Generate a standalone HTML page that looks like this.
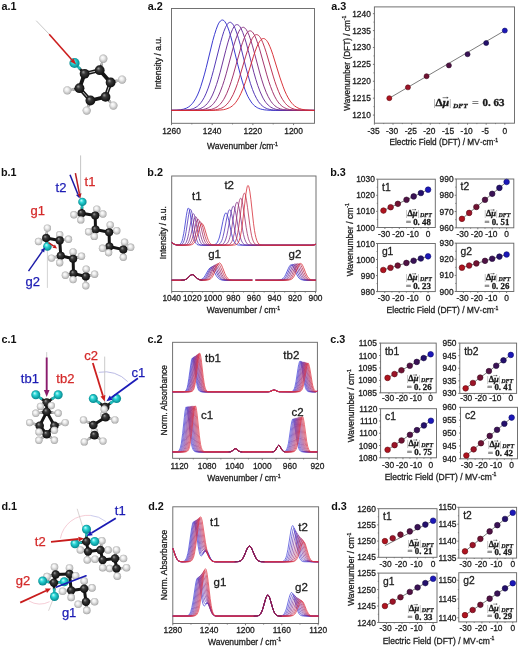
<!DOCTYPE html>
<html><head><meta charset="utf-8"><style>
html,body{margin:0;padding:0;background:#fff;overflow:hidden;}
svg{display:block;}
</style></head><body>
<svg width="520" height="647" viewBox="0 0 520 647">
<rect width="520" height="647" fill="#fff"/>
<defs>
<radialGradient id="gC" cx="50%" cy="50%" r="55%" fx="35%" fy="30%"><stop offset="0" stop-color="#a0a0a0"/><stop offset="0.35" stop-color="#3a3a3a"/><stop offset="1" stop-color="#080808"/></radialGradient>
<radialGradient id="gH" cx="50%" cy="50%" r="55%" fx="38%" fy="32%"><stop offset="0" stop-color="#ffffff"/><stop offset="0.4" stop-color="#ebebeb"/><stop offset="0.8" stop-color="#bdbdbd"/><stop offset="1" stop-color="#8a8a8a"/></radialGradient>
<radialGradient id="gF" cx="50%" cy="50%" r="55%" fx="35%" fy="30%"><stop offset="0" stop-color="#c8ffff"/><stop offset="0.4" stop-color="#28d4d4"/><stop offset="1" stop-color="#007c84"/></radialGradient>
</defs>
<line x1="84.6" y1="73.8" x2="99.7" y2="70.2" stroke="#151515" stroke-width="3.8" stroke-linecap="round"/>
<line x1="84.6" y1="73.8" x2="99.7" y2="70.2" stroke="#d8d8d8" stroke-width="0.9" stroke-linecap="round"/>
<line x1="99.7" y1="70.2" x2="110.6" y2="82.5" stroke="#151515" stroke-width="3.8" stroke-linecap="round"/>
<line x1="110.6" y1="82.5" x2="105.5" y2="96.9" stroke="#151515" stroke-width="3.8" stroke-linecap="round"/>
<line x1="110.6" y1="82.5" x2="105.5" y2="96.9" stroke="#d8d8d8" stroke-width="0.9" stroke-linecap="round"/>
<line x1="105.5" y1="96.9" x2="90.4" y2="100.5" stroke="#151515" stroke-width="3.8" stroke-linecap="round"/>
<line x1="90.4" y1="100.5" x2="79.5" y2="88.2" stroke="#151515" stroke-width="3.8" stroke-linecap="round"/>
<line x1="90.4" y1="100.5" x2="79.5" y2="88.2" stroke="#d8d8d8" stroke-width="0.9" stroke-linecap="round"/>
<line x1="79.5" y1="88.2" x2="84.6" y2="73.8" stroke="#151515" stroke-width="3.8" stroke-linecap="round"/>
<line x1="99.7" y1="70.2" x2="101.5" y2="64.5" stroke="#202020" stroke-width="2.4" stroke-linecap="round"/>
<line x1="101.5" y1="64.5" x2="103.3" y2="58.7" stroke="#b8b8b8" stroke-width="2.4" stroke-linecap="round"/>
<line x1="110.6" y1="82.5" x2="116.3" y2="81.0" stroke="#202020" stroke-width="2.4" stroke-linecap="round"/>
<line x1="116.3" y1="81.0" x2="122.1" y2="79.6" stroke="#b8b8b8" stroke-width="2.4" stroke-linecap="round"/>
<line x1="105.5" y1="96.9" x2="109.5" y2="101.2" stroke="#202020" stroke-width="2.4" stroke-linecap="round"/>
<line x1="109.5" y1="101.2" x2="113.4" y2="105.6" stroke="#b8b8b8" stroke-width="2.4" stroke-linecap="round"/>
<line x1="90.4" y1="100.5" x2="88.6" y2="105.5" stroke="#202020" stroke-width="2.4" stroke-linecap="round"/>
<line x1="88.6" y1="105.5" x2="86.7" y2="110.6" stroke="#b8b8b8" stroke-width="2.4" stroke-linecap="round"/>
<line x1="79.5" y1="88.2" x2="73.4" y2="89.3" stroke="#202020" stroke-width="2.4" stroke-linecap="round"/>
<line x1="73.4" y1="89.3" x2="67.3" y2="90.4" stroke="#b8b8b8" stroke-width="2.4" stroke-linecap="round"/>
<line x1="84.6" y1="73.8" x2="79.5" y2="68.4" stroke="#202020" stroke-width="2.6" stroke-linecap="round"/>
<line x1="79.5" y1="68.4" x2="74.5" y2="63.0" stroke="#20b8b8" stroke-width="2.6" stroke-linecap="round"/>
<circle cx="103.3" cy="58.7" r="4.14" fill="url(#gH)"/>
<circle cx="122.1" cy="79.6" r="4.14" fill="url(#gH)"/>
<circle cx="84.6" cy="73.8" r="4.9" fill="url(#gC)"/>
<circle cx="99.7" cy="70.2" r="4.9" fill="url(#gC)"/>
<circle cx="110.6" cy="82.5" r="4.9" fill="url(#gC)"/>
<circle cx="105.5" cy="96.9" r="4.9" fill="url(#gC)"/>
<circle cx="90.4" cy="100.5" r="4.9" fill="url(#gC)"/>
<circle cx="79.5" cy="88.2" r="4.9" fill="url(#gC)"/>
<circle cx="113.4" cy="105.6" r="4.14" fill="url(#gH)"/>
<circle cx="86.7" cy="110.6" r="4.14" fill="url(#gH)"/>
<circle cx="67.3" cy="90.4" r="4.14" fill="url(#gH)"/>
<circle cx="74.5" cy="63.0" r="5.1" fill="url(#gF)"/>
<line x1="36.5" y1="21.0" x2="49.2" y2="34.2" stroke="#c8c8c8" stroke-width="1.0" stroke-linecap="round"/>
<line x1="49.2" y1="34.2" x2="72.0" y2="60.0" stroke="#cc1e1e" stroke-width="1.6" stroke-linecap="butt"/>
<polygon points="76.0,64.5 70.3,61.5 73.7,58.5" fill="#cc1e1e"/>
<line x1="80.6" y1="155.8" x2="80.6" y2="199.0" stroke="#c0c0c0" stroke-width="0.9" stroke-linecap="round"/>
<line x1="81.6" y1="213.3" x2="95.2" y2="215.6" stroke="#151515" stroke-width="3.0" stroke-linecap="round"/>
<line x1="95.2" y1="215.6" x2="95.5" y2="229.5" stroke="#151515" stroke-width="3.0" stroke-linecap="round"/>
<line x1="95.5" y1="229.5" x2="109.1" y2="232.3" stroke="#151515" stroke-width="3.0" stroke-linecap="round"/>
<line x1="109.1" y1="232.3" x2="109.4" y2="246.5" stroke="#151515" stroke-width="3.0" stroke-linecap="round"/>
<line x1="109.4" y1="246.5" x2="123.3" y2="249.6" stroke="#151515" stroke-width="3.0" stroke-linecap="round"/>
<line x1="81.6" y1="213.3" x2="77.8" y2="214.1" stroke="#202020" stroke-width="2.4" stroke-linecap="round"/>
<line x1="77.8" y1="214.1" x2="73.9" y2="214.8" stroke="#b8b8b8" stroke-width="2.4" stroke-linecap="round"/>
<line x1="81.6" y1="213.3" x2="81.2" y2="216.6" stroke="#202020" stroke-width="2.4" stroke-linecap="round"/>
<line x1="81.2" y1="216.6" x2="80.8" y2="219.9" stroke="#b8b8b8" stroke-width="2.4" stroke-linecap="round"/>
<line x1="95.2" y1="215.6" x2="96.0" y2="212.3" stroke="#202020" stroke-width="2.4" stroke-linecap="round"/>
<line x1="96.0" y1="212.3" x2="96.8" y2="209.1" stroke="#b8b8b8" stroke-width="2.4" stroke-linecap="round"/>
<line x1="95.2" y1="215.6" x2="99.1" y2="214.8" stroke="#202020" stroke-width="2.4" stroke-linecap="round"/>
<line x1="99.1" y1="214.8" x2="102.9" y2="214.0" stroke="#b8b8b8" stroke-width="2.4" stroke-linecap="round"/>
<line x1="95.5" y1="229.5" x2="92.0" y2="230.7" stroke="#202020" stroke-width="2.4" stroke-linecap="round"/>
<line x1="92.0" y1="230.7" x2="88.6" y2="231.8" stroke="#b8b8b8" stroke-width="2.4" stroke-linecap="round"/>
<line x1="95.5" y1="229.5" x2="94.9" y2="232.9" stroke="#202020" stroke-width="2.4" stroke-linecap="round"/>
<line x1="94.9" y1="232.9" x2="94.3" y2="236.4" stroke="#b8b8b8" stroke-width="2.4" stroke-linecap="round"/>
<line x1="109.1" y1="232.3" x2="109.7" y2="228.6" stroke="#202020" stroke-width="2.4" stroke-linecap="round"/>
<line x1="109.7" y1="228.6" x2="110.2" y2="224.9" stroke="#b8b8b8" stroke-width="2.4" stroke-linecap="round"/>
<line x1="109.1" y1="232.3" x2="112.9" y2="231.5" stroke="#202020" stroke-width="2.4" stroke-linecap="round"/>
<line x1="112.9" y1="231.5" x2="116.8" y2="230.7" stroke="#b8b8b8" stroke-width="2.4" stroke-linecap="round"/>
<line x1="109.4" y1="246.5" x2="106.0" y2="247.4" stroke="#202020" stroke-width="2.4" stroke-linecap="round"/>
<line x1="106.0" y1="247.4" x2="102.5" y2="248.3" stroke="#b8b8b8" stroke-width="2.4" stroke-linecap="round"/>
<line x1="109.4" y1="246.5" x2="109.0" y2="249.6" stroke="#202020" stroke-width="2.4" stroke-linecap="round"/>
<line x1="109.0" y1="249.6" x2="108.6" y2="252.7" stroke="#b8b8b8" stroke-width="2.4" stroke-linecap="round"/>
<line x1="123.3" y1="249.6" x2="123.9" y2="245.9" stroke="#202020" stroke-width="2.4" stroke-linecap="round"/>
<line x1="123.9" y1="245.9" x2="124.6" y2="242.2" stroke="#b8b8b8" stroke-width="2.4" stroke-linecap="round"/>
<line x1="123.3" y1="249.6" x2="127.0" y2="248.4" stroke="#202020" stroke-width="2.4" stroke-linecap="round"/>
<line x1="127.0" y1="248.4" x2="130.7" y2="247.3" stroke="#b8b8b8" stroke-width="2.4" stroke-linecap="round"/>
<line x1="123.3" y1="249.6" x2="123.3" y2="253.4" stroke="#202020" stroke-width="2.4" stroke-linecap="round"/>
<line x1="123.3" y1="253.4" x2="123.3" y2="257.3" stroke="#b8b8b8" stroke-width="2.4" stroke-linecap="round"/>
<line x1="81.6" y1="213.3" x2="82.0" y2="207.6" stroke="#202020" stroke-width="2.6" stroke-linecap="round"/>
<line x1="82.0" y1="207.6" x2="82.4" y2="201.9" stroke="#20b8b8" stroke-width="2.6" stroke-linecap="round"/>
<circle cx="96.8" cy="209.1" r="3.6799999999999997" fill="url(#gH)"/>
<circle cx="102.9" cy="214.0" r="3.6799999999999997" fill="url(#gH)"/>
<circle cx="110.2" cy="224.9" r="3.6799999999999997" fill="url(#gH)"/>
<circle cx="116.8" cy="230.7" r="3.6799999999999997" fill="url(#gH)"/>
<circle cx="124.6" cy="242.2" r="3.6799999999999997" fill="url(#gH)"/>
<circle cx="130.7" cy="247.3" r="3.6799999999999997" fill="url(#gH)"/>
<circle cx="81.6" cy="213.3" r="4.1" fill="url(#gC)"/>
<circle cx="95.2" cy="215.6" r="4.1" fill="url(#gC)"/>
<circle cx="95.5" cy="229.5" r="4.1" fill="url(#gC)"/>
<circle cx="109.1" cy="232.3" r="4.1" fill="url(#gC)"/>
<circle cx="109.4" cy="246.5" r="4.1" fill="url(#gC)"/>
<circle cx="123.3" cy="249.6" r="4.1" fill="url(#gC)"/>
<circle cx="73.9" cy="214.8" r="3.6799999999999997" fill="url(#gH)"/>
<circle cx="80.8" cy="219.9" r="3.6799999999999997" fill="url(#gH)"/>
<circle cx="88.6" cy="231.8" r="3.6799999999999997" fill="url(#gH)"/>
<circle cx="94.3" cy="236.4" r="3.6799999999999997" fill="url(#gH)"/>
<circle cx="102.5" cy="248.3" r="3.6799999999999997" fill="url(#gH)"/>
<circle cx="108.6" cy="252.7" r="3.6799999999999997" fill="url(#gH)"/>
<circle cx="123.3" cy="257.3" r="3.6799999999999997" fill="url(#gH)"/>
<circle cx="82.4" cy="201.9" r="4.2" fill="url(#gF)"/>
<line x1="70.0" y1="174.7" x2="77.9" y2="194.3" stroke="#1a1aa8" stroke-width="1.5" stroke-linecap="butt"/>
<polygon points="79.6,198.5 76.0,195.1 79.9,193.5" fill="#1a1aa8"/>
<line x1="75.4" y1="173.1" x2="79.4" y2="193.6" stroke="#b81c22" stroke-width="1.5" stroke-linecap="butt"/>
<polygon points="80.3,198.0 77.4,194.0 81.5,193.2" fill="#b81c22"/>
<line x1="47.4" y1="247.0" x2="47.4" y2="287.5" stroke="#c8c8c8" stroke-width="0.8" stroke-linecap="round"/>
<line x1="47.4" y1="247.0" x2="33.0" y2="262.0" stroke="#e0d8d8" stroke-width="0.6" stroke-linecap="round"/>
<line x1="46.2" y1="238.1" x2="59.7" y2="240.4" stroke="#151515" stroke-width="3.0" stroke-linecap="round"/>
<line x1="59.7" y1="240.4" x2="60.8" y2="255.8" stroke="#151515" stroke-width="3.0" stroke-linecap="round"/>
<line x1="60.8" y1="255.8" x2="73.1" y2="258.8" stroke="#151515" stroke-width="3.0" stroke-linecap="round"/>
<line x1="73.1" y1="258.8" x2="73.5" y2="273.5" stroke="#151515" stroke-width="3.0" stroke-linecap="round"/>
<line x1="73.5" y1="273.5" x2="85.8" y2="276.5" stroke="#151515" stroke-width="3.0" stroke-linecap="round"/>
<line x1="46.2" y1="238.1" x2="46.8" y2="233.1" stroke="#202020" stroke-width="2.4" stroke-linecap="round"/>
<line x1="46.8" y1="233.1" x2="47.4" y2="228.1" stroke="#b8b8b8" stroke-width="2.4" stroke-linecap="round"/>
<line x1="46.2" y1="238.1" x2="42.4" y2="239.8" stroke="#202020" stroke-width="2.4" stroke-linecap="round"/>
<line x1="42.4" y1="239.8" x2="38.5" y2="241.5" stroke="#b8b8b8" stroke-width="2.4" stroke-linecap="round"/>
<line x1="59.7" y1="240.4" x2="59.7" y2="237.6" stroke="#202020" stroke-width="2.4" stroke-linecap="round"/>
<line x1="59.7" y1="237.6" x2="59.7" y2="234.7" stroke="#b8b8b8" stroke-width="2.4" stroke-linecap="round"/>
<line x1="59.7" y1="240.4" x2="64.1" y2="239.9" stroke="#202020" stroke-width="2.4" stroke-linecap="round"/>
<line x1="64.1" y1="239.9" x2="68.5" y2="239.3" stroke="#b8b8b8" stroke-width="2.4" stroke-linecap="round"/>
<line x1="60.8" y1="255.8" x2="56.1" y2="257.0" stroke="#202020" stroke-width="2.4" stroke-linecap="round"/>
<line x1="56.1" y1="257.0" x2="51.5" y2="258.1" stroke="#b8b8b8" stroke-width="2.4" stroke-linecap="round"/>
<line x1="60.8" y1="255.8" x2="60.2" y2="259.2" stroke="#202020" stroke-width="2.4" stroke-linecap="round"/>
<line x1="60.2" y1="259.2" x2="59.7" y2="262.7" stroke="#b8b8b8" stroke-width="2.4" stroke-linecap="round"/>
<line x1="73.1" y1="258.8" x2="73.1" y2="255.4" stroke="#202020" stroke-width="2.4" stroke-linecap="round"/>
<line x1="73.1" y1="255.4" x2="73.1" y2="251.9" stroke="#b8b8b8" stroke-width="2.4" stroke-linecap="round"/>
<line x1="73.1" y1="258.8" x2="77.3" y2="257.5" stroke="#202020" stroke-width="2.4" stroke-linecap="round"/>
<line x1="77.3" y1="257.5" x2="81.5" y2="256.2" stroke="#b8b8b8" stroke-width="2.4" stroke-linecap="round"/>
<line x1="73.5" y1="273.5" x2="69.5" y2="274.4" stroke="#202020" stroke-width="2.4" stroke-linecap="round"/>
<line x1="69.5" y1="274.4" x2="65.4" y2="275.3" stroke="#b8b8b8" stroke-width="2.4" stroke-linecap="round"/>
<line x1="73.5" y1="273.5" x2="73.3" y2="276.6" stroke="#202020" stroke-width="2.4" stroke-linecap="round"/>
<line x1="73.3" y1="276.6" x2="73.1" y2="279.6" stroke="#b8b8b8" stroke-width="2.4" stroke-linecap="round"/>
<line x1="85.8" y1="276.5" x2="86.0" y2="272.9" stroke="#202020" stroke-width="2.4" stroke-linecap="round"/>
<line x1="86.0" y1="272.9" x2="86.2" y2="269.2" stroke="#b8b8b8" stroke-width="2.4" stroke-linecap="round"/>
<line x1="85.8" y1="276.5" x2="90.2" y2="275.4" stroke="#202020" stroke-width="2.4" stroke-linecap="round"/>
<line x1="90.2" y1="275.4" x2="94.6" y2="274.2" stroke="#b8b8b8" stroke-width="2.4" stroke-linecap="round"/>
<line x1="85.8" y1="276.5" x2="85.8" y2="281.1" stroke="#202020" stroke-width="2.4" stroke-linecap="round"/>
<line x1="85.8" y1="281.1" x2="85.8" y2="285.8" stroke="#b8b8b8" stroke-width="2.4" stroke-linecap="round"/>
<line x1="46.2" y1="238.1" x2="46.8" y2="242.3" stroke="#202020" stroke-width="2.6" stroke-linecap="round"/>
<line x1="46.8" y1="242.3" x2="47.4" y2="246.5" stroke="#20b8b8" stroke-width="2.6" stroke-linecap="round"/>
<circle cx="47.4" cy="228.1" r="3.6799999999999997" fill="url(#gH)"/>
<circle cx="59.7" cy="234.7" r="3.6799999999999997" fill="url(#gH)"/>
<circle cx="68.5" cy="239.3" r="3.6799999999999997" fill="url(#gH)"/>
<circle cx="73.1" cy="251.9" r="3.6799999999999997" fill="url(#gH)"/>
<circle cx="81.5" cy="256.2" r="3.6799999999999997" fill="url(#gH)"/>
<circle cx="86.2" cy="269.2" r="3.6799999999999997" fill="url(#gH)"/>
<circle cx="94.6" cy="274.2" r="3.6799999999999997" fill="url(#gH)"/>
<circle cx="46.2" cy="238.1" r="4.1" fill="url(#gC)"/>
<circle cx="59.7" cy="240.4" r="4.1" fill="url(#gC)"/>
<circle cx="60.8" cy="255.8" r="4.1" fill="url(#gC)"/>
<circle cx="73.1" cy="258.8" r="4.1" fill="url(#gC)"/>
<circle cx="73.5" cy="273.5" r="4.1" fill="url(#gC)"/>
<circle cx="85.8" cy="276.5" r="4.1" fill="url(#gC)"/>
<circle cx="38.5" cy="241.5" r="3.6799999999999997" fill="url(#gH)"/>
<circle cx="51.5" cy="258.1" r="3.6799999999999997" fill="url(#gH)"/>
<circle cx="59.7" cy="262.7" r="3.6799999999999997" fill="url(#gH)"/>
<circle cx="65.4" cy="275.3" r="3.6799999999999997" fill="url(#gH)"/>
<circle cx="73.1" cy="279.6" r="3.6799999999999997" fill="url(#gH)"/>
<circle cx="85.8" cy="285.8" r="3.6799999999999997" fill="url(#gH)"/>
<circle cx="47.4" cy="246.5" r="4.3" fill="url(#gF)"/>
<line x1="48.5" y1="242.5" x2="53.7" y2="246.2" stroke="#c01818" stroke-width="1.5" stroke-linecap="butt"/>
<polygon points="57.0,248.5 52.6,247.8 54.9,244.6" fill="#c01818"/>
<line x1="28.5" y1="271.2" x2="42.4" y2="251.2" stroke="#1a1aa8" stroke-width="1.4" stroke-linecap="butt"/>
<polygon points="45.0,247.5 44.2,252.4 40.7,250.0" fill="#1a1aa8"/>
<text x="84.6" y="186.0" font-size="13" fill="#d42a2a" stroke="#d42a2a" stroke-width="0.25" font-family="Liberation Sans, Arial, sans-serif">t1</text>
<text x="55.6" y="191.7" font-size="13" fill="#1c1cb4" stroke="#1c1cb4" stroke-width="0.25" font-family="Liberation Sans, Arial, sans-serif">t2</text>
<text x="30.6" y="214.5" font-size="13" fill="#d42a2a" stroke="#d42a2a" stroke-width="0.25" font-family="Liberation Sans, Arial, sans-serif">g1</text>
<text x="25.6" y="285.5" font-size="13" fill="#1c1cb4" stroke="#1c1cb4" stroke-width="0.25" font-family="Liberation Sans, Arial, sans-serif">g2</text>
<line x1="46.7" y1="352.5" x2="46.7" y2="358.0" stroke="#c8c8c8" stroke-width="0.9" stroke-linecap="round"/>
<line x1="46.7" y1="402.5" x2="46.7" y2="411.8" stroke="#151515" stroke-width="3.0" stroke-linecap="round"/>
<line x1="46.7" y1="411.8" x2="39.7" y2="425.7" stroke="#151515" stroke-width="3.0" stroke-linecap="round"/>
<line x1="46.7" y1="411.8" x2="54.4" y2="425.7" stroke="#151515" stroke-width="3.0" stroke-linecap="round"/>
<line x1="39.7" y1="425.7" x2="46.7" y2="434.2" stroke="#151515" stroke-width="3.0" stroke-linecap="round"/>
<line x1="54.4" y1="425.7" x2="46.7" y2="434.2" stroke="#151515" stroke-width="3.0" stroke-linecap="round"/>
<line x1="46.7" y1="402.5" x2="43.6" y2="404.4" stroke="#202020" stroke-width="2.4" stroke-linecap="round"/>
<line x1="43.6" y1="404.4" x2="40.5" y2="406.4" stroke="#b8b8b8" stroke-width="2.4" stroke-linecap="round"/>
<line x1="46.7" y1="402.5" x2="49.0" y2="404.1" stroke="#202020" stroke-width="2.4" stroke-linecap="round"/>
<line x1="49.0" y1="404.1" x2="51.3" y2="405.6" stroke="#b8b8b8" stroke-width="2.4" stroke-linecap="round"/>
<line x1="46.7" y1="411.8" x2="41.2" y2="412.6" stroke="#202020" stroke-width="2.4" stroke-linecap="round"/>
<line x1="41.2" y1="412.6" x2="35.8" y2="413.3" stroke="#b8b8b8" stroke-width="2.4" stroke-linecap="round"/>
<line x1="46.7" y1="411.8" x2="52.5" y2="412.6" stroke="#202020" stroke-width="2.4" stroke-linecap="round"/>
<line x1="52.5" y1="412.6" x2="58.2" y2="413.3" stroke="#b8b8b8" stroke-width="2.4" stroke-linecap="round"/>
<line x1="39.7" y1="425.7" x2="34.7" y2="424.1" stroke="#202020" stroke-width="2.4" stroke-linecap="round"/>
<line x1="34.7" y1="424.1" x2="29.7" y2="422.6" stroke="#b8b8b8" stroke-width="2.4" stroke-linecap="round"/>
<line x1="39.7" y1="425.7" x2="39.3" y2="428.8" stroke="#202020" stroke-width="2.4" stroke-linecap="round"/>
<line x1="39.3" y1="428.8" x2="38.9" y2="431.9" stroke="#b8b8b8" stroke-width="2.4" stroke-linecap="round"/>
<line x1="54.4" y1="425.7" x2="59.8" y2="424.1" stroke="#202020" stroke-width="2.4" stroke-linecap="round"/>
<line x1="59.8" y1="424.1" x2="65.2" y2="422.6" stroke="#b8b8b8" stroke-width="2.4" stroke-linecap="round"/>
<line x1="54.4" y1="425.7" x2="54.4" y2="428.0" stroke="#202020" stroke-width="2.4" stroke-linecap="round"/>
<line x1="54.4" y1="428.0" x2="54.4" y2="430.3" stroke="#b8b8b8" stroke-width="2.4" stroke-linecap="round"/>
<line x1="46.7" y1="434.2" x2="42.8" y2="437.2" stroke="#202020" stroke-width="2.4" stroke-linecap="round"/>
<line x1="42.8" y1="437.2" x2="38.9" y2="440.3" stroke="#b8b8b8" stroke-width="2.4" stroke-linecap="round"/>
<line x1="46.7" y1="434.2" x2="50.5" y2="437.2" stroke="#202020" stroke-width="2.4" stroke-linecap="round"/>
<line x1="50.5" y1="437.2" x2="54.4" y2="440.3" stroke="#b8b8b8" stroke-width="2.4" stroke-linecap="round"/>
<line x1="46.7" y1="402.5" x2="41.2" y2="398.6" stroke="#202020" stroke-width="2.6" stroke-linecap="round"/>
<line x1="41.2" y1="398.6" x2="35.8" y2="394.8" stroke="#20b8b8" stroke-width="2.6" stroke-linecap="round"/>
<line x1="46.7" y1="402.5" x2="52.5" y2="398.6" stroke="#202020" stroke-width="2.6" stroke-linecap="round"/>
<line x1="52.5" y1="398.6" x2="58.2" y2="394.8" stroke="#20b8b8" stroke-width="2.6" stroke-linecap="round"/>
<circle cx="29.7" cy="422.6" r="3.6799999999999997" fill="url(#gH)"/>
<circle cx="65.2" cy="422.6" r="3.6799999999999997" fill="url(#gH)"/>
<circle cx="46.7" cy="402.5" r="4.3" fill="url(#gC)"/>
<circle cx="46.7" cy="411.8" r="4.3" fill="url(#gC)"/>
<circle cx="39.7" cy="425.7" r="4.3" fill="url(#gC)"/>
<circle cx="54.4" cy="425.7" r="4.3" fill="url(#gC)"/>
<circle cx="46.7" cy="434.2" r="4.3" fill="url(#gC)"/>
<circle cx="40.5" cy="406.4" r="3.6799999999999997" fill="url(#gH)"/>
<circle cx="51.3" cy="405.6" r="3.6799999999999997" fill="url(#gH)"/>
<circle cx="35.8" cy="413.3" r="3.6799999999999997" fill="url(#gH)"/>
<circle cx="58.2" cy="413.3" r="3.6799999999999997" fill="url(#gH)"/>
<circle cx="38.9" cy="431.9" r="3.6799999999999997" fill="url(#gH)"/>
<circle cx="54.4" cy="430.3" r="3.6799999999999997" fill="url(#gH)"/>
<circle cx="38.9" cy="440.3" r="3.6799999999999997" fill="url(#gH)"/>
<circle cx="54.4" cy="440.3" r="3.6799999999999997" fill="url(#gH)"/>
<circle cx="35.8" cy="394.8" r="4.5" fill="url(#gF)"/>
<circle cx="58.2" cy="394.8" r="4.5" fill="url(#gF)"/>
<line x1="46.7" y1="357.5" x2="46.7" y2="390.0" stroke="#8a1c6c" stroke-width="1.9" stroke-linecap="butt"/>
<polygon points="46.7,397.0 43.9,390.0 49.5,390.0" fill="#8a1c6c"/>
<text x="20.8" y="383.2" font-size="13" fill="#1c1cb4" stroke="#1c1cb4" stroke-width="0.25" font-family="Liberation Sans, Arial, sans-serif">tb1</text>
<text x="56.3" y="383.2" font-size="13" fill="#d42a2a" stroke="#d42a2a" stroke-width="0.25" font-family="Liberation Sans, Arial, sans-serif">tb2</text>
<path d="M 98.8 372.3 A 32 32 0 0 1 127.7 381.6" fill="none" stroke="#9c9cd8" stroke-width="0.7"/>
<line x1="104.7" y1="357.0" x2="104.7" y2="402.9" stroke="#c4c4c4" stroke-width="0.9" stroke-linecap="round"/>
<line x1="105.2" y1="407.1" x2="105.6" y2="417.3" stroke="#151515" stroke-width="3.0" stroke-linecap="round"/>
<line x1="105.6" y1="417.3" x2="93.3" y2="425.0" stroke="#151515" stroke-width="3.0" stroke-linecap="round"/>
<line x1="93.3" y1="425.0" x2="94.5" y2="435.1" stroke="#151515" stroke-width="3.0" stroke-linecap="round"/>
<line x1="105.2" y1="407.1" x2="104.7" y2="408.2" stroke="#202020" stroke-width="2.4" stroke-linecap="round"/>
<line x1="104.7" y1="408.2" x2="104.2" y2="409.3" stroke="#b8b8b8" stroke-width="2.4" stroke-linecap="round"/>
<line x1="105.6" y1="417.3" x2="110.2" y2="418.6" stroke="#202020" stroke-width="2.4" stroke-linecap="round"/>
<line x1="110.2" y1="418.6" x2="114.9" y2="419.9" stroke="#b8b8b8" stroke-width="2.4" stroke-linecap="round"/>
<line x1="105.6" y1="417.3" x2="104.8" y2="416.1" stroke="#202020" stroke-width="2.4" stroke-linecap="round"/>
<line x1="104.8" y1="416.1" x2="103.9" y2="414.8" stroke="#b8b8b8" stroke-width="2.4" stroke-linecap="round"/>
<line x1="93.3" y1="425.0" x2="88.4" y2="422.4" stroke="#202020" stroke-width="2.4" stroke-linecap="round"/>
<line x1="88.4" y1="422.4" x2="83.5" y2="419.9" stroke="#b8b8b8" stroke-width="2.4" stroke-linecap="round"/>
<line x1="94.5" y1="435.1" x2="94.5" y2="433.4" stroke="#202020" stroke-width="2.4" stroke-linecap="round"/>
<line x1="94.5" y1="433.4" x2="94.5" y2="431.7" stroke="#b8b8b8" stroke-width="2.4" stroke-linecap="round"/>
<line x1="94.5" y1="435.1" x2="89.4" y2="438.5" stroke="#202020" stroke-width="2.4" stroke-linecap="round"/>
<line x1="89.4" y1="438.5" x2="84.3" y2="441.9" stroke="#b8b8b8" stroke-width="2.4" stroke-linecap="round"/>
<line x1="94.5" y1="435.1" x2="98.8" y2="438.1" stroke="#202020" stroke-width="2.4" stroke-linecap="round"/>
<line x1="98.8" y1="438.1" x2="103.0" y2="441.1" stroke="#b8b8b8" stroke-width="2.4" stroke-linecap="round"/>
<line x1="105.2" y1="407.1" x2="99.2" y2="402.9" stroke="#202020" stroke-width="2.6" stroke-linecap="round"/>
<line x1="99.2" y1="402.9" x2="93.3" y2="398.6" stroke="#20b8b8" stroke-width="2.6" stroke-linecap="round"/>
<line x1="105.2" y1="407.1" x2="110.9" y2="402.9" stroke="#202020" stroke-width="2.6" stroke-linecap="round"/>
<line x1="110.9" y1="402.9" x2="116.6" y2="398.6" stroke="#20b8b8" stroke-width="2.6" stroke-linecap="round"/>
<circle cx="103.9" cy="414.8" r="3.6799999999999997" fill="url(#gH)"/>
<circle cx="83.5" cy="419.9" r="3.6799999999999997" fill="url(#gH)"/>
<circle cx="94.5" cy="431.7" r="3.6799999999999997" fill="url(#gH)"/>
<circle cx="105.2" cy="407.1" r="4.3" fill="url(#gC)"/>
<circle cx="105.6" cy="417.3" r="4.3" fill="url(#gC)"/>
<circle cx="93.3" cy="425.0" r="4.3" fill="url(#gC)"/>
<circle cx="94.5" cy="435.1" r="4.3" fill="url(#gC)"/>
<circle cx="104.2" cy="409.3" r="3.6799999999999997" fill="url(#gH)"/>
<circle cx="114.9" cy="419.9" r="3.6799999999999997" fill="url(#gH)"/>
<circle cx="84.3" cy="441.9" r="3.6799999999999997" fill="url(#gH)"/>
<circle cx="103.0" cy="441.1" r="3.6799999999999997" fill="url(#gH)"/>
<circle cx="93.3" cy="398.6" r="4.5" fill="url(#gF)"/>
<circle cx="116.6" cy="398.6" r="4.5" fill="url(#gF)"/>
<line x1="92.8" y1="362.9" x2="102.9" y2="395.8" stroke="#cc2020" stroke-width="1.8" stroke-linecap="butt"/>
<polygon points="104.7,401.5 100.5,396.5 105.3,395.0" fill="#cc2020"/>
<line x1="137.9" y1="378.2" x2="111.2" y2="397.7" stroke="#1c1cb8" stroke-width="1.8" stroke-linecap="butt"/>
<polygon points="106.4,401.2 109.8,395.6 112.7,399.7" fill="#1c1cb8"/>
<text x="84.2" y="360.4" font-size="13" fill="#d42a2a" stroke="#d42a2a" stroke-width="0.25" font-family="Liberation Sans, Arial, sans-serif">c2</text>
<text x="131.6" y="376.8" font-size="13" fill="#1c1cb4" stroke="#1c1cb4" stroke-width="0.25" font-family="Liberation Sans, Arial, sans-serif">c1</text>
<path d="M 60.4 538.5 A 28 28 0 0 1 90.4 515.4" fill="none" stroke="#f0b8c4" stroke-width="0.7"/>
<path d="M 90.4 515.4 A 28 28 0 0 1 105.8 521.5" fill="none" stroke="#b4b4e4" stroke-width="0.7"/>
<line x1="77.3" y1="509.2" x2="82.7" y2="527.0" stroke="#c8c0c0" stroke-width="0.7" stroke-linecap="round"/>
<line x1="86.5" y1="541.5" x2="88.1" y2="551.5" stroke="#151515" stroke-width="3.0" stroke-linecap="round"/>
<line x1="88.1" y1="551.5" x2="100.4" y2="550.0" stroke="#151515" stroke-width="3.0" stroke-linecap="round"/>
<line x1="100.4" y1="550.0" x2="102.7" y2="560.0" stroke="#151515" stroke-width="3.0" stroke-linecap="round"/>
<line x1="102.7" y1="560.0" x2="115.0" y2="558.5" stroke="#151515" stroke-width="3.0" stroke-linecap="round"/>
<line x1="115.0" y1="558.5" x2="116.5" y2="568.5" stroke="#151515" stroke-width="3.0" stroke-linecap="round"/>
<line x1="100.4" y1="550.0" x2="101.2" y2="545.4" stroke="#202020" stroke-width="2.4" stroke-linecap="round"/>
<line x1="101.2" y1="545.4" x2="101.9" y2="540.8" stroke="#b8b8b8" stroke-width="2.4" stroke-linecap="round"/>
<line x1="88.1" y1="551.5" x2="84.2" y2="550.8" stroke="#202020" stroke-width="2.4" stroke-linecap="round"/>
<line x1="84.2" y1="550.8" x2="80.4" y2="550.0" stroke="#b8b8b8" stroke-width="2.4" stroke-linecap="round"/>
<line x1="88.1" y1="551.5" x2="87.7" y2="555.8" stroke="#202020" stroke-width="2.4" stroke-linecap="round"/>
<line x1="87.7" y1="555.8" x2="87.3" y2="560.0" stroke="#b8b8b8" stroke-width="2.4" stroke-linecap="round"/>
<line x1="100.4" y1="550.0" x2="104.2" y2="550.0" stroke="#202020" stroke-width="2.4" stroke-linecap="round"/>
<line x1="104.2" y1="550.0" x2="108.1" y2="550.0" stroke="#b8b8b8" stroke-width="2.4" stroke-linecap="round"/>
<line x1="102.7" y1="560.0" x2="98.8" y2="559.6" stroke="#202020" stroke-width="2.4" stroke-linecap="round"/>
<line x1="98.8" y1="559.6" x2="95.0" y2="559.2" stroke="#b8b8b8" stroke-width="2.4" stroke-linecap="round"/>
<line x1="102.7" y1="560.0" x2="102.7" y2="563.9" stroke="#202020" stroke-width="2.4" stroke-linecap="round"/>
<line x1="102.7" y1="563.9" x2="102.7" y2="567.7" stroke="#b8b8b8" stroke-width="2.4" stroke-linecap="round"/>
<line x1="115.0" y1="558.5" x2="115.8" y2="554.2" stroke="#202020" stroke-width="2.4" stroke-linecap="round"/>
<line x1="115.8" y1="554.2" x2="116.5" y2="550.0" stroke="#b8b8b8" stroke-width="2.4" stroke-linecap="round"/>
<line x1="115.0" y1="558.5" x2="119.2" y2="558.5" stroke="#202020" stroke-width="2.4" stroke-linecap="round"/>
<line x1="119.2" y1="558.5" x2="123.5" y2="558.5" stroke="#b8b8b8" stroke-width="2.4" stroke-linecap="round"/>
<line x1="116.5" y1="568.5" x2="113.0" y2="568.5" stroke="#202020" stroke-width="2.4" stroke-linecap="round"/>
<line x1="113.0" y1="568.5" x2="109.6" y2="568.5" stroke="#b8b8b8" stroke-width="2.4" stroke-linecap="round"/>
<line x1="116.5" y1="568.5" x2="121.5" y2="568.1" stroke="#202020" stroke-width="2.4" stroke-linecap="round"/>
<line x1="121.5" y1="568.1" x2="126.5" y2="567.7" stroke="#b8b8b8" stroke-width="2.4" stroke-linecap="round"/>
<line x1="116.5" y1="568.5" x2="116.9" y2="572.4" stroke="#202020" stroke-width="2.4" stroke-linecap="round"/>
<line x1="116.9" y1="572.4" x2="117.3" y2="576.2" stroke="#b8b8b8" stroke-width="2.4" stroke-linecap="round"/>
<line x1="86.5" y1="541.5" x2="86.5" y2="535.4" stroke="#202020" stroke-width="2.6" stroke-linecap="round"/>
<line x1="86.5" y1="535.4" x2="86.5" y2="529.2" stroke="#20b8b8" stroke-width="2.6" stroke-linecap="round"/>
<line x1="86.5" y1="541.5" x2="80.8" y2="542.6" stroke="#202020" stroke-width="2.6" stroke-linecap="round"/>
<line x1="80.8" y1="542.6" x2="75.0" y2="543.8" stroke="#20b8b8" stroke-width="2.6" stroke-linecap="round"/>
<line x1="86.5" y1="541.5" x2="90.6" y2="541.5" stroke="#202020" stroke-width="2.6" stroke-linecap="round"/>
<line x1="90.6" y1="541.5" x2="94.7" y2="541.5" stroke="#20b8b8" stroke-width="2.6" stroke-linecap="round"/>
<circle cx="101.9" cy="540.8" r="3.7949999999999995" fill="url(#gH)"/>
<circle cx="80.4" cy="550.0" r="3.7949999999999995" fill="url(#gH)"/>
<circle cx="108.1" cy="550.0" r="3.7949999999999995" fill="url(#gH)"/>
<circle cx="95.0" cy="559.2" r="3.7949999999999995" fill="url(#gH)"/>
<circle cx="116.5" cy="550.0" r="3.7949999999999995" fill="url(#gH)"/>
<circle cx="123.5" cy="558.5" r="3.7949999999999995" fill="url(#gH)"/>
<circle cx="109.6" cy="568.5" r="3.7949999999999995" fill="url(#gH)"/>
<circle cx="126.5" cy="567.7" r="3.7949999999999995" fill="url(#gH)"/>
<circle cx="86.5" cy="541.5" r="4.2" fill="url(#gC)"/>
<circle cx="88.1" cy="551.5" r="4.2" fill="url(#gC)"/>
<circle cx="100.4" cy="550.0" r="4.2" fill="url(#gC)"/>
<circle cx="102.7" cy="560.0" r="4.2" fill="url(#gC)"/>
<circle cx="115.0" cy="558.5" r="4.2" fill="url(#gC)"/>
<circle cx="116.5" cy="568.5" r="4.2" fill="url(#gC)"/>
<circle cx="87.3" cy="560.0" r="3.7949999999999995" fill="url(#gH)"/>
<circle cx="102.7" cy="567.7" r="3.7949999999999995" fill="url(#gH)"/>
<circle cx="117.3" cy="576.2" r="3.7949999999999995" fill="url(#gH)"/>
<circle cx="86.5" cy="529.2" r="4.5" fill="url(#gF)"/>
<circle cx="75.0" cy="543.8" r="4.5" fill="url(#gF)"/>
<circle cx="94.7" cy="541.5" r="4.5" fill="url(#gF)"/>
<line x1="51.0" y1="541.8" x2="78.5" y2="539.0" stroke="#c81c1c" stroke-width="1.8" stroke-linecap="butt"/>
<polygon points="84.0,538.5 78.8,541.4 78.3,536.7" fill="#c81c1c"/>
<line x1="115.8" y1="518.2" x2="91.5" y2="533.1" stroke="#1a1ab4" stroke-width="1.8" stroke-linecap="butt"/>
<polygon points="86.8,536.0 90.2,531.1 92.7,535.2" fill="#1a1ab4"/>
<text x="114.8" y="515.4" font-size="13" fill="#1c1cb4" stroke="#1c1cb4" stroke-width="0.25" font-family="Liberation Sans, Arial, sans-serif">t1</text>
<text x="34.8" y="546.0" font-size="13" fill="#d42a2a" stroke="#d42a2a" stroke-width="0.25" font-family="Liberation Sans, Arial, sans-serif">t2</text>
<path d="M 28.8 600.9 A 22 22 0 0 0 49.6 601.7" fill="none" stroke="#f0b8c4" stroke-width="0.7"/>
<line x1="48.7" y1="610.4" x2="54.8" y2="594.8" stroke="#c8c0c0" stroke-width="0.7" stroke-linecap="round"/>
<line x1="53.9" y1="582.7" x2="55.7" y2="574.5" stroke="#151515" stroke-width="3.0" stroke-linecap="round"/>
<line x1="55.7" y1="574.5" x2="69.5" y2="574.0" stroke="#151515" stroke-width="3.0" stroke-linecap="round"/>
<line x1="69.5" y1="574.0" x2="71.2" y2="590.5" stroke="#151515" stroke-width="3.0" stroke-linecap="round"/>
<line x1="71.2" y1="590.5" x2="84.2" y2="588.7" stroke="#151515" stroke-width="3.0" stroke-linecap="round"/>
<line x1="84.2" y1="588.7" x2="86.0" y2="601.7" stroke="#151515" stroke-width="3.0" stroke-linecap="round"/>
<line x1="55.7" y1="574.5" x2="55.1" y2="570.8" stroke="#202020" stroke-width="2.4" stroke-linecap="round"/>
<line x1="55.1" y1="570.8" x2="54.5" y2="567.1" stroke="#b8b8b8" stroke-width="2.4" stroke-linecap="round"/>
<line x1="55.7" y1="574.5" x2="51.4" y2="575.5" stroke="#202020" stroke-width="2.4" stroke-linecap="round"/>
<line x1="51.4" y1="575.5" x2="47.0" y2="576.6" stroke="#b8b8b8" stroke-width="2.4" stroke-linecap="round"/>
<line x1="69.5" y1="574.0" x2="69.5" y2="571.0" stroke="#202020" stroke-width="2.4" stroke-linecap="round"/>
<line x1="69.5" y1="571.0" x2="69.5" y2="568.0" stroke="#b8b8b8" stroke-width="2.4" stroke-linecap="round"/>
<line x1="69.5" y1="574.0" x2="72.5" y2="574.9" stroke="#202020" stroke-width="2.4" stroke-linecap="round"/>
<line x1="72.5" y1="574.9" x2="75.6" y2="575.8" stroke="#b8b8b8" stroke-width="2.4" stroke-linecap="round"/>
<line x1="71.2" y1="590.5" x2="66.9" y2="590.9" stroke="#202020" stroke-width="2.4" stroke-linecap="round"/>
<line x1="66.9" y1="590.9" x2="62.6" y2="591.3" stroke="#b8b8b8" stroke-width="2.4" stroke-linecap="round"/>
<line x1="71.2" y1="590.5" x2="71.2" y2="594.0" stroke="#202020" stroke-width="2.4" stroke-linecap="round"/>
<line x1="71.2" y1="594.0" x2="71.2" y2="597.4" stroke="#b8b8b8" stroke-width="2.4" stroke-linecap="round"/>
<line x1="84.2" y1="588.7" x2="84.2" y2="584.9" stroke="#202020" stroke-width="2.4" stroke-linecap="round"/>
<line x1="84.2" y1="584.9" x2="84.2" y2="581.0" stroke="#b8b8b8" stroke-width="2.4" stroke-linecap="round"/>
<line x1="84.2" y1="588.7" x2="88.1" y2="588.3" stroke="#202020" stroke-width="2.4" stroke-linecap="round"/>
<line x1="88.1" y1="588.3" x2="92.0" y2="587.9" stroke="#b8b8b8" stroke-width="2.4" stroke-linecap="round"/>
<line x1="86.0" y1="601.7" x2="82.1" y2="603.0" stroke="#202020" stroke-width="2.4" stroke-linecap="round"/>
<line x1="82.1" y1="603.0" x2="78.2" y2="604.3" stroke="#b8b8b8" stroke-width="2.4" stroke-linecap="round"/>
<line x1="86.0" y1="601.7" x2="90.3" y2="601.7" stroke="#202020" stroke-width="2.4" stroke-linecap="round"/>
<line x1="90.3" y1="601.7" x2="94.6" y2="601.7" stroke="#b8b8b8" stroke-width="2.4" stroke-linecap="round"/>
<line x1="86.0" y1="601.7" x2="86.4" y2="606.0" stroke="#202020" stroke-width="2.4" stroke-linecap="round"/>
<line x1="86.4" y1="606.0" x2="86.8" y2="610.4" stroke="#b8b8b8" stroke-width="2.4" stroke-linecap="round"/>
<line x1="53.9" y1="582.7" x2="48.3" y2="581.9" stroke="#202020" stroke-width="2.6" stroke-linecap="round"/>
<line x1="48.3" y1="581.9" x2="42.7" y2="581.0" stroke="#20b8b8" stroke-width="2.6" stroke-linecap="round"/>
<line x1="53.9" y1="582.7" x2="59.1" y2="582.2" stroke="#202020" stroke-width="2.6" stroke-linecap="round"/>
<line x1="59.1" y1="582.2" x2="64.3" y2="581.8" stroke="#20b8b8" stroke-width="2.6" stroke-linecap="round"/>
<line x1="53.9" y1="582.7" x2="54.2" y2="589.6" stroke="#202020" stroke-width="2.6" stroke-linecap="round"/>
<line x1="54.2" y1="589.6" x2="54.5" y2="596.5" stroke="#20b8b8" stroke-width="2.6" stroke-linecap="round"/>
<circle cx="54.5" cy="567.1" r="3.7949999999999995" fill="url(#gH)"/>
<circle cx="69.5" cy="568.0" r="3.7949999999999995" fill="url(#gH)"/>
<circle cx="62.6" cy="591.3" r="3.7949999999999995" fill="url(#gH)"/>
<circle cx="84.2" cy="581.0" r="3.7949999999999995" fill="url(#gH)"/>
<circle cx="92.0" cy="587.9" r="3.7949999999999995" fill="url(#gH)"/>
<circle cx="94.6" cy="601.7" r="3.7949999999999995" fill="url(#gH)"/>
<circle cx="53.9" cy="582.7" r="4.2" fill="url(#gC)"/>
<circle cx="55.7" cy="574.5" r="4.2" fill="url(#gC)"/>
<circle cx="69.5" cy="574.0" r="4.2" fill="url(#gC)"/>
<circle cx="71.2" cy="590.5" r="4.2" fill="url(#gC)"/>
<circle cx="84.2" cy="588.7" r="4.2" fill="url(#gC)"/>
<circle cx="86.0" cy="601.7" r="4.2" fill="url(#gC)"/>
<circle cx="47.0" cy="576.6" r="3.7949999999999995" fill="url(#gH)"/>
<circle cx="75.6" cy="575.8" r="3.7949999999999995" fill="url(#gH)"/>
<circle cx="71.2" cy="597.4" r="3.7949999999999995" fill="url(#gH)"/>
<circle cx="78.2" cy="604.3" r="3.7949999999999995" fill="url(#gH)"/>
<circle cx="86.8" cy="610.4" r="3.7949999999999995" fill="url(#gH)"/>
<circle cx="42.7" cy="581.0" r="4.5" fill="url(#gF)"/>
<circle cx="64.3" cy="581.8" r="4.5" fill="url(#gF)"/>
<circle cx="54.5" cy="596.5" r="4.5" fill="url(#gF)"/>
<line x1="20.2" y1="602.6" x2="46.0" y2="590.8" stroke="#c81c1c" stroke-width="1.8" stroke-linecap="butt"/>
<polygon points="51.0,588.5 47.0,593.0 45.0,588.6" fill="#c81c1c"/>
<line x1="86.0" y1="575.8" x2="56.5" y2="587.0" stroke="#1a1ab4" stroke-width="1.7" stroke-linecap="round"/>
<text x="15.7" y="584.5" font-size="13" fill="#d42a2a" stroke="#d42a2a" stroke-width="0.25" font-family="Liberation Sans, Arial, sans-serif">g2</text>
<text x="61.9" y="616.5" font-size="13" fill="#1c1cb4" stroke="#1c1cb4" stroke-width="0.25" font-family="Liberation Sans, Arial, sans-serif">g1</text>
<text x="1.50" y="10.20" font-size="10.8" text-anchor="start" font-weight="bold" font-style="normal" fill="#111" font-family="Liberation Sans, Arial, sans-serif">a.1</text>
<text x="147.80" y="9.80" font-size="10.8" text-anchor="start" font-weight="bold" font-style="normal" fill="#111" font-family="Liberation Sans, Arial, sans-serif">a.2</text>
<text x="331.30" y="9.80" font-size="10.8" text-anchor="start" font-weight="bold" font-style="normal" fill="#111" font-family="Liberation Sans, Arial, sans-serif">a.3</text>
<rect x="171.50" y="8.50" width="143.00" height="114.80" fill="none" stroke="#6a6a6a" stroke-width="0.95"/>
<line x1="171.50" y1="123.30" x2="171.50" y2="125.10" stroke="#6a6a6a" stroke-width="0.9"/>
<text x="171.50" y="133.90" font-size="8.4" text-anchor="middle" font-weight="normal" font-style="normal" fill="#1c1c1c" font-family="Liberation Sans, Arial, sans-serif" stroke="#1c1c1c" stroke-width="0.28">1260</text>
<line x1="212.18" y1="123.30" x2="212.18" y2="125.10" stroke="#6a6a6a" stroke-width="0.9"/>
<text x="212.18" y="133.90" font-size="8.4" text-anchor="middle" font-weight="normal" font-style="normal" fill="#1c1c1c" font-family="Liberation Sans, Arial, sans-serif" stroke="#1c1c1c" stroke-width="0.28">1240</text>
<line x1="252.87" y1="123.30" x2="252.87" y2="125.10" stroke="#6a6a6a" stroke-width="0.9"/>
<text x="252.87" y="133.90" font-size="8.4" text-anchor="middle" font-weight="normal" font-style="normal" fill="#1c1c1c" font-family="Liberation Sans, Arial, sans-serif" stroke="#1c1c1c" stroke-width="0.28">1220</text>
<line x1="293.55" y1="123.30" x2="293.55" y2="125.10" stroke="#6a6a6a" stroke-width="0.9"/>
<text x="293.55" y="133.90" font-size="8.4" text-anchor="middle" font-weight="normal" font-style="normal" fill="#1c1c1c" font-family="Liberation Sans, Arial, sans-serif" stroke="#1c1c1c" stroke-width="0.28">1200</text>
<line x1="191.84" y1="123.30" x2="191.84" y2="124.38" stroke="#6a6a6a" stroke-width="0.9"/>
<line x1="232.52" y1="123.30" x2="232.52" y2="124.38" stroke="#6a6a6a" stroke-width="0.9"/>
<line x1="273.21" y1="123.30" x2="273.21" y2="124.38" stroke="#6a6a6a" stroke-width="0.9"/>
<polyline fill="none" stroke="#3030cd" stroke-width="0.95" stroke-linejoin="round" points="171.5,110.3 176.8,110.2 180.5,109.8 183.8,109.1 186.5,108.1 188.8,106.8 190.2,105.7 191.2,104.8 192.5,103.3 193.5,102.0 195.5,98.9 197.5,95.0 199.2,91.0 200.8,86.4 202.8,80.0 204.5,74.1 206.2,67.7 212.8,40.6 214.5,34.6 216.2,29.4 217.8,25.1 218.8,23.1 219.5,22.1 220.5,20.9 221.2,20.4 221.8,20.1 222.5,20.0 223.2,20.2 224.2,20.8 224.8,21.6 225.8,23.1 226.5,24.3 227.5,26.6 229.2,31.2 230.5,35.6 232.2,41.8 237.8,64.8 240.2,73.9 242.5,82.1 244.8,89.1 246.8,94.1 247.8,96.3 249.2,98.8 251.2,102.0 252.2,103.3 253.5,104.8 254.8,106.0 256.2,107.0 257.5,107.8 258.8,108.4 260.5,109.0 262.2,109.4 264.2,109.8 266.2,110.0 270.2,110.3 275.8,110.4 314.5,110.4"/>
<polyline fill="none" stroke="#4c2fb3" stroke-width="0.95" stroke-linejoin="round" points="171.5,110.4 180.2,110.3 185.2,110.1 189.2,109.7 192.2,109.0 193.5,108.5 194.8,107.9 196.2,107.1 197.5,106.2 198.8,105.0 199.8,104.0 201.2,102.3 202.2,100.9 204.2,97.5 206.2,93.2 208.2,88.1 210.2,82.1 211.8,76.4 213.5,70.3 220.5,42.7 222.2,36.8 223.8,31.6 225.5,27.4 226.5,25.5 227.2,24.4 228.2,23.2 228.8,22.7 229.5,22.4 230.2,22.3 230.8,22.4 231.8,23.1 232.5,23.8 233.5,25.2 234.2,26.4 235.2,28.6 236.8,33.1 238.5,38.5 240.2,44.5 245.8,67.1 248.2,75.8 250.5,83.7 252.5,89.5 254.5,94.4 256.5,98.4 258.5,101.7 259.5,103.0 260.8,104.5 262.2,105.8 263.5,106.8 264.8,107.6 266.2,108.3 267.5,108.8 269.2,109.3 271.2,109.7 273.2,110.0 277.2,110.2 282.5,110.4 314.5,110.4"/>
<polyline fill="none" stroke="#682e99" stroke-width="0.95" stroke-linejoin="round" points="171.5,110.4 183.5,110.4 189.5,110.3 194.2,109.9 197.5,109.4 199.2,109.0 200.8,108.4 202.2,107.7 203.5,106.9 204.8,106.0 205.8,105.1 207.2,103.7 208.2,102.4 209.5,100.5 210.5,98.9 212.5,95.0 214.5,90.2 216.5,84.6 218.2,79.3 220.2,72.2 225.8,50.3 227.8,42.9 229.5,37.3 230.8,33.4 232.5,29.4 233.8,27.0 234.8,25.7 235.5,25.1 236.2,24.8 236.8,24.6 237.5,24.7 238.2,24.9 238.8,25.4 239.8,26.5 241.2,28.8 242.8,32.6 244.5,37.4 246.2,42.9 248.2,50.3 253.8,72.3 255.8,79.3 257.8,85.6 260.2,91.9 262.5,97.0 263.5,98.9 264.8,101.0 265.8,102.4 267.2,104.0 268.2,105.1 269.5,106.2 270.8,107.2 272.2,107.9 273.5,108.5 275.2,109.1 276.8,109.5 278.8,109.8 282.5,110.2 287.5,110.3 314.5,110.4"/>
<polyline fill="none" stroke="#842d80" stroke-width="0.95" stroke-linejoin="round" points="171.5,110.4 193.8,110.3 198.5,110.1 202.2,109.7 203.8,109.4 205.5,108.9 207.2,108.3 208.5,107.7 209.8,106.9 211.2,105.9 212.5,104.7 213.5,103.6 214.8,101.9 215.8,100.5 217.2,98.3 218.2,96.4 220.2,91.9 222.5,85.7 224.2,80.6 226.2,73.8 233.8,45.4 235.5,40.0 237.2,35.3 238.8,31.5 240.2,29.3 241.2,28.2 241.8,27.7 242.5,27.4 243.2,27.3 243.8,27.4 244.5,27.8 245.2,28.3 246.2,29.5 247.5,31.8 249.2,35.6 250.8,40.4 252.5,45.9 259.8,73.1 261.8,79.9 263.8,86.1 266.2,92.3 268.2,96.6 270.2,100.2 271.2,101.7 272.5,103.4 273.5,104.5 274.8,105.7 276.2,106.8 277.5,107.6 278.8,108.2 280.5,108.9 282.2,109.3 283.8,109.7 287.5,110.1 292.2,110.3 314.5,110.4"/>
<polyline fill="none" stroke="#9f2c66" stroke-width="0.95" stroke-linejoin="round" points="171.5,110.4 198.8,110.4 204.2,110.2 207.8,109.9 211.5,109.3 213.2,108.8 214.5,108.2 215.8,107.6 217.2,106.8 218.5,105.8 219.8,104.5 221.2,103.0 222.2,101.7 223.5,99.7 224.5,98.0 226.8,93.3 229.2,87.4 231.2,81.6 233.2,75.1 240.8,47.9 242.5,42.7 244.2,38.2 245.8,34.7 247.2,32.6 248.2,31.6 248.8,31.1 249.5,30.9 250.2,30.8 250.8,31.0 251.5,31.3 252.2,31.8 253.2,33.0 254.5,35.2 256.2,39.0 257.8,43.6 259.5,48.8 266.8,74.9 268.8,81.5 270.5,86.4 272.5,91.6 274.5,96.1 276.5,99.7 277.5,101.2 278.8,103.0 279.8,104.1 281.2,105.4 282.2,106.3 283.5,107.2 284.8,107.9 286.2,108.5 287.8,109.1 289.5,109.5 292.8,110.0 297.2,110.3 302.8,110.4 314.5,110.4"/>
<polyline fill="none" stroke="#bb2b4c" stroke-width="0.95" stroke-linejoin="round" points="171.5,110.4 204.2,110.4 209.5,110.3 213.5,110.0 215.5,109.8 217.5,109.4 220.5,108.5 221.8,108.0 223.2,107.3 224.5,106.4 225.8,105.3 227.2,104.0 228.5,102.4 229.8,100.5 230.8,98.9 233.2,94.5 235.5,89.0 237.5,83.5 239.5,77.3 245.5,56.9 247.5,50.4 249.2,45.5 250.5,42.1 252.2,38.6 253.5,36.6 254.5,35.5 255.2,35.0 255.8,34.7 256.5,34.6 257.2,34.7 257.8,35.0 258.5,35.4 259.5,36.5 260.2,37.4 261.2,39.1 262.8,42.7 264.5,47.2 266.2,52.3 273.2,76.1 274.8,81.3 276.5,86.2 278.5,91.3 280.5,95.8 282.5,99.4 284.5,102.3 285.5,103.5 286.8,104.9 287.8,105.8 289.2,106.8 290.5,107.6 291.8,108.3 294.5,109.2 297.5,109.8 301.5,110.2 306.5,110.3 314.5,110.4"/>
<polyline fill="none" stroke="#d72a32" stroke-width="0.95" stroke-linejoin="round" points="171.5,110.4 209.8,110.4 215.5,110.3 219.5,110.1 223.5,109.7 225.2,109.3 226.8,108.8 229.5,107.7 230.8,107.0 232.2,106.0 233.5,104.9 234.5,103.9 235.8,102.3 236.8,100.9 238.8,97.7 240.8,93.7 243.2,88.2 245.5,81.8 247.8,74.6 253.5,56.2 255.2,51.3 256.8,46.9 258.5,43.4 259.5,41.6 260.2,40.7 261.2,39.6 261.8,39.0 262.8,38.6 263.5,38.5 264.2,38.6 264.8,38.9 265.5,39.4 266.5,40.4 267.2,41.3 268.2,42.9 269.8,46.4 271.2,49.8 272.8,54.5 279.8,77.1 281.5,82.1 283.2,86.8 284.8,91.0 286.5,94.7 288.2,97.9 290.2,101.1 292.2,103.6 293.2,104.7 294.5,105.8 296.8,107.4 299.2,108.5 301.8,109.3 305.2,109.9 309.2,110.2 314.5,110.4"/>
<text x="161.20" y="63.00" font-size="8.5" text-anchor="middle" font-weight="normal" font-style="normal" fill="#1c1c1c" font-family="Liberation Sans, Arial, sans-serif" transform="rotate(-90 161.20 63.00)" stroke="#1c1c1c" stroke-width="0.28">Intensity / a.u.</text>
<text x="242.50" y="148.90" font-size="8.5" text-anchor="middle" font-weight="normal" font-style="normal" fill="#1c1c1c" font-family="Liberation Sans, Arial, sans-serif" stroke="#1c1c1c" stroke-width="0.28">Wavenumber /cm<tspan dy="-3.2" font-size="5.2">-1</tspan></text>
<rect x="374.40" y="6.90" width="140.10" height="116.30" fill="none" stroke="#6a6a6a" stroke-width="0.95"/>
<line x1="372.90" y1="115.09" x2="374.40" y2="115.09" stroke="#6a6a6a" stroke-width="0.9"/>
<text x="370.80" y="118.09" font-size="8.4" text-anchor="end" font-weight="normal" font-style="normal" fill="#1c1c1c" font-family="Liberation Sans, Arial, sans-serif" stroke="#1c1c1c" stroke-width="0.28">1210</text>
<line x1="372.90" y1="98.18" x2="374.40" y2="98.18" stroke="#6a6a6a" stroke-width="0.9"/>
<text x="370.80" y="101.19" font-size="8.4" text-anchor="end" font-weight="normal" font-style="normal" fill="#1c1c1c" font-family="Liberation Sans, Arial, sans-serif" stroke="#1c1c1c" stroke-width="0.28">1215</text>
<line x1="372.90" y1="81.28" x2="374.40" y2="81.28" stroke="#6a6a6a" stroke-width="0.9"/>
<text x="370.80" y="84.29" font-size="8.4" text-anchor="end" font-weight="normal" font-style="normal" fill="#1c1c1c" font-family="Liberation Sans, Arial, sans-serif" stroke="#1c1c1c" stroke-width="0.28">1220</text>
<line x1="372.90" y1="64.37" x2="374.40" y2="64.37" stroke="#6a6a6a" stroke-width="0.9"/>
<text x="370.80" y="67.38" font-size="8.4" text-anchor="end" font-weight="normal" font-style="normal" fill="#1c1c1c" font-family="Liberation Sans, Arial, sans-serif" stroke="#1c1c1c" stroke-width="0.28">1225</text>
<line x1="372.90" y1="47.47" x2="374.40" y2="47.47" stroke="#6a6a6a" stroke-width="0.9"/>
<text x="370.80" y="50.48" font-size="8.4" text-anchor="end" font-weight="normal" font-style="normal" fill="#1c1c1c" font-family="Liberation Sans, Arial, sans-serif" stroke="#1c1c1c" stroke-width="0.28">1230</text>
<line x1="372.90" y1="30.57" x2="374.40" y2="30.57" stroke="#6a6a6a" stroke-width="0.9"/>
<text x="370.80" y="33.57" font-size="8.4" text-anchor="end" font-weight="normal" font-style="normal" fill="#1c1c1c" font-family="Liberation Sans, Arial, sans-serif" stroke="#1c1c1c" stroke-width="0.28">1235</text>
<line x1="372.90" y1="13.66" x2="374.40" y2="13.66" stroke="#6a6a6a" stroke-width="0.9"/>
<text x="370.80" y="16.67" font-size="8.4" text-anchor="end" font-weight="normal" font-style="normal" fill="#1c1c1c" font-family="Liberation Sans, Arial, sans-serif" stroke="#1c1c1c" stroke-width="0.28">1240</text>
<line x1="373.50" y1="106.63" x2="374.40" y2="106.63" stroke="#6a6a6a" stroke-width="0.9"/>
<line x1="373.50" y1="89.73" x2="374.40" y2="89.73" stroke="#6a6a6a" stroke-width="0.9"/>
<line x1="373.50" y1="72.83" x2="374.40" y2="72.83" stroke="#6a6a6a" stroke-width="0.9"/>
<line x1="373.50" y1="55.92" x2="374.40" y2="55.92" stroke="#6a6a6a" stroke-width="0.9"/>
<line x1="373.50" y1="39.02" x2="374.40" y2="39.02" stroke="#6a6a6a" stroke-width="0.9"/>
<line x1="373.50" y1="22.11" x2="374.40" y2="22.11" stroke="#6a6a6a" stroke-width="0.9"/>
<line x1="374.40" y1="123.20" x2="374.40" y2="124.70" stroke="#6a6a6a" stroke-width="0.9"/>
<text x="373.50" y="134.00" font-size="8.4" text-anchor="middle" font-weight="normal" font-style="normal" fill="#1c1c1c" font-family="Liberation Sans, Arial, sans-serif" stroke="#1c1c1c" stroke-width="0.28">-35</text>
<line x1="393.03" y1="123.20" x2="393.03" y2="124.70" stroke="#6a6a6a" stroke-width="0.9"/>
<text x="392.13" y="134.00" font-size="8.4" text-anchor="middle" font-weight="normal" font-style="normal" fill="#1c1c1c" font-family="Liberation Sans, Arial, sans-serif" stroke="#1c1c1c" stroke-width="0.28">-30</text>
<line x1="411.66" y1="123.20" x2="411.66" y2="124.70" stroke="#6a6a6a" stroke-width="0.9"/>
<text x="410.76" y="134.00" font-size="8.4" text-anchor="middle" font-weight="normal" font-style="normal" fill="#1c1c1c" font-family="Liberation Sans, Arial, sans-serif" stroke="#1c1c1c" stroke-width="0.28">-25</text>
<line x1="430.29" y1="123.20" x2="430.29" y2="124.70" stroke="#6a6a6a" stroke-width="0.9"/>
<text x="429.39" y="134.00" font-size="8.4" text-anchor="middle" font-weight="normal" font-style="normal" fill="#1c1c1c" font-family="Liberation Sans, Arial, sans-serif" stroke="#1c1c1c" stroke-width="0.28">-20</text>
<line x1="448.92" y1="123.20" x2="448.92" y2="124.70" stroke="#6a6a6a" stroke-width="0.9"/>
<text x="448.02" y="134.00" font-size="8.4" text-anchor="middle" font-weight="normal" font-style="normal" fill="#1c1c1c" font-family="Liberation Sans, Arial, sans-serif" stroke="#1c1c1c" stroke-width="0.28">-15</text>
<line x1="467.55" y1="123.20" x2="467.55" y2="124.70" stroke="#6a6a6a" stroke-width="0.9"/>
<text x="466.65" y="134.00" font-size="8.4" text-anchor="middle" font-weight="normal" font-style="normal" fill="#1c1c1c" font-family="Liberation Sans, Arial, sans-serif" stroke="#1c1c1c" stroke-width="0.28">-10</text>
<line x1="486.18" y1="123.20" x2="486.18" y2="124.70" stroke="#6a6a6a" stroke-width="0.9"/>
<text x="485.28" y="134.00" font-size="8.4" text-anchor="middle" font-weight="normal" font-style="normal" fill="#1c1c1c" font-family="Liberation Sans, Arial, sans-serif" stroke="#1c1c1c" stroke-width="0.28">-5</text>
<line x1="504.81" y1="123.20" x2="504.81" y2="124.70" stroke="#6a6a6a" stroke-width="0.9"/>
<text x="504.81" y="134.00" font-size="8.4" text-anchor="middle" font-weight="normal" font-style="normal" fill="#1c1c1c" font-family="Liberation Sans, Arial, sans-serif" stroke="#1c1c1c" stroke-width="0.28">0</text>
<line x1="383.72" y1="123.20" x2="383.72" y2="124.10" stroke="#6a6a6a" stroke-width="0.9"/>
<line x1="402.35" y1="123.20" x2="402.35" y2="124.10" stroke="#6a6a6a" stroke-width="0.9"/>
<line x1="420.98" y1="123.20" x2="420.98" y2="124.10" stroke="#6a6a6a" stroke-width="0.9"/>
<line x1="439.61" y1="123.20" x2="439.61" y2="124.10" stroke="#6a6a6a" stroke-width="0.9"/>
<line x1="458.24" y1="123.20" x2="458.24" y2="124.10" stroke="#6a6a6a" stroke-width="0.9"/>
<line x1="476.87" y1="123.20" x2="476.87" y2="124.10" stroke="#6a6a6a" stroke-width="0.9"/>
<line x1="495.50" y1="123.20" x2="495.50" y2="124.10" stroke="#6a6a6a" stroke-width="0.9"/>
<line x1="389.30" y1="98.18" x2="504.81" y2="30.57" stroke="#505050" stroke-width="0.75"/>
<circle cx="389.30" cy="98.18" r="2.5" fill="#b0141f" stroke="#600a12" stroke-width="0.6"/>
<circle cx="407.93" cy="87.36" r="2.5" fill="#9c1428" stroke="#560a16" stroke-width="0.6"/>
<circle cx="426.56" cy="76.21" r="2.5" fill="#701232" stroke="#3e0a1c" stroke-width="0.6"/>
<circle cx="448.92" cy="65.39" r="2.5" fill="#501244" stroke="#2c0a28" stroke-width="0.6"/>
<circle cx="467.55" cy="54.23" r="2.5" fill="#3a1256" stroke="#200a32" stroke-width="0.6"/>
<circle cx="486.18" cy="43.07" r="2.5" fill="#24106c" stroke="#140a40" stroke-width="0.6"/>
<circle cx="504.81" cy="30.57" r="2.5" fill="#1c18b8" stroke="#0e0c6c" stroke-width="0.6"/>
<text x="349.60" y="63.10" font-size="8.25" text-anchor="middle" font-weight="normal" font-style="normal" fill="#1c1c1c" font-family="Liberation Sans, Arial, sans-serif" transform="rotate(-90 349.60 63.10)" stroke="#1c1c1c" stroke-width="0.28">Wavenumber (DFT) / cm<tspan dy="-3.2" font-size="5.2">-1</tspan></text>
<text x="443.80" y="145.20" font-size="8.25" text-anchor="middle" font-weight="normal" font-style="normal" fill="#1c1c1c" font-family="Liberation Sans, Arial, sans-serif" stroke="#1c1c1c" stroke-width="0.28">Electric Field (DFT) / MV·cm<tspan dy="-3.2" font-size="5.2">-1</tspan></text>
<text x="433.20" y="105.60" font-size="10.5" font-weight="bold" font-style="normal" fill="#1a1a1a" stroke="#1a1a1a" stroke-width="0.35" font-family="Liberation Serif, serif" text-anchor="start" textLength="18.20" lengthAdjust="spacingAndGlyphs"><tspan fill="#888" stroke="none" font-weight="normal">|</tspan>Δ<tspan font-style="italic">μ</tspan><tspan fill="#888" stroke="none" font-weight="normal">|</tspan></text>
<path d="M442.60 97.70H447.52" stroke="#444" stroke-width="0.7" fill="none"/>
<path d="M448.60 97.70L446.80 96.60L446.80 98.80Z" fill="#444"/>
<text x="453.00" y="107.80" font-size="7.1" font-weight="bold" font-style="italic" fill="#1a1a1a" stroke="#1a1a1a" stroke-width="0.3" font-family="Liberation Serif, serif" text-anchor="start" textLength="14.70" lengthAdjust="spacingAndGlyphs">DFT</text>
<text x="471.90" y="105.60" font-size="10.5" font-weight="bold" font-style="normal" fill="#666" stroke="#666" stroke-width="0.2" font-family="Liberation Serif, serif" text-anchor="start" textLength="6.80" lengthAdjust="spacingAndGlyphs">=</text>
<text x="482.60" y="105.60" font-size="10.5" font-weight="bold" font-style="normal" fill="#1a1a1a" stroke="#1a1a1a" stroke-width="0.35" font-family="Liberation Serif, serif" text-anchor="start" textLength="21.90" lengthAdjust="spacingAndGlyphs">0. 63</text>
<text x="1.00" y="175.80" font-size="10.8" text-anchor="start" font-weight="bold" font-style="normal" fill="#111" font-family="Liberation Sans, Arial, sans-serif">b.1</text>
<text x="147.30" y="175.80" font-size="10.8" text-anchor="start" font-weight="bold" font-style="normal" fill="#111" font-family="Liberation Sans, Arial, sans-serif">b.2</text>
<text x="330.20" y="176.30" font-size="10.8" text-anchor="start" font-weight="bold" font-style="normal" fill="#111" font-family="Liberation Sans, Arial, sans-serif">b.3</text>
<rect x="171.70" y="176.00" width="144.30" height="115.50" fill="none" stroke="#6a6a6a" stroke-width="0.95"/>
<line x1="171.70" y1="291.50" x2="171.70" y2="293.30" stroke="#6a6a6a" stroke-width="0.9"/>
<text x="171.70" y="301.30" font-size="8.4" text-anchor="middle" font-weight="normal" font-style="normal" fill="#1c1c1c" font-family="Liberation Sans, Arial, sans-serif" stroke="#1c1c1c" stroke-width="0.28">1040</text>
<line x1="192.24" y1="291.50" x2="192.24" y2="293.30" stroke="#6a6a6a" stroke-width="0.9"/>
<text x="192.24" y="301.30" font-size="8.4" text-anchor="middle" font-weight="normal" font-style="normal" fill="#1c1c1c" font-family="Liberation Sans, Arial, sans-serif" stroke="#1c1c1c" stroke-width="0.28">1020</text>
<line x1="212.78" y1="291.50" x2="212.78" y2="293.30" stroke="#6a6a6a" stroke-width="0.9"/>
<text x="212.78" y="301.30" font-size="8.4" text-anchor="middle" font-weight="normal" font-style="normal" fill="#1c1c1c" font-family="Liberation Sans, Arial, sans-serif" stroke="#1c1c1c" stroke-width="0.28">1000</text>
<line x1="233.32" y1="291.50" x2="233.32" y2="293.30" stroke="#6a6a6a" stroke-width="0.9"/>
<text x="233.32" y="301.30" font-size="8.4" text-anchor="middle" font-weight="normal" font-style="normal" fill="#1c1c1c" font-family="Liberation Sans, Arial, sans-serif" stroke="#1c1c1c" stroke-width="0.28">980</text>
<line x1="253.86" y1="291.50" x2="253.86" y2="293.30" stroke="#6a6a6a" stroke-width="0.9"/>
<text x="253.86" y="301.30" font-size="8.4" text-anchor="middle" font-weight="normal" font-style="normal" fill="#1c1c1c" font-family="Liberation Sans, Arial, sans-serif" stroke="#1c1c1c" stroke-width="0.28">960</text>
<line x1="274.40" y1="291.50" x2="274.40" y2="293.30" stroke="#6a6a6a" stroke-width="0.9"/>
<text x="274.40" y="301.30" font-size="8.4" text-anchor="middle" font-weight="normal" font-style="normal" fill="#1c1c1c" font-family="Liberation Sans, Arial, sans-serif" stroke="#1c1c1c" stroke-width="0.28">940</text>
<line x1="294.95" y1="291.50" x2="294.95" y2="293.30" stroke="#6a6a6a" stroke-width="0.9"/>
<text x="294.95" y="301.30" font-size="8.4" text-anchor="middle" font-weight="normal" font-style="normal" fill="#1c1c1c" font-family="Liberation Sans, Arial, sans-serif" stroke="#1c1c1c" stroke-width="0.28">920</text>
<line x1="315.49" y1="291.50" x2="315.49" y2="293.30" stroke="#6a6a6a" stroke-width="0.9"/>
<text x="315.49" y="301.30" font-size="8.4" text-anchor="middle" font-weight="normal" font-style="normal" fill="#1c1c1c" font-family="Liberation Sans, Arial, sans-serif" stroke="#1c1c1c" stroke-width="0.28">900</text>
<line x1="181.97" y1="291.50" x2="181.97" y2="292.58" stroke="#6a6a6a" stroke-width="0.9"/>
<line x1="202.51" y1="291.50" x2="202.51" y2="292.58" stroke="#6a6a6a" stroke-width="0.9"/>
<line x1="223.05" y1="291.50" x2="223.05" y2="292.58" stroke="#6a6a6a" stroke-width="0.9"/>
<line x1="243.59" y1="291.50" x2="243.59" y2="292.58" stroke="#6a6a6a" stroke-width="0.9"/>
<line x1="264.13" y1="291.50" x2="264.13" y2="292.58" stroke="#6a6a6a" stroke-width="0.9"/>
<line x1="284.68" y1="291.50" x2="284.68" y2="292.58" stroke="#6a6a6a" stroke-width="0.9"/>
<line x1="305.22" y1="291.50" x2="305.22" y2="292.58" stroke="#6a6a6a" stroke-width="0.9"/>
<polyline fill="none" stroke="#3232d2" stroke-width="0.8" stroke-linejoin="round" points="171.7,242.5 173.4,243.7 174.7,244.4 176.0,244.8 177.7,245.0 178.7,244.9 179.7,244.5 180.7,243.6 181.4,242.5 182.1,240.9 182.7,238.5 183.7,233.7 184.4,229.5 186.4,215.3 187.1,211.5 187.7,209.0 188.1,208.3 188.4,208.0 188.7,208.2 189.1,208.8 189.4,209.8 190.1,212.9 192.7,231.2 193.7,236.8 194.4,239.5 195.1,241.6 195.4,242.3 196.1,243.5 197.1,244.5 198.1,244.9 199.4,245.1 201.1,245.2 210.1,245.2 212.8,245.1 214.1,244.9 215.1,244.5 216.1,243.8 216.8,243.1 217.5,242.1 218.1,240.8 218.8,239.1 219.5,237.0 220.8,231.6 222.8,221.7 223.8,217.3 224.8,214.2 225.5,213.1 225.8,212.9 226.1,213.0 226.5,213.2 226.8,213.7 227.1,214.4 227.8,216.5 228.8,220.6 231.5,233.5 232.5,237.4 233.2,239.4 233.8,241.0 234.8,242.8 235.8,243.9 236.5,244.4 237.2,244.7 238.2,245.0 239.2,245.1 242.2,245.2 309.7,245.2 313.3,245.0 314.7,244.7 316.0,244.2"/>
<polyline fill="none" stroke="#3232d2" stroke-width="0.8" stroke-linejoin="round" points="171.7,280.2 181.7,280.2 183.4,280.1 184.7,279.8 185.7,279.4 186.7,278.8 187.7,278.0 190.4,275.4 191.4,274.8 192.1,274.6 192.7,274.7 193.7,275.2 194.4,275.7 197.1,278.3 198.4,279.2 199.1,279.4 200.1,279.6 200.8,279.5 201.4,279.4 202.1,279.1 202.8,278.6 204.1,277.2 205.4,275.2 207.8,270.8 208.8,269.2 209.8,268.1 210.4,267.7 210.8,267.7 211.1,267.8 211.8,268.1 212.8,269.3 213.8,271.0 216.1,275.4 217.1,276.9 217.8,277.8 218.5,278.4 219.5,279.2 220.5,279.6 221.8,280.0 223.8,280.2 228.2,280.2 275.2,280.2 277.9,280.2 279.6,280.0 280.9,279.7 281.9,279.3 282.9,278.6 283.9,277.5 284.6,276.6 285.6,274.8 288.3,268.6 289.3,266.6 290.3,265.2 290.9,264.7 291.3,264.7 291.6,264.8 292.3,265.2 293.3,266.7 294.3,268.8 296.6,274.2 298.0,276.7 299.0,278.0 299.6,278.7 300.3,279.1 301.0,279.5 302.0,279.8 304.0,280.1 316.0,280.2"/>
<polyline fill="none" stroke="#4e31b8" stroke-width="0.8" stroke-linejoin="round" points="171.7,242.5 173.4,243.7 174.7,244.4 176.4,244.9 178.4,245.1 180.1,245.0 181.4,244.6 182.4,243.8 183.1,242.9 184.1,240.6 185.1,236.9 186.1,231.6 188.7,214.5 189.4,211.4 189.7,210.4 190.1,209.7 190.4,209.4 190.7,209.5 191.1,210.0 191.4,210.8 192.1,213.6 192.7,217.3 194.7,230.5 195.4,234.4 196.1,237.5 197.1,241.0 197.8,242.5 198.4,243.6 199.1,244.3 200.1,244.8 201.1,245.1 202.4,245.2 215.5,245.2 217.5,244.9 218.8,244.4 219.8,243.7 220.8,242.4 221.8,240.4 222.5,238.6 223.1,236.3 224.1,232.0 226.8,217.8 227.5,214.7 228.5,211.2 229.2,210.0 229.5,209.7 229.8,209.7 230.2,210.0 230.5,210.6 230.8,211.3 231.5,213.5 232.5,218.1 235.2,232.2 236.2,236.5 236.8,238.8 237.5,240.6 238.5,242.5 239.5,243.8 240.2,244.3 240.8,244.6 242.5,245.0 245.5,245.2 309.7,245.2 313.3,245.0 314.7,244.7 316.0,244.2"/>
<polyline fill="none" stroke="#4e31b8" stroke-width="0.8" stroke-linejoin="round" points="171.7,280.2 181.7,280.2 183.4,280.1 184.7,279.8 185.7,279.4 186.7,278.8 187.7,278.0 190.4,275.4 191.4,274.8 192.1,274.6 192.7,274.7 193.7,275.2 194.7,276.0 197.1,278.3 198.1,279.0 198.8,279.4 199.4,279.6 200.4,279.8 201.4,279.8 202.4,279.6 203.4,279.1 204.1,278.7 205.4,277.3 206.8,275.2 210.1,268.6 211.1,267.3 211.8,266.8 212.1,266.7 212.5,266.7 213.1,267.0 214.1,268.1 215.1,269.9 217.8,275.2 218.8,276.9 219.5,277.7 220.1,278.4 221.1,279.2 222.1,279.6 223.1,279.9 225.1,280.1 228.8,280.2 276.6,280.2 280.9,280.0 282.3,279.8 283.6,279.2 284.6,278.5 285.6,277.3 286.3,276.3 287.3,274.4 289.9,268.1 290.9,266.1 292.0,264.8 292.6,264.4 293.0,264.4 293.3,264.5 294.0,265.1 295.0,266.7 298.0,273.6 299.3,276.3 300.3,277.7 301.0,278.4 301.6,279.0 302.3,279.4 303.3,279.8 305.3,280.1 308.0,280.2 316.0,280.2"/>
<polyline fill="none" stroke="#69309e" stroke-width="0.8" stroke-linejoin="round" points="171.7,242.5 173.4,243.7 174.7,244.4 176.4,244.9 178.0,245.1 181.1,245.2 183.1,245.0 183.7,244.8 184.4,244.4 185.4,243.5 186.1,242.5 186.7,241.1 187.7,238.0 188.7,233.5 191.1,220.5 191.7,217.3 192.4,215.0 192.7,214.3 193.1,213.8 193.4,213.7 193.7,213.9 194.1,214.4 194.4,215.2 195.1,217.7 195.7,221.0 197.8,232.3 199.1,238.3 200.1,241.3 200.8,242.7 201.4,243.6 202.1,244.3 203.1,244.8 204.1,245.0 205.4,245.2 219.1,245.1 221.1,244.9 222.5,244.4 223.5,243.6 224.5,242.2 225.5,240.0 226.1,238.0 226.8,235.5 227.8,230.8 231.2,211.8 232.2,207.9 232.8,206.5 233.2,206.2 233.5,206.2 233.8,206.5 234.2,207.1 234.5,207.9 235.2,210.3 236.2,215.3 238.8,230.8 239.8,235.5 240.5,238.0 241.2,240.1 242.2,242.2 243.2,243.6 243.8,244.2 244.5,244.6 245.2,244.8 246.2,245.0 249.2,245.2 309.3,245.2 311.7,245.2 313.3,245.0 314.7,244.7 316.0,244.2"/>
<polyline fill="none" stroke="#69309e" stroke-width="0.8" stroke-linejoin="round" points="171.7,280.2 181.7,280.2 183.4,280.1 184.7,279.8 185.7,279.4 186.7,278.8 187.7,278.0 190.4,275.4 191.4,274.8 192.1,274.6 192.7,274.7 193.7,275.2 194.7,276.0 197.1,278.3 198.1,279.0 199.1,279.5 200.1,279.8 201.4,280.0 202.8,279.9 203.8,279.6 204.8,279.1 205.4,278.6 206.8,277.1 208.1,274.9 211.4,267.9 212.5,266.5 213.1,266.0 213.5,265.9 213.8,265.9 214.5,266.2 215.5,267.4 216.5,269.3 219.1,275.0 220.1,276.7 220.8,277.6 221.5,278.3 222.5,279.1 223.5,279.6 224.5,279.9 226.5,280.1 229.8,280.2 278.3,280.2 280.9,280.2 282.6,280.0 283.9,279.8 285.3,279.2 286.3,278.4 287.3,277.2 287.9,276.2 288.9,274.2 292.3,266.4 293.3,264.9 294.0,264.3 294.3,264.2 294.6,264.2 295.3,264.6 296.3,265.9 297.3,268.0 299.3,272.8 300.6,275.7 302.0,277.7 302.6,278.4 303.3,279.0 304.6,279.7 305.6,279.9 306.6,280.1 309.0,280.2 316.0,280.2"/>
<polyline fill="none" stroke="#843084" stroke-width="0.8" stroke-linejoin="round" points="171.7,242.5 173.4,243.7 174.7,244.4 176.4,244.9 178.0,245.1 182.1,245.2 184.7,245.1 185.7,244.8 186.4,244.6 187.4,243.8 188.1,243.0 188.7,241.8 189.7,239.2 191.1,234.1 193.1,224.2 194.1,219.9 194.7,217.9 195.1,217.2 195.4,216.8 195.7,216.7 196.1,216.9 196.4,217.3 196.8,218.0 197.4,220.0 198.4,224.4 200.4,234.3 201.8,239.3 202.8,241.9 203.4,243.0 204.1,243.8 204.8,244.4 205.8,244.8 207.1,245.1 208.8,245.2 222.8,245.1 224.8,244.9 226.1,244.3 227.1,243.4 228.2,241.9 229.2,239.6 229.8,237.4 230.5,234.6 231.5,229.4 234.2,212.3 235.2,206.8 235.8,204.1 236.2,203.2 236.5,202.6 236.8,202.2 237.2,202.2 237.5,202.5 238.2,204.0 239.2,208.3 242.5,229.2 243.5,234.4 244.2,237.2 244.9,239.5 245.9,241.9 246.9,243.4 247.5,244.1 248.2,244.5 248.9,244.8 249.9,245.0 252.9,245.2 309.3,245.2 311.7,245.2 313.3,245.0 314.7,244.7 316.0,244.2"/>
<polyline fill="none" stroke="#843084" stroke-width="0.8" stroke-linejoin="round" points="171.7,280.2 181.7,280.2 183.4,280.1 184.7,279.8 185.7,279.4 186.7,278.8 187.7,278.0 190.4,275.4 191.4,274.8 192.1,274.6 192.7,274.7 193.7,275.2 194.7,276.0 197.1,278.3 198.1,279.0 199.1,279.6 200.4,279.9 202.1,280.1 203.8,280.0 205.1,279.6 206.1,279.1 206.8,278.6 207.4,277.9 208.1,277.1 208.8,276.1 209.8,274.2 212.1,268.9 213.1,266.9 214.1,265.6 214.8,265.2 215.1,265.2 215.5,265.3 216.1,265.8 217.1,267.2 218.1,269.2 220.5,274.5 221.5,276.3 222.1,277.3 222.8,278.1 223.8,279.0 224.8,279.5 225.8,279.9 227.8,280.1 231.5,280.2 279.9,280.2 282.6,280.2 284.3,280.0 285.6,279.7 286.6,279.3 287.6,278.6 288.6,277.5 289.3,276.5 290.3,274.6 293.0,268.2 294.0,266.0 295.0,264.5 295.6,264.1 296.0,264.0 296.6,264.2 297.0,264.5 297.6,265.4 298.6,267.4 301.0,273.1 302.0,275.2 303.3,277.4 304.0,278.2 304.6,278.8 306.0,279.6 307.0,279.9 308.0,280.1 310.3,280.2 316.0,280.2"/>
<polyline fill="none" stroke="#a02f6b" stroke-width="0.8" stroke-linejoin="round" points="171.7,242.5 173.4,243.7 174.7,244.4 176.4,244.9 178.0,245.1 182.4,245.2 186.4,245.1 188.1,244.7 188.7,244.4 189.4,243.9 190.1,243.2 190.7,242.2 191.4,240.8 192.1,239.0 193.4,234.2 196.1,222.8 196.8,220.8 197.1,220.1 197.4,219.5 197.8,219.3 198.1,219.2 198.4,219.4 198.8,219.8 199.1,220.5 199.8,222.3 200.8,226.2 202.8,235.0 204.1,239.6 204.8,241.2 205.4,242.5 206.1,243.5 206.8,244.1 207.8,244.7 208.8,245.0 210.1,245.1 212.5,245.2 226.5,245.1 228.5,244.9 229.2,244.6 229.8,244.2 230.8,243.3 231.8,241.7 232.8,239.1 233.5,236.7 234.2,233.7 235.2,228.1 237.8,209.4 238.8,203.3 239.5,200.4 239.8,199.4 240.2,198.7 240.5,198.3 240.8,198.2 241.2,198.5 241.5,199.2 241.8,200.1 242.8,204.7 243.8,211.1 246.2,227.6 247.2,233.3 247.9,236.4 248.5,238.9 249.5,241.5 250.5,243.2 251.2,243.9 251.9,244.4 252.5,244.7 253.5,245.0 256.5,245.2 309.0,245.2 311.7,245.2 313.3,245.0 314.7,244.7 316.0,244.2"/>
<polyline fill="none" stroke="#a02f6b" stroke-width="0.8" stroke-linejoin="round" points="171.7,280.2 181.7,280.2 183.4,280.1 184.7,279.8 185.7,279.4 186.7,278.8 187.7,278.0 190.4,275.4 191.4,274.8 192.1,274.6 192.7,274.7 193.7,275.2 197.4,278.6 198.4,279.2 199.4,279.7 200.8,280.0 202.8,280.1 204.8,280.0 206.1,279.7 207.1,279.3 207.8,278.8 208.8,277.8 209.4,276.9 210.1,275.8 211.1,273.8 213.5,268.3 214.5,266.2 215.5,264.8 216.1,264.4 216.5,264.4 216.8,264.5 217.5,265.0 218.5,266.5 219.5,268.6 221.8,274.2 222.8,276.1 223.5,277.2 224.1,278.0 225.1,278.9 226.1,279.5 227.1,279.8 229.2,280.1 232.8,280.2 281.6,280.2 284.3,280.2 285.9,280.0 287.3,279.7 288.3,279.3 289.3,278.5 290.3,277.4 290.9,276.4 292.0,274.5 294.6,268.0 295.6,265.8 296.6,264.3 297.3,263.9 297.6,263.8 298.3,264.0 298.6,264.3 299.3,265.3 300.3,267.3 302.6,273.0 303.6,275.2 304.6,277.0 305.3,277.9 306.0,278.5 307.3,279.5 309.0,280.0 311.3,280.2 316.0,280.2"/>
<polyline fill="none" stroke="#bc2e51" stroke-width="0.8" stroke-linejoin="round" points="171.7,242.5 173.4,243.7 174.7,244.4 176.4,244.9 178.0,245.1 181.7,245.2 187.7,245.1 189.7,244.8 190.4,244.6 191.1,244.2 191.7,243.6 192.4,242.7 193.1,241.6 193.7,240.1 195.1,236.1 198.1,224.9 198.8,223.2 199.1,222.5 199.4,222.0 199.8,221.8 200.1,221.7 200.4,221.8 200.8,222.2 201.1,222.7 201.8,224.2 202.8,227.5 205.1,236.5 206.4,240.4 207.1,241.8 207.8,242.9 208.4,243.7 209.1,244.2 210.4,244.8 212.5,245.1 226.8,245.2 229.5,245.2 231.2,245.0 232.5,244.7 233.5,244.2 234.5,243.1 235.5,241.4 236.5,238.5 237.2,235.9 237.8,232.6 238.8,226.5 241.5,205.8 242.5,199.0 243.2,195.7 243.5,194.6 243.8,193.7 244.2,193.3 244.5,193.2 244.9,193.5 245.2,194.2 245.5,195.2 246.5,200.3 247.5,207.3 249.9,225.6 250.9,231.9 251.5,235.3 252.2,238.1 253.2,241.1 254.2,243.0 254.9,243.8 255.5,244.3 256.2,244.7 257.2,245.0 258.5,245.1 260.2,245.2 308.3,245.2 311.7,245.2 313.3,245.0 314.7,244.7 316.0,244.2"/>
<polyline fill="none" stroke="#bc2e51" stroke-width="0.8" stroke-linejoin="round" points="171.7,280.2 181.7,280.2 183.4,280.1 184.7,279.8 185.7,279.4 186.7,278.8 187.7,278.0 190.4,275.4 191.4,274.8 192.1,274.6 192.7,274.7 193.7,275.2 197.4,278.6 198.4,279.2 199.4,279.7 201.1,280.0 203.8,280.2 206.1,280.0 207.8,279.6 208.8,279.1 209.4,278.6 210.4,277.6 211.1,276.6 212.5,274.0 215.8,266.0 216.8,264.4 217.5,263.8 217.8,263.7 218.1,263.7 218.8,264.1 219.8,265.5 220.8,267.6 223.5,274.2 224.5,276.2 225.1,277.2 226.1,278.4 227.1,279.2 228.2,279.7 229.5,280.0 231.2,280.1 233.8,280.2 282.6,280.2 286.3,280.1 288.3,279.9 289.3,279.5 290.3,279.0 291.3,278.0 292.0,277.2 292.6,276.1 293.6,274.2 296.3,267.6 297.3,265.5 298.3,264.1 299.0,263.7 299.3,263.7 300.0,264.1 300.3,264.4 301.0,265.4 302.0,267.5 304.0,272.5 305.0,274.8 306.0,276.6 306.6,277.6 307.3,278.3 308.0,278.9 308.7,279.3 309.3,279.6 310.3,279.9 312.3,280.1 316.0,280.2"/>
<polyline fill="none" stroke="#d72d37" stroke-width="0.8" stroke-linejoin="round" points="171.7,242.5 173.4,243.7 174.7,244.4 176.4,244.9 178.0,245.1 182.1,245.2 189.4,245.1 191.4,244.8 192.7,244.3 193.4,243.7 194.1,243.0 194.7,242.1 195.4,240.8 196.8,237.3 199.1,229.4 200.1,226.4 200.8,224.9 201.1,224.3 201.4,224.0 201.8,223.7 202.1,223.7 202.4,223.8 202.8,224.2 203.1,224.6 203.8,226.0 204.8,229.0 207.1,236.9 208.4,240.5 209.1,241.8 209.8,242.9 210.4,243.6 211.4,244.4 212.1,244.7 213.1,245.0 215.1,245.2 231.2,245.2 233.5,245.1 234.8,245.0 235.8,244.7 236.8,244.2 237.5,243.6 238.2,242.7 239.2,240.6 240.2,237.2 240.8,234.1 241.5,230.3 242.5,223.0 245.9,193.9 246.9,188.1 247.2,186.8 247.5,186.0 247.9,185.5 248.2,185.6 248.5,186.0 248.9,186.9 249.2,188.2 249.9,191.9 250.9,199.5 253.5,223.3 254.5,230.5 255.2,234.3 255.9,237.4 256.9,240.7 257.9,242.8 258.9,244.0 259.9,244.6 260.9,244.9 262.6,245.1 265.2,245.2 310.7,245.2 313.7,245.0 315.0,244.6 316.0,244.2"/>
<polyline fill="none" stroke="#d72d37" stroke-width="0.8" stroke-linejoin="round" points="171.7,280.2 181.7,280.2 183.4,280.1 184.7,279.8 185.7,279.4 186.7,278.8 187.7,278.0 190.4,275.4 191.4,274.8 192.1,274.6 192.7,274.7 193.7,275.2 197.4,278.6 198.4,279.2 199.8,279.8 201.8,280.1 204.8,280.2 207.4,280.0 209.1,279.7 210.1,279.2 210.8,278.7 211.8,277.7 212.5,276.7 213.1,275.6 214.1,273.4 216.5,267.3 217.5,265.0 218.5,263.5 219.1,263.0 219.5,262.9 219.8,263.0 220.5,263.5 221.5,265.1 222.5,267.4 224.8,273.4 225.8,275.6 226.5,276.8 227.5,278.1 228.5,279.0 229.5,279.6 230.8,280.0 232.5,280.1 235.2,280.2 283.3,280.2 287.6,280.1 289.6,279.9 290.9,279.5 292.0,278.8 293.0,277.9 293.6,277.0 294.3,275.8 295.3,273.8 297.6,267.9 298.6,265.6 299.6,264.0 300.3,263.5 300.6,263.4 301.0,263.4 301.6,263.9 302.6,265.4 303.6,267.6 305.6,272.7 306.6,274.9 307.6,276.8 308.7,278.1 309.3,278.7 310.0,279.2 311.3,279.8 313.0,280.1 316.0,280.2"/>
<polyline fill="none" stroke="#7a1a50" stroke-width="0.9" stroke-linejoin="round" points="180.9,280.2 183.9,280.0 184.9,279.7 185.8,279.4 186.5,279.0 187.5,278.2 189.8,276.0 190.7,275.1 191.7,274.7 192.4,274.6 193.0,274.8 194.0,275.4 197.0,278.2 198.3,279.2 199.2,279.6 200.2,279.9 202.5,280.2"/>
<rect x="252.6" y="277.8" width="2.6" height="4.6" fill="#fff"/>
<text x="192.00" y="200.10" font-size="11.5" text-anchor="start" font-weight="normal" font-style="normal" fill="#1c1c1c" font-family="Liberation Sans, Arial, sans-serif" stroke="#1c1c1c" stroke-width="0.28">t1</text>
<text x="224.40" y="188.70" font-size="11.5" text-anchor="start" font-weight="normal" font-style="normal" fill="#1c1c1c" font-family="Liberation Sans, Arial, sans-serif" stroke="#1c1c1c" stroke-width="0.28">t2</text>
<text x="208.20" y="257.50" font-size="11.5" text-anchor="start" font-weight="normal" font-style="normal" fill="#1c1c1c" font-family="Liberation Sans, Arial, sans-serif" stroke="#1c1c1c" stroke-width="0.28">g1</text>
<text x="288.50" y="257.80" font-size="11.5" text-anchor="start" font-weight="normal" font-style="normal" fill="#1c1c1c" font-family="Liberation Sans, Arial, sans-serif" stroke="#1c1c1c" stroke-width="0.28">g2</text>
<text x="165.60" y="232.70" font-size="8.5" text-anchor="middle" font-weight="normal" font-style="normal" fill="#1c1c1c" font-family="Liberation Sans, Arial, sans-serif" transform="rotate(-90 165.60 232.70)" stroke="#1c1c1c" stroke-width="0.28">Intensity / a.u.</text>
<text x="243.50" y="313.00" font-size="8.5" text-anchor="middle" font-weight="normal" font-style="normal" fill="#1c1c1c" font-family="Liberation Sans, Arial, sans-serif" stroke="#1c1c1c" stroke-width="0.28">Wavenumber / cm<tspan dy="-3.2" font-size="5.2">-1</tspan></text>
<rect x="377.70" y="179.20" width="57.60" height="48.30" fill="none" stroke="#6a6a6a" stroke-width="0.95"/>
<line x1="376.20" y1="227.50" x2="377.70" y2="227.50" stroke="#6a6a6a" stroke-width="0.9"/>
<text x="374.80" y="230.51" font-size="8.4" text-anchor="end" font-weight="normal" font-style="normal" fill="#1c1c1c" font-family="Liberation Sans, Arial, sans-serif" stroke="#1c1c1c" stroke-width="0.28">1000</text>
<line x1="376.20" y1="211.40" x2="377.70" y2="211.40" stroke="#6a6a6a" stroke-width="0.9"/>
<text x="374.80" y="214.41" font-size="8.4" text-anchor="end" font-weight="normal" font-style="normal" fill="#1c1c1c" font-family="Liberation Sans, Arial, sans-serif" stroke="#1c1c1c" stroke-width="0.28">1010</text>
<line x1="376.20" y1="195.30" x2="377.70" y2="195.30" stroke="#6a6a6a" stroke-width="0.9"/>
<text x="374.80" y="198.31" font-size="8.4" text-anchor="end" font-weight="normal" font-style="normal" fill="#1c1c1c" font-family="Liberation Sans, Arial, sans-serif" stroke="#1c1c1c" stroke-width="0.28">1020</text>
<line x1="376.20" y1="179.20" x2="377.70" y2="179.20" stroke="#6a6a6a" stroke-width="0.9"/>
<text x="374.80" y="182.21" font-size="8.4" text-anchor="end" font-weight="normal" font-style="normal" fill="#1c1c1c" font-family="Liberation Sans, Arial, sans-serif" stroke="#1c1c1c" stroke-width="0.28">1030</text>
<line x1="376.80" y1="219.45" x2="377.70" y2="219.45" stroke="#6a6a6a" stroke-width="0.9"/>
<line x1="376.80" y1="203.35" x2="377.70" y2="203.35" stroke="#6a6a6a" stroke-width="0.9"/>
<line x1="376.80" y1="187.25" x2="377.70" y2="187.25" stroke="#6a6a6a" stroke-width="0.9"/>
<line x1="384.90" y1="227.50" x2="384.90" y2="229.00" stroke="#6a6a6a" stroke-width="0.9"/>
<text x="384.00" y="236.80" font-size="8.4" text-anchor="middle" font-weight="normal" font-style="normal" fill="#1c1c1c" font-family="Liberation Sans, Arial, sans-serif" stroke="#1c1c1c" stroke-width="0.28">-30</text>
<line x1="399.30" y1="227.50" x2="399.30" y2="229.00" stroke="#6a6a6a" stroke-width="0.9"/>
<text x="398.40" y="236.80" font-size="8.4" text-anchor="middle" font-weight="normal" font-style="normal" fill="#1c1c1c" font-family="Liberation Sans, Arial, sans-serif" stroke="#1c1c1c" stroke-width="0.28">-20</text>
<line x1="413.70" y1="227.50" x2="413.70" y2="229.00" stroke="#6a6a6a" stroke-width="0.9"/>
<text x="412.80" y="236.80" font-size="8.4" text-anchor="middle" font-weight="normal" font-style="normal" fill="#1c1c1c" font-family="Liberation Sans, Arial, sans-serif" stroke="#1c1c1c" stroke-width="0.28">-10</text>
<line x1="428.10" y1="227.50" x2="428.10" y2="229.00" stroke="#6a6a6a" stroke-width="0.9"/>
<text x="428.10" y="236.80" font-size="8.4" text-anchor="middle" font-weight="normal" font-style="normal" fill="#1c1c1c" font-family="Liberation Sans, Arial, sans-serif" stroke="#1c1c1c" stroke-width="0.28">0</text>
<line x1="392.10" y1="227.50" x2="392.10" y2="228.40" stroke="#6a6a6a" stroke-width="0.9"/>
<line x1="406.50" y1="227.50" x2="406.50" y2="228.40" stroke="#6a6a6a" stroke-width="0.9"/>
<line x1="420.90" y1="227.50" x2="420.90" y2="228.40" stroke="#6a6a6a" stroke-width="0.9"/>
<line x1="383.46" y1="210.59" x2="428.10" y2="189.66" stroke="#505050" stroke-width="0.75"/>
<circle cx="383.46" cy="210.59" r="2.8" fill="#b0141f" stroke="#600a12" stroke-width="0.6"/>
<circle cx="390.66" cy="207.22" r="2.8" fill="#9c1428" stroke="#560a16" stroke-width="0.6"/>
<circle cx="397.86" cy="203.84" r="2.8" fill="#701232" stroke="#3e0a1c" stroke-width="0.6"/>
<circle cx="406.50" cy="199.79" r="2.8" fill="#501244" stroke="#2c0a28" stroke-width="0.6"/>
<circle cx="413.70" cy="196.42" r="2.8" fill="#3a1256" stroke="#200a32" stroke-width="0.6"/>
<circle cx="420.90" cy="193.04" r="2.8" fill="#24106c" stroke="#140a40" stroke-width="0.6"/>
<circle cx="428.10" cy="189.66" r="2.8" fill="#1c18b8" stroke="#0e0c6c" stroke-width="0.6"/>
<text x="382.10" y="190.60" font-size="10.3" text-anchor="start" font-weight="normal" font-style="normal" fill="#1c1c1c" font-family="Liberation Sans, Arial, sans-serif" stroke="#1c1c1c" stroke-width="0.28">t1</text>
<text x="405.70" y="216.10" font-size="8.4" font-weight="bold" font-style="normal" fill="#1a1a1a" stroke="#1a1a1a" stroke-width="0.3" font-family="Liberation Serif, serif" text-anchor="start" textLength="13.60" lengthAdjust="spacingAndGlyphs"><tspan fill="#888" stroke="none" font-weight="normal">|</tspan>Δ<tspan font-style="italic">μ</tspan><tspan fill="#888" stroke="none" font-weight="normal">|</tspan></text>
<path d="M411.90 209.70H415.46" stroke="#444" stroke-width="0.55" fill="none"/>
<path d="M416.30 209.70L414.90 208.80L414.90 210.60Z" fill="#444"/>
<text x="420.00" y="217.10" font-size="5.9" font-weight="bold" font-style="italic" fill="#1a1a1a" stroke="#1a1a1a" stroke-width="0.25" font-family="Liberation Serif, serif" text-anchor="start" textLength="12.00" lengthAdjust="spacingAndGlyphs">DFT</text>
<text x="405.90" y="224.50" font-size="8.4" font-weight="bold" font-style="normal" fill="#1a1a1a" stroke="#1a1a1a" stroke-width="0.3" font-family="Liberation Serif, serif" text-anchor="start" textLength="24.90" lengthAdjust="spacingAndGlyphs"><tspan fill="#777" stroke="#777">=</tspan> 0. 48</text>
<rect x="456.20" y="179.00" width="57.60" height="48.80" fill="none" stroke="#6a6a6a" stroke-width="0.95"/>
<line x1="454.70" y1="227.80" x2="456.20" y2="227.80" stroke="#6a6a6a" stroke-width="0.9"/>
<text x="453.60" y="230.81" font-size="8.4" text-anchor="end" font-weight="normal" font-style="normal" fill="#1c1c1c" font-family="Liberation Sans, Arial, sans-serif" stroke="#1c1c1c" stroke-width="0.28">960</text>
<line x1="454.70" y1="211.53" x2="456.20" y2="211.53" stroke="#6a6a6a" stroke-width="0.9"/>
<text x="453.60" y="214.54" font-size="8.4" text-anchor="end" font-weight="normal" font-style="normal" fill="#1c1c1c" font-family="Liberation Sans, Arial, sans-serif" stroke="#1c1c1c" stroke-width="0.28">970</text>
<line x1="454.70" y1="195.27" x2="456.20" y2="195.27" stroke="#6a6a6a" stroke-width="0.9"/>
<text x="453.60" y="198.27" font-size="8.4" text-anchor="end" font-weight="normal" font-style="normal" fill="#1c1c1c" font-family="Liberation Sans, Arial, sans-serif" stroke="#1c1c1c" stroke-width="0.28">980</text>
<line x1="454.70" y1="179.00" x2="456.20" y2="179.00" stroke="#6a6a6a" stroke-width="0.9"/>
<text x="453.60" y="182.01" font-size="8.4" text-anchor="end" font-weight="normal" font-style="normal" fill="#1c1c1c" font-family="Liberation Sans, Arial, sans-serif" stroke="#1c1c1c" stroke-width="0.28">990</text>
<line x1="455.30" y1="219.67" x2="456.20" y2="219.67" stroke="#6a6a6a" stroke-width="0.9"/>
<line x1="455.30" y1="203.40" x2="456.20" y2="203.40" stroke="#6a6a6a" stroke-width="0.9"/>
<line x1="455.30" y1="187.13" x2="456.20" y2="187.13" stroke="#6a6a6a" stroke-width="0.9"/>
<line x1="463.40" y1="227.80" x2="463.40" y2="229.30" stroke="#6a6a6a" stroke-width="0.9"/>
<text x="462.50" y="236.80" font-size="8.4" text-anchor="middle" font-weight="normal" font-style="normal" fill="#1c1c1c" font-family="Liberation Sans, Arial, sans-serif" stroke="#1c1c1c" stroke-width="0.28">-30</text>
<line x1="477.80" y1="227.80" x2="477.80" y2="229.30" stroke="#6a6a6a" stroke-width="0.9"/>
<text x="476.90" y="236.80" font-size="8.4" text-anchor="middle" font-weight="normal" font-style="normal" fill="#1c1c1c" font-family="Liberation Sans, Arial, sans-serif" stroke="#1c1c1c" stroke-width="0.28">-20</text>
<line x1="492.20" y1="227.80" x2="492.20" y2="229.30" stroke="#6a6a6a" stroke-width="0.9"/>
<text x="491.30" y="236.80" font-size="8.4" text-anchor="middle" font-weight="normal" font-style="normal" fill="#1c1c1c" font-family="Liberation Sans, Arial, sans-serif" stroke="#1c1c1c" stroke-width="0.28">-10</text>
<line x1="506.60" y1="227.80" x2="506.60" y2="229.30" stroke="#6a6a6a" stroke-width="0.9"/>
<text x="506.60" y="236.80" font-size="8.4" text-anchor="middle" font-weight="normal" font-style="normal" fill="#1c1c1c" font-family="Liberation Sans, Arial, sans-serif" stroke="#1c1c1c" stroke-width="0.28">0</text>
<line x1="470.60" y1="227.80" x2="470.60" y2="228.70" stroke="#6a6a6a" stroke-width="0.9"/>
<line x1="485.00" y1="227.80" x2="485.00" y2="228.70" stroke="#6a6a6a" stroke-width="0.9"/>
<line x1="499.40" y1="227.80" x2="499.40" y2="228.70" stroke="#6a6a6a" stroke-width="0.9"/>
<line x1="461.96" y1="218.85" x2="506.60" y2="181.93" stroke="#505050" stroke-width="0.75"/>
<circle cx="461.96" cy="218.85" r="2.8" fill="#b0141f" stroke="#600a12" stroke-width="0.6"/>
<circle cx="469.16" cy="212.90" r="2.8" fill="#9c1428" stroke="#560a16" stroke-width="0.6"/>
<circle cx="476.36" cy="206.94" r="2.8" fill="#701232" stroke="#3e0a1c" stroke-width="0.6"/>
<circle cx="485.00" cy="199.80" r="2.8" fill="#501244" stroke="#2c0a28" stroke-width="0.6"/>
<circle cx="492.20" cy="193.84" r="2.8" fill="#3a1256" stroke="#200a32" stroke-width="0.6"/>
<circle cx="499.40" cy="187.88" r="2.8" fill="#24106c" stroke="#140a40" stroke-width="0.6"/>
<circle cx="506.60" cy="181.93" r="2.8" fill="#1c18b8" stroke="#0e0c6c" stroke-width="0.6"/>
<text x="460.60" y="190.40" font-size="10.3" text-anchor="start" font-weight="normal" font-style="normal" fill="#1c1c1c" font-family="Liberation Sans, Arial, sans-serif" stroke="#1c1c1c" stroke-width="0.28">t2</text>
<text x="484.20" y="216.40" font-size="8.4" font-weight="bold" font-style="normal" fill="#1a1a1a" stroke="#1a1a1a" stroke-width="0.3" font-family="Liberation Serif, serif" text-anchor="start" textLength="13.60" lengthAdjust="spacingAndGlyphs"><tspan fill="#888" stroke="none" font-weight="normal">|</tspan>Δ<tspan font-style="italic">μ</tspan><tspan fill="#888" stroke="none" font-weight="normal">|</tspan></text>
<path d="M490.40 210.00H493.96" stroke="#444" stroke-width="0.55" fill="none"/>
<path d="M494.80 210.00L493.40 209.10L493.40 210.90Z" fill="#444"/>
<text x="498.50" y="217.40" font-size="5.9" font-weight="bold" font-style="italic" fill="#1a1a1a" stroke="#1a1a1a" stroke-width="0.25" font-family="Liberation Serif, serif" text-anchor="start" textLength="12.00" lengthAdjust="spacingAndGlyphs">DFT</text>
<text x="484.40" y="224.80" font-size="8.4" font-weight="bold" font-style="normal" fill="#1a1a1a" stroke="#1a1a1a" stroke-width="0.3" font-family="Liberation Serif, serif" text-anchor="start" textLength="24.90" lengthAdjust="spacingAndGlyphs"><tspan fill="#777" stroke="#777">=</tspan> 0. 51</text>
<rect x="377.50" y="243.50" width="57.80" height="48.10" fill="none" stroke="#6a6a6a" stroke-width="0.95"/>
<line x1="376.00" y1="291.60" x2="377.50" y2="291.60" stroke="#6a6a6a" stroke-width="0.9"/>
<text x="374.80" y="294.61" font-size="8.4" text-anchor="end" font-weight="normal" font-style="normal" fill="#1c1c1c" font-family="Liberation Sans, Arial, sans-serif" stroke="#1c1c1c" stroke-width="0.28">980</text>
<line x1="376.00" y1="275.57" x2="377.50" y2="275.57" stroke="#6a6a6a" stroke-width="0.9"/>
<text x="374.80" y="278.57" font-size="8.4" text-anchor="end" font-weight="normal" font-style="normal" fill="#1c1c1c" font-family="Liberation Sans, Arial, sans-serif" stroke="#1c1c1c" stroke-width="0.28">990</text>
<line x1="376.00" y1="259.53" x2="377.50" y2="259.53" stroke="#6a6a6a" stroke-width="0.9"/>
<text x="374.80" y="262.54" font-size="8.4" text-anchor="end" font-weight="normal" font-style="normal" fill="#1c1c1c" font-family="Liberation Sans, Arial, sans-serif" stroke="#1c1c1c" stroke-width="0.28">1000</text>
<line x1="376.00" y1="243.50" x2="377.50" y2="243.50" stroke="#6a6a6a" stroke-width="0.9"/>
<text x="374.80" y="246.51" font-size="8.4" text-anchor="end" font-weight="normal" font-style="normal" fill="#1c1c1c" font-family="Liberation Sans, Arial, sans-serif" stroke="#1c1c1c" stroke-width="0.28">1010</text>
<line x1="376.60" y1="283.58" x2="377.50" y2="283.58" stroke="#6a6a6a" stroke-width="0.9"/>
<line x1="376.60" y1="267.55" x2="377.50" y2="267.55" stroke="#6a6a6a" stroke-width="0.9"/>
<line x1="376.60" y1="251.52" x2="377.50" y2="251.52" stroke="#6a6a6a" stroke-width="0.9"/>
<line x1="384.73" y1="291.60" x2="384.73" y2="293.10" stroke="#6a6a6a" stroke-width="0.9"/>
<text x="383.83" y="300.80" font-size="8.4" text-anchor="middle" font-weight="normal" font-style="normal" fill="#1c1c1c" font-family="Liberation Sans, Arial, sans-serif" stroke="#1c1c1c" stroke-width="0.28">-30</text>
<line x1="399.18" y1="291.60" x2="399.18" y2="293.10" stroke="#6a6a6a" stroke-width="0.9"/>
<text x="398.28" y="300.80" font-size="8.4" text-anchor="middle" font-weight="normal" font-style="normal" fill="#1c1c1c" font-family="Liberation Sans, Arial, sans-serif" stroke="#1c1c1c" stroke-width="0.28">-20</text>
<line x1="413.62" y1="291.60" x2="413.62" y2="293.10" stroke="#6a6a6a" stroke-width="0.9"/>
<text x="412.73" y="300.80" font-size="8.4" text-anchor="middle" font-weight="normal" font-style="normal" fill="#1c1c1c" font-family="Liberation Sans, Arial, sans-serif" stroke="#1c1c1c" stroke-width="0.28">-10</text>
<line x1="428.07" y1="291.60" x2="428.07" y2="293.10" stroke="#6a6a6a" stroke-width="0.9"/>
<text x="428.07" y="300.80" font-size="8.4" text-anchor="middle" font-weight="normal" font-style="normal" fill="#1c1c1c" font-family="Liberation Sans, Arial, sans-serif" stroke="#1c1c1c" stroke-width="0.28">0</text>
<line x1="391.95" y1="291.60" x2="391.95" y2="292.50" stroke="#6a6a6a" stroke-width="0.9"/>
<line x1="406.40" y1="291.60" x2="406.40" y2="292.50" stroke="#6a6a6a" stroke-width="0.9"/>
<line x1="420.85" y1="291.60" x2="420.85" y2="292.50" stroke="#6a6a6a" stroke-width="0.9"/>
<line x1="383.28" y1="269.96" x2="428.07" y2="256.33" stroke="#505050" stroke-width="0.75"/>
<circle cx="383.28" cy="269.96" r="2.8" fill="#b0141f" stroke="#600a12" stroke-width="0.6"/>
<circle cx="390.50" cy="267.76" r="2.8" fill="#9c1428" stroke="#560a16" stroke-width="0.6"/>
<circle cx="397.73" cy="265.56" r="2.8" fill="#701232" stroke="#3e0a1c" stroke-width="0.6"/>
<circle cx="406.40" cy="262.92" r="2.8" fill="#501244" stroke="#2c0a28" stroke-width="0.6"/>
<circle cx="413.62" cy="260.72" r="2.8" fill="#3a1256" stroke="#200a32" stroke-width="0.6"/>
<circle cx="420.85" cy="258.52" r="2.8" fill="#24106c" stroke="#140a40" stroke-width="0.6"/>
<circle cx="428.07" cy="256.33" r="2.8" fill="#1c18b8" stroke="#0e0c6c" stroke-width="0.6"/>
<text x="381.90" y="254.90" font-size="10.3" text-anchor="start" font-weight="normal" font-style="normal" fill="#1c1c1c" font-family="Liberation Sans, Arial, sans-serif" stroke="#1c1c1c" stroke-width="0.28">g1</text>
<text x="405.70" y="280.20" font-size="8.4" font-weight="bold" font-style="normal" fill="#1a1a1a" stroke="#1a1a1a" stroke-width="0.3" font-family="Liberation Serif, serif" text-anchor="start" textLength="13.60" lengthAdjust="spacingAndGlyphs"><tspan fill="#888" stroke="none" font-weight="normal">|</tspan>Δ<tspan font-style="italic">μ</tspan><tspan fill="#888" stroke="none" font-weight="normal">|</tspan></text>
<path d="M411.90 273.80H415.46" stroke="#444" stroke-width="0.55" fill="none"/>
<path d="M416.30 273.80L414.90 272.90L414.90 274.70Z" fill="#444"/>
<text x="420.00" y="281.20" font-size="5.9" font-weight="bold" font-style="italic" fill="#1a1a1a" stroke="#1a1a1a" stroke-width="0.25" font-family="Liberation Serif, serif" text-anchor="start" textLength="12.00" lengthAdjust="spacingAndGlyphs">DFT</text>
<text x="405.90" y="288.60" font-size="8.4" font-weight="bold" font-style="normal" fill="#1a1a1a" stroke="#1a1a1a" stroke-width="0.3" font-family="Liberation Serif, serif" text-anchor="start" textLength="24.90" lengthAdjust="spacingAndGlyphs"><tspan fill="#777" stroke="#777">=</tspan> 0. 23</text>
<rect x="456.20" y="243.20" width="57.60" height="48.30" fill="none" stroke="#6a6a6a" stroke-width="0.95"/>
<line x1="454.70" y1="291.50" x2="456.20" y2="291.50" stroke="#6a6a6a" stroke-width="0.9"/>
<text x="453.60" y="294.51" font-size="8.4" text-anchor="end" font-weight="normal" font-style="normal" fill="#1c1c1c" font-family="Liberation Sans, Arial, sans-serif" stroke="#1c1c1c" stroke-width="0.28">900</text>
<line x1="454.70" y1="275.40" x2="456.20" y2="275.40" stroke="#6a6a6a" stroke-width="0.9"/>
<text x="453.60" y="278.41" font-size="8.4" text-anchor="end" font-weight="normal" font-style="normal" fill="#1c1c1c" font-family="Liberation Sans, Arial, sans-serif" stroke="#1c1c1c" stroke-width="0.28">910</text>
<line x1="454.70" y1="259.30" x2="456.20" y2="259.30" stroke="#6a6a6a" stroke-width="0.9"/>
<text x="453.60" y="262.31" font-size="8.4" text-anchor="end" font-weight="normal" font-style="normal" fill="#1c1c1c" font-family="Liberation Sans, Arial, sans-serif" stroke="#1c1c1c" stroke-width="0.28">920</text>
<line x1="454.70" y1="243.20" x2="456.20" y2="243.20" stroke="#6a6a6a" stroke-width="0.9"/>
<text x="453.60" y="246.21" font-size="8.4" text-anchor="end" font-weight="normal" font-style="normal" fill="#1c1c1c" font-family="Liberation Sans, Arial, sans-serif" stroke="#1c1c1c" stroke-width="0.28">930</text>
<line x1="455.30" y1="283.45" x2="456.20" y2="283.45" stroke="#6a6a6a" stroke-width="0.9"/>
<line x1="455.30" y1="267.35" x2="456.20" y2="267.35" stroke="#6a6a6a" stroke-width="0.9"/>
<line x1="455.30" y1="251.25" x2="456.20" y2="251.25" stroke="#6a6a6a" stroke-width="0.9"/>
<line x1="463.40" y1="291.50" x2="463.40" y2="293.00" stroke="#6a6a6a" stroke-width="0.9"/>
<text x="462.50" y="300.80" font-size="8.4" text-anchor="middle" font-weight="normal" font-style="normal" fill="#1c1c1c" font-family="Liberation Sans, Arial, sans-serif" stroke="#1c1c1c" stroke-width="0.28">-30</text>
<line x1="477.80" y1="291.50" x2="477.80" y2="293.00" stroke="#6a6a6a" stroke-width="0.9"/>
<text x="476.90" y="300.80" font-size="8.4" text-anchor="middle" font-weight="normal" font-style="normal" fill="#1c1c1c" font-family="Liberation Sans, Arial, sans-serif" stroke="#1c1c1c" stroke-width="0.28">-20</text>
<line x1="492.20" y1="291.50" x2="492.20" y2="293.00" stroke="#6a6a6a" stroke-width="0.9"/>
<text x="491.30" y="300.80" font-size="8.4" text-anchor="middle" font-weight="normal" font-style="normal" fill="#1c1c1c" font-family="Liberation Sans, Arial, sans-serif" stroke="#1c1c1c" stroke-width="0.28">-10</text>
<line x1="506.60" y1="291.50" x2="506.60" y2="293.00" stroke="#6a6a6a" stroke-width="0.9"/>
<text x="506.60" y="300.80" font-size="8.4" text-anchor="middle" font-weight="normal" font-style="normal" fill="#1c1c1c" font-family="Liberation Sans, Arial, sans-serif" stroke="#1c1c1c" stroke-width="0.28">0</text>
<line x1="470.60" y1="291.50" x2="470.60" y2="292.40" stroke="#6a6a6a" stroke-width="0.9"/>
<line x1="485.00" y1="291.50" x2="485.00" y2="292.40" stroke="#6a6a6a" stroke-width="0.9"/>
<line x1="499.40" y1="291.50" x2="499.40" y2="292.40" stroke="#6a6a6a" stroke-width="0.9"/>
<line x1="461.96" y1="267.67" x2="506.60" y2="254.47" stroke="#505050" stroke-width="0.75"/>
<circle cx="461.96" cy="267.67" r="2.8" fill="#b0141f" stroke="#600a12" stroke-width="0.6"/>
<circle cx="469.16" cy="265.54" r="2.8" fill="#9c1428" stroke="#560a16" stroke-width="0.6"/>
<circle cx="476.36" cy="263.41" r="2.8" fill="#701232" stroke="#3e0a1c" stroke-width="0.6"/>
<circle cx="485.00" cy="260.86" r="2.8" fill="#501244" stroke="#2c0a28" stroke-width="0.6"/>
<circle cx="492.20" cy="258.73" r="2.8" fill="#3a1256" stroke="#200a32" stroke-width="0.6"/>
<circle cx="499.40" cy="256.60" r="2.8" fill="#24106c" stroke="#140a40" stroke-width="0.6"/>
<circle cx="506.60" cy="254.47" r="2.8" fill="#1c18b8" stroke="#0e0c6c" stroke-width="0.6"/>
<text x="460.60" y="254.60" font-size="10.3" text-anchor="start" font-weight="normal" font-style="normal" fill="#1c1c1c" font-family="Liberation Sans, Arial, sans-serif" stroke="#1c1c1c" stroke-width="0.28">g2</text>
<text x="484.20" y="280.10" font-size="8.4" font-weight="bold" font-style="normal" fill="#1a1a1a" stroke="#1a1a1a" stroke-width="0.3" font-family="Liberation Serif, serif" text-anchor="start" textLength="13.60" lengthAdjust="spacingAndGlyphs"><tspan fill="#888" stroke="none" font-weight="normal">|</tspan>Δ<tspan font-style="italic">μ</tspan><tspan fill="#888" stroke="none" font-weight="normal">|</tspan></text>
<path d="M490.40 273.70H493.96" stroke="#444" stroke-width="0.55" fill="none"/>
<path d="M494.80 273.70L493.40 272.80L493.40 274.60Z" fill="#444"/>
<text x="498.50" y="281.10" font-size="5.9" font-weight="bold" font-style="italic" fill="#1a1a1a" stroke="#1a1a1a" stroke-width="0.25" font-family="Liberation Serif, serif" text-anchor="start" textLength="12.00" lengthAdjust="spacingAndGlyphs">DFT</text>
<text x="484.40" y="288.50" font-size="8.4" font-weight="bold" font-style="normal" fill="#1a1a1a" stroke="#1a1a1a" stroke-width="0.3" font-family="Liberation Serif, serif" text-anchor="start" textLength="24.90" lengthAdjust="spacingAndGlyphs"><tspan fill="#777" stroke="#777">=</tspan> 0. 26</text>
<text x="352.60" y="239.70" font-size="8.5" text-anchor="middle" font-weight="normal" font-style="normal" fill="#1c1c1c" font-family="Liberation Sans, Arial, sans-serif" transform="rotate(-90 352.60 239.70)" stroke="#1c1c1c" stroke-width="0.28">Wavenumber / cm<tspan dy="-3.2" font-size="5.2">-1</tspan></text>
<text x="442.50" y="313.00" font-size="8.5" text-anchor="middle" font-weight="normal" font-style="normal" fill="#1c1c1c" font-family="Liberation Sans, Arial, sans-serif" stroke="#1c1c1c" stroke-width="0.28">Electric Field (DFT) / MV·cm<tspan dy="-3.2" font-size="5.2">-1</tspan></text>
<text x="1.50" y="342.90" font-size="10.8" text-anchor="start" font-weight="bold" font-style="normal" fill="#111" font-family="Liberation Sans, Arial, sans-serif">c.1</text>
<text x="147.60" y="342.50" font-size="10.8" text-anchor="start" font-weight="bold" font-style="normal" fill="#111" font-family="Liberation Sans, Arial, sans-serif">c.2</text>
<text x="330.20" y="343.10" font-size="10.8" text-anchor="start" font-weight="bold" font-style="normal" fill="#111" font-family="Liberation Sans, Arial, sans-serif">c.3</text>
<rect x="172.60" y="342.30" width="144.80" height="116.00" fill="none" stroke="#6a6a6a" stroke-width="0.95"/>
<line x1="179.50" y1="458.30" x2="179.50" y2="460.10" stroke="#6a6a6a" stroke-width="0.9"/>
<text x="179.50" y="468.60" font-size="8.4" text-anchor="middle" font-weight="normal" font-style="normal" fill="#1c1c1c" font-family="Liberation Sans, Arial, sans-serif" stroke="#1c1c1c" stroke-width="0.28">1120</text>
<line x1="207.08" y1="458.30" x2="207.08" y2="460.10" stroke="#6a6a6a" stroke-width="0.9"/>
<text x="207.08" y="468.60" font-size="8.4" text-anchor="middle" font-weight="normal" font-style="normal" fill="#1c1c1c" font-family="Liberation Sans, Arial, sans-serif" stroke="#1c1c1c" stroke-width="0.28">1080</text>
<line x1="234.66" y1="458.30" x2="234.66" y2="460.10" stroke="#6a6a6a" stroke-width="0.9"/>
<text x="234.66" y="468.60" font-size="8.4" text-anchor="middle" font-weight="normal" font-style="normal" fill="#1c1c1c" font-family="Liberation Sans, Arial, sans-serif" stroke="#1c1c1c" stroke-width="0.28">1040</text>
<line x1="262.24" y1="458.30" x2="262.24" y2="460.10" stroke="#6a6a6a" stroke-width="0.9"/>
<text x="262.24" y="468.60" font-size="8.4" text-anchor="middle" font-weight="normal" font-style="normal" fill="#1c1c1c" font-family="Liberation Sans, Arial, sans-serif" stroke="#1c1c1c" stroke-width="0.28">1000</text>
<line x1="289.82" y1="458.30" x2="289.82" y2="460.10" stroke="#6a6a6a" stroke-width="0.9"/>
<text x="289.82" y="468.60" font-size="8.4" text-anchor="middle" font-weight="normal" font-style="normal" fill="#1c1c1c" font-family="Liberation Sans, Arial, sans-serif" stroke="#1c1c1c" stroke-width="0.28">960</text>
<line x1="317.40" y1="458.30" x2="317.40" y2="460.10" stroke="#6a6a6a" stroke-width="0.9"/>
<text x="317.40" y="468.60" font-size="8.4" text-anchor="middle" font-weight="normal" font-style="normal" fill="#1c1c1c" font-family="Liberation Sans, Arial, sans-serif" stroke="#1c1c1c" stroke-width="0.28">920</text>
<line x1="193.29" y1="458.30" x2="193.29" y2="459.38" stroke="#6a6a6a" stroke-width="0.9"/>
<line x1="220.87" y1="458.30" x2="220.87" y2="459.38" stroke="#6a6a6a" stroke-width="0.9"/>
<line x1="248.45" y1="458.30" x2="248.45" y2="459.38" stroke="#6a6a6a" stroke-width="0.9"/>
<line x1="276.03" y1="458.30" x2="276.03" y2="459.38" stroke="#6a6a6a" stroke-width="0.9"/>
<line x1="303.61" y1="458.30" x2="303.61" y2="459.38" stroke="#6a6a6a" stroke-width="0.9"/>
<polyline fill="none" stroke="#3e3eda" stroke-width="0.7" stroke-linejoin="round" points="172.6,391.8 181.6,391.8 183.6,391.7 184.6,391.5 185.3,391.1 185.9,390.4 186.3,389.9 186.9,388.3 187.3,387.3 187.9,384.4 188.9,378.2 191.0,363.1 191.6,359.6 192.0,358.6 192.3,358.1 192.6,358.2 193.0,358.9 193.6,361.8 194.3,366.2 196.0,379.1 196.6,383.3 197.3,386.5 198.0,388.7 198.6,390.1 199.0,390.6 199.6,391.2 200.6,391.6 202.0,391.8 204.0,391.8 267.7,391.8 269.0,391.7 270.0,391.5 271.0,391.1 273.0,390.2 274.0,390.0 275.0,390.2 277.7,391.4 279.4,391.7 289.4,391.8 290.7,391.7 291.7,391.5 292.7,391.0 293.4,390.4 293.7,389.9 294.4,388.4 295.0,386.3 296.0,381.5 298.0,368.4 298.7,364.6 299.4,362.1 299.7,361.4 300.1,361.2 300.4,361.5 300.7,362.2 301.4,364.9 302.1,368.8 303.7,379.9 304.7,385.1 305.4,387.6 305.7,388.6 306.4,389.9 307.1,390.8 307.7,391.3 308.4,391.6 309.4,391.7 311.7,391.8 315.4,391.7 316.4,391.6 317.4,391.0"/>
<polyline fill="none" stroke="#3e3eda" stroke-width="0.7" stroke-linejoin="round" points="172.6,451.9 176.3,451.8 177.3,451.7 177.9,451.5 178.6,451.0 179.3,450.2 179.9,448.8 180.3,447.8 181.3,443.5 181.9,439.1 182.6,433.7 184.3,417.7 184.9,412.2 185.6,408.4 185.9,407.3 186.3,406.9 186.6,407.2 186.9,408.0 187.6,411.6 188.3,416.9 190.3,435.9 191.0,440.9 191.6,444.8 192.3,447.6 193.0,449.4 193.3,450.0 194.0,450.9 195.0,451.6 196.0,451.8 198.0,451.9 229.3,451.9 230.7,451.7 231.7,451.2 232.3,450.8 234.3,449.1 235.0,448.7 235.3,448.7 235.7,448.7 236.3,449.0 238.3,450.8 239.0,451.2 240.0,451.6 241.0,451.8 244.0,451.9 272.4,451.8 273.4,451.7 274.0,451.4 275.0,450.7 276.0,449.2 277.7,446.2 278.4,445.5 278.7,445.4 279.0,445.4 279.7,446.0 281.7,449.5 282.7,450.8 283.0,451.1 283.7,451.4 284.0,451.5 284.7,451.4 285.4,451.1 285.7,450.8 286.4,449.9 287.0,448.5 287.7,446.4 288.4,443.5 289.0,439.7 291.0,425.8 291.7,422.0 292.4,419.6 292.7,419.1 293.0,419.0 293.4,419.4 293.7,420.3 294.4,423.3 296.7,439.1 297.7,444.6 298.7,448.3 299.0,449.1 299.7,450.3 300.4,451.1 301.1,451.5 301.7,451.7 302.7,451.8 317.4,451.9"/>
<polyline fill="none" stroke="#4e3dca" stroke-width="0.7" stroke-linejoin="round" points="172.6,391.8 182.3,391.8 184.3,391.7 185.3,391.5 185.9,391.1 186.6,390.5 186.9,390.0 187.6,388.5 187.9,387.4 188.9,382.8 189.6,378.5 191.3,365.4 192.0,361.0 192.6,358.3 193.0,357.7 193.3,357.7 193.6,358.2 194.3,361.0 195.0,365.4 197.0,380.8 198.0,386.1 198.6,388.5 199.3,390.0 199.6,390.5 200.3,391.1 201.3,391.6 202.6,391.8 204.6,391.8 267.7,391.8 269.0,391.7 270.0,391.5 271.0,391.1 273.0,390.2 274.0,390.0 275.0,390.2 277.7,391.4 279.4,391.7 290.4,391.8 291.7,391.7 292.7,391.5 293.7,390.9 294.4,390.1 295.0,388.8 295.7,386.8 296.4,384.1 297.0,380.5 299.4,365.5 300.1,362.7 300.4,361.8 300.7,361.4 301.1,361.5 301.4,362.0 302.1,364.4 302.7,368.0 304.4,379.1 305.1,382.9 306.1,387.2 306.4,388.2 307.1,389.7 307.7,390.7 308.4,391.2 309.1,391.5 310.1,391.7 312.1,391.8 315.4,391.7 316.4,391.6 317.4,391.0"/>
<polyline fill="none" stroke="#4e3dca" stroke-width="0.7" stroke-linejoin="round" points="172.6,451.9 176.9,451.9 177.9,451.7 178.6,451.6 179.3,451.2 179.9,450.5 180.6,449.4 180.9,448.5 181.6,446.2 181.9,444.7 182.9,438.4 183.6,432.8 185.3,416.7 185.9,411.4 186.6,407.9 186.9,407.0 187.3,406.8 187.6,407.2 187.9,408.3 188.6,412.2 189.3,417.8 191.0,433.8 191.6,439.2 192.3,443.5 193.0,446.7 193.3,447.9 194.0,449.6 194.3,450.2 195.0,451.0 196.0,451.6 197.0,451.8 199.0,451.9 229.3,451.9 230.7,451.7 231.7,451.2 232.3,450.8 234.3,449.1 235.0,448.7 235.3,448.7 235.7,448.7 236.3,449.0 238.3,450.8 239.0,451.2 240.0,451.6 241.0,451.8 244.0,451.9 272.4,451.8 273.4,451.7 274.0,451.4 275.0,450.7 276.0,449.2 277.7,446.2 278.4,445.5 278.7,445.4 279.0,445.4 279.7,446.0 282.0,450.0 283.0,451.1 283.7,451.5 284.4,451.6 285.0,451.6 285.7,451.5 286.4,451.1 286.7,450.8 287.4,449.8 288.0,448.4 288.7,446.2 289.4,443.1 290.0,439.3 292.4,423.3 293.0,420.2 293.4,419.3 293.7,418.8 294.0,418.8 294.4,419.3 294.7,420.2 295.4,423.3 297.7,439.3 298.7,444.8 299.7,448.4 300.1,449.2 300.7,450.4 301.1,450.8 301.7,451.3 302.4,451.6 303.4,451.8 305.7,451.9 317.4,451.9"/>
<polyline fill="none" stroke="#5e3bbb" stroke-width="0.7" stroke-linejoin="round" points="172.6,391.8 182.9,391.8 184.9,391.7 185.9,391.5 186.6,391.2 187.3,390.5 187.6,390.1 188.3,388.6 188.6,387.6 189.3,384.8 190.3,378.8 192.0,365.5 192.6,360.9 193.3,357.9 193.6,357.2 194.0,357.1 194.3,357.6 194.6,358.6 195.3,362.2 197.6,380.2 198.6,385.8 199.3,388.2 200.0,389.8 200.3,390.4 201.0,391.1 202.0,391.6 203.3,391.8 205.3,391.8 267.7,391.8 269.0,391.7 270.0,391.5 271.0,391.1 273.0,390.2 274.0,390.0 275.0,390.2 277.7,391.4 279.4,391.7 290.7,391.8 292.4,391.7 293.4,391.5 294.4,391.0 295.0,390.3 295.4,389.8 296.0,388.3 296.7,386.1 297.7,381.4 299.7,368.4 300.4,364.7 301.1,362.3 301.4,361.7 301.7,361.6 302.1,362.0 302.4,362.7 302.7,363.9 303.4,367.4 305.7,382.3 306.7,386.8 307.1,387.8 307.7,389.5 308.1,390.1 308.7,390.9 309.4,391.3 310.4,391.6 312.1,391.8 315.4,391.7 316.4,391.6 317.4,391.0"/>
<polyline fill="none" stroke="#5e3bbb" stroke-width="0.7" stroke-linejoin="round" points="172.6,451.9 177.9,451.9 178.9,451.7 179.6,451.5 180.3,451.1 180.9,450.4 181.6,449.1 181.9,448.2 182.6,445.8 182.9,444.2 183.9,437.6 186.3,415.8 186.9,410.7 187.6,407.5 187.9,406.8 188.3,406.8 188.6,407.4 188.9,408.7 189.6,412.8 192.0,434.6 192.6,439.9 193.3,444.0 194.0,447.0 194.3,448.2 195.0,449.8 195.3,450.3 196.0,451.1 197.0,451.6 198.0,451.8 200.0,451.9 229.3,451.9 230.7,451.7 231.7,451.2 232.3,450.8 234.3,449.1 235.0,448.7 235.3,448.7 235.7,448.7 236.3,449.0 238.3,450.8 239.0,451.2 240.0,451.6 241.0,451.8 244.0,451.9 272.4,451.8 273.4,451.7 274.0,451.4 275.0,450.7 276.0,449.2 277.7,446.2 278.4,445.5 278.7,445.4 279.0,445.4 279.7,446.0 282.0,450.0 283.0,451.1 283.7,451.5 284.4,451.7 285.4,451.8 286.4,451.6 287.4,451.0 288.0,450.3 288.4,449.7 289.0,448.2 289.7,445.9 290.4,442.8 291.0,438.9 293.4,422.8 294.0,419.8 294.4,418.9 294.7,418.5 295.0,418.6 295.4,419.2 296.0,421.6 296.7,425.5 298.7,439.6 299.7,445.0 300.7,448.5 301.1,449.3 301.7,450.4 302.1,450.8 302.7,451.3 303.4,451.6 304.4,451.8 306.4,451.9 317.4,451.9"/>
<polyline fill="none" stroke="#6e3aab" stroke-width="0.7" stroke-linejoin="round" points="172.6,391.8 185.6,391.7 186.6,391.5 187.3,391.2 187.9,390.6 188.3,390.1 188.9,388.7 189.3,387.7 190.3,383.3 191.3,376.5 193.3,360.9 194.0,357.7 194.3,356.8 194.6,356.6 195.0,357.0 195.3,357.9 196.0,361.3 198.3,379.6 199.3,385.4 200.0,388.0 200.6,389.7 201.0,390.3 201.6,391.0 202.6,391.6 204.0,391.8 206.0,391.8 267.7,391.8 269.0,391.7 270.0,391.5 271.0,391.1 273.0,390.2 274.0,390.0 275.0,390.2 277.7,391.4 279.4,391.7 291.4,391.8 293.0,391.7 294.0,391.6 295.0,391.1 295.7,390.5 296.0,390.0 296.7,388.7 297.4,386.7 298.0,383.9 298.7,380.3 301.1,365.6 301.7,362.9 302.1,362.1 302.4,361.8 302.7,362.0 303.1,362.6 303.7,365.0 304.4,368.7 306.1,379.6 306.7,383.3 307.4,386.3 307.7,387.4 308.4,389.2 308.7,389.8 309.4,390.7 310.1,391.3 311.1,391.6 312.7,391.8 315.4,391.7 316.4,391.6 317.4,391.0"/>
<polyline fill="none" stroke="#6e3aab" stroke-width="0.7" stroke-linejoin="round" points="172.6,451.9 178.3,451.9 179.3,451.8 180.3,451.6 180.9,451.3 181.6,450.7 182.3,449.6 182.6,448.9 183.3,446.8 183.6,445.3 184.3,441.6 185.3,434.0 187.6,412.2 188.3,408.2 188.6,407.1 188.9,406.6 189.3,406.8 189.6,407.6 190.3,411.0 191.0,416.3 193.0,435.4 193.6,440.5 194.3,444.5 195.0,447.4 195.6,449.3 196.0,450.0 196.6,450.9 197.6,451.5 198.6,451.8 200.6,451.9 229.3,451.9 230.7,451.7 231.7,451.2 232.3,450.8 234.3,449.1 235.0,448.7 235.3,448.7 235.7,448.7 236.3,449.0 238.3,450.8 239.0,451.2 240.0,451.6 241.0,451.8 244.0,451.9 272.4,451.8 273.4,451.7 274.0,451.4 275.0,450.7 276.0,449.2 277.7,446.2 278.4,445.5 278.7,445.4 279.0,445.4 279.7,446.0 282.0,450.0 283.0,451.1 283.7,451.5 284.7,451.8 286.0,451.8 287.4,451.6 288.4,451.0 289.0,450.2 289.4,449.6 290.0,448.0 290.7,445.7 291.4,442.5 292.0,438.4 293.7,426.5 294.4,422.3 295.0,419.4 295.4,418.6 295.7,418.3 296.0,418.4 296.4,419.0 297.0,421.6 297.7,425.6 299.4,437.6 300.4,443.6 301.4,447.6 301.7,448.6 302.4,450.0 302.7,450.5 303.4,451.2 304.1,451.5 305.1,451.8 307.1,451.9 317.4,451.9"/>
<polyline fill="none" stroke="#7e389c" stroke-width="0.7" stroke-linejoin="round" points="172.6,391.8 186.3,391.7 187.3,391.5 187.9,391.2 188.6,390.7 188.9,390.2 189.6,388.9 189.9,387.9 191.0,383.5 192.0,376.8 194.0,360.8 194.6,357.4 195.0,356.5 195.3,356.1 195.6,356.4 196.0,357.2 196.6,360.5 199.0,378.9 199.6,383.2 200.3,386.5 201.0,388.7 201.6,390.1 202.3,391.0 203.3,391.5 204.6,391.8 206.6,391.8 267.7,391.8 269.0,391.7 270.0,391.5 271.0,391.1 273.0,390.2 274.0,390.0 275.0,390.2 277.7,391.4 279.4,391.7 292.4,391.8 294.0,391.7 295.0,391.5 296.0,391.0 296.7,390.2 297.4,389.0 298.0,387.2 298.7,384.6 299.4,381.2 301.4,368.4 302.1,364.8 302.7,362.6 303.1,362.1 303.4,362.0 303.7,362.5 304.1,363.3 304.7,366.1 306.7,378.9 307.7,384.3 308.4,387.0 308.7,388.0 309.4,389.6 309.7,390.2 310.4,390.9 311.1,391.4 312.1,391.7 313.7,391.8 315.7,391.7 316.7,391.4 317.4,391.0"/>
<polyline fill="none" stroke="#7e389c" stroke-width="0.7" stroke-linejoin="round" points="172.6,451.9 178.9,451.9 180.9,451.7 181.9,451.2 182.6,450.6 183.3,449.4 183.6,448.6 184.3,446.4 184.6,444.9 185.6,438.6 186.3,433.0 187.9,416.9 188.6,411.4 189.3,407.8 189.6,406.8 189.9,406.5 190.3,406.9 190.6,407.9 191.3,411.6 192.0,417.1 194.0,436.2 194.6,441.2 195.3,445.0 196.0,447.7 196.6,449.5 197.0,450.1 197.6,451.0 198.6,451.6 199.6,451.8 201.6,451.9 229.3,451.9 230.7,451.7 231.7,451.2 232.3,450.8 234.3,449.1 235.0,448.7 235.3,448.7 235.7,448.7 236.3,449.0 238.3,450.8 239.0,451.2 240.0,451.6 241.0,451.8 244.0,451.9 272.4,451.8 273.4,451.7 274.0,451.4 275.0,450.7 276.0,449.2 277.7,446.2 278.4,445.5 278.7,445.4 279.0,445.4 279.7,446.0 282.0,450.0 282.7,450.8 283.4,451.3 284.4,451.7 285.4,451.9 287.0,451.8 288.4,451.6 289.4,450.9 290.0,450.1 290.4,449.5 291.0,447.9 291.7,445.4 292.7,440.2 294.7,425.9 295.4,421.8 296.0,419.0 296.4,418.3 296.7,418.0 297.0,418.2 297.4,418.9 298.0,421.7 298.7,425.8 300.4,437.8 301.4,443.8 302.4,447.8 302.7,448.7 303.4,450.1 303.7,450.5 304.4,451.2 305.1,451.5 306.1,451.8 308.1,451.9 317.4,451.9"/>
<polyline fill="none" stroke="#8e378c" stroke-width="0.7" stroke-linejoin="round" points="172.6,391.8 186.9,391.7 187.9,391.6 188.6,391.3 189.3,390.7 189.6,390.3 190.3,389.0 190.6,388.0 191.6,383.8 192.6,377.1 194.6,360.8 195.3,357.2 195.6,356.1 196.0,355.6 196.3,355.8 196.6,356.5 197.3,359.7 198.0,364.5 199.6,378.3 200.3,382.8 201.0,386.1 201.6,388.5 202.3,390.0 202.6,390.5 203.3,391.2 204.3,391.6 205.6,391.8 207.6,391.8 267.7,391.8 269.0,391.7 270.0,391.5 271.0,391.1 273.0,390.2 274.0,390.0 275.0,390.2 277.7,391.4 279.4,391.7 293.0,391.8 294.7,391.7 295.7,391.6 296.7,391.1 297.4,390.4 297.7,390.0 298.4,388.6 299.0,386.6 299.7,383.8 300.4,380.2 302.1,369.4 302.7,365.6 303.4,363.1 303.7,362.4 304.1,362.2 304.4,362.4 304.7,363.1 305.4,365.6 306.1,369.3 307.7,380.1 308.4,383.7 309.1,386.5 309.4,387.7 310.1,389.3 310.4,390.0 311.1,390.8 311.7,391.3 312.7,391.6 314.1,391.8 315.7,391.7 316.7,391.4 317.4,391.0"/>
<polyline fill="none" stroke="#8e378c" stroke-width="0.7" stroke-linejoin="round" points="172.6,451.9 179.6,451.9 181.6,451.7 182.6,451.4 183.3,450.8 183.9,449.9 184.3,449.2 184.9,447.3 185.3,445.9 186.3,440.3 186.9,435.1 188.9,415.9 189.6,410.7 190.3,407.3 190.6,406.5 191.0,406.4 191.3,407.0 191.6,408.2 192.3,412.2 194.6,434.1 195.3,439.5 196.0,443.8 196.6,446.9 197.0,448.0 197.6,449.7 198.0,450.3 198.6,451.1 199.6,451.6 200.6,451.8 202.6,451.9 227.3,451.9 229.7,451.8 230.7,451.7 231.7,451.2 232.3,450.8 234.3,449.1 235.0,448.7 235.3,448.7 235.7,448.7 236.3,449.0 238.3,450.8 239.0,451.2 240.0,451.6 241.0,451.8 244.0,451.9 272.4,451.8 273.4,451.7 274.0,451.4 275.0,450.7 276.0,449.2 277.7,446.2 278.4,445.5 278.7,445.4 279.0,445.4 279.7,446.0 282.0,450.0 282.7,450.8 283.4,451.3 284.4,451.7 285.7,451.9 288.0,451.8 289.4,451.5 290.4,450.9 291.0,450.0 291.7,448.6 292.4,446.5 293.0,443.6 293.7,439.8 295.7,425.4 296.4,421.3 297.0,418.6 297.4,417.9 297.7,417.8 298.0,418.1 298.4,418.8 299.0,421.7 299.7,425.9 301.4,438.1 302.4,443.9 303.4,447.9 303.7,448.8 304.4,450.1 304.7,450.6 305.4,451.2 306.1,451.6 307.1,451.8 309.1,451.9 317.4,451.9"/>
<polyline fill="none" stroke="#9e367c" stroke-width="0.7" stroke-linejoin="round" points="172.6,391.8 187.6,391.7 188.6,391.6 189.3,391.3 189.9,390.8 190.3,390.4 191.0,389.1 191.3,388.2 192.0,385.7 192.3,384.0 193.3,377.4 195.3,360.8 196.0,356.9 196.3,355.8 196.6,355.2 197.0,355.2 197.3,355.8 198.0,358.8 198.6,363.6 200.3,377.6 201.0,382.2 201.6,385.8 202.3,388.3 203.0,389.9 203.3,390.4 204.0,391.1 205.0,391.6 206.3,391.8 208.3,391.8 267.7,391.8 269.0,391.7 270.0,391.5 271.0,391.1 273.0,390.2 274.0,390.0 275.0,390.2 277.7,391.4 279.4,391.7 294.0,391.8 295.7,391.7 296.7,391.5 297.7,390.9 298.4,390.2 299.0,389.0 299.7,387.1 300.4,384.5 301.1,381.0 303.4,366.5 304.1,363.7 304.4,362.9 304.7,362.4 305.1,362.5 305.4,363.0 306.1,365.1 306.7,368.6 308.4,379.4 309.1,383.1 309.7,386.1 310.7,389.1 311.1,389.7 311.7,390.7 312.4,391.2 313.1,391.5 314.4,391.7 315.7,391.7 316.7,391.4 317.4,391.0"/>
<polyline fill="none" stroke="#9e367c" stroke-width="0.7" stroke-linejoin="round" points="172.6,451.9 180.6,451.9 182.6,451.7 183.6,451.3 184.3,450.7 184.9,449.7 185.3,449.0 185.9,446.9 186.3,445.5 186.9,441.8 187.9,434.2 190.3,412.2 191.0,408.1 191.3,406.9 191.6,406.3 192.0,406.4 192.3,407.2 193.0,410.5 193.6,415.7 195.6,434.9 196.3,440.2 197.0,444.3 197.6,447.2 198.3,449.2 198.6,449.9 199.3,450.8 199.6,451.1 200.3,451.5 201.3,451.8 203.3,451.9 227.3,451.9 229.7,451.8 230.7,451.7 231.7,451.2 232.3,450.8 234.3,449.1 235.0,448.7 235.3,448.7 235.7,448.7 236.3,449.0 238.3,450.8 239.0,451.2 240.0,451.6 241.0,451.8 244.0,451.9 272.4,451.8 273.4,451.7 274.0,451.4 275.0,450.7 276.0,449.2 277.7,446.2 278.4,445.5 278.7,445.4 279.0,445.4 279.7,446.0 282.0,450.0 282.7,450.8 283.4,451.3 284.4,451.7 285.7,451.9 288.4,451.9 290.0,451.6 291.0,451.1 291.7,450.4 292.0,449.9 292.7,448.5 293.4,446.3 294.0,443.3 294.7,439.4 296.7,424.9 297.4,420.9 298.0,418.3 298.4,417.6 298.7,417.5 299.0,417.9 299.4,418.8 300.1,421.8 302.4,438.3 303.4,444.1 304.1,446.9 304.4,448.0 305.1,449.6 305.4,450.2 306.1,451.0 306.7,451.4 307.7,451.7 309.7,451.9 317.4,451.9"/>
<polyline fill="none" stroke="#ae346d" stroke-width="0.7" stroke-linejoin="round" points="172.6,391.8 188.3,391.7 189.3,391.6 189.9,391.3 190.6,390.8 191.0,390.4 191.6,389.2 192.0,388.3 192.6,385.9 193.0,384.2 194.0,377.7 195.6,363.5 196.3,358.6 197.0,355.5 197.3,354.7 197.6,354.6 198.0,355.2 198.3,356.3 199.0,360.2 201.0,376.9 201.6,381.7 202.3,385.4 203.0,388.0 203.6,389.7 204.0,390.3 204.6,391.0 205.6,391.6 207.0,391.8 209.0,391.8 267.7,391.8 269.0,391.7 270.0,391.5 271.0,391.1 273.0,390.2 274.0,390.0 275.0,390.2 277.7,391.4 279.4,391.7 294.7,391.8 296.4,391.7 297.4,391.5 298.4,391.1 299.0,390.4 299.4,389.9 300.1,388.5 300.7,386.4 301.7,381.9 303.7,369.4 304.4,365.7 305.1,363.4 305.4,362.8 305.7,362.6 306.1,362.9 306.4,363.6 307.1,366.2 309.7,382.4 310.4,385.6 311.4,388.8 311.7,389.5 312.4,390.5 313.1,391.1 313.7,391.5 314.7,391.7 315.7,391.7 316.7,391.4 317.4,391.0"/>
<polyline fill="none" stroke="#ae346d" stroke-width="0.7" stroke-linejoin="round" points="172.6,451.9 181.3,451.9 183.3,451.8 184.3,451.4 184.9,451.0 185.6,450.1 185.9,449.5 186.6,447.7 186.9,446.5 187.9,441.2 188.9,433.3 190.6,417.0 191.3,411.4 192.0,407.6 192.3,406.6 192.6,406.2 193.0,406.5 193.3,407.4 194.0,411.1 194.6,416.5 196.6,435.7 197.3,440.8 198.0,444.7 198.6,447.5 199.3,449.4 199.6,450.0 200.3,450.9 201.3,451.6 202.3,451.8 204.3,451.9 227.3,451.9 229.7,451.8 230.7,451.7 231.7,451.2 232.3,450.8 234.3,449.1 235.0,448.7 235.3,448.7 235.7,448.7 236.3,449.0 238.3,450.8 239.0,451.2 240.0,451.6 241.0,451.8 244.0,451.9 272.4,451.8 273.4,451.7 274.0,451.4 275.0,450.7 276.0,449.2 277.7,446.2 278.4,445.5 278.7,445.4 279.0,445.4 279.7,446.0 282.0,450.0 282.7,450.8 283.7,451.5 284.7,451.8 286.4,451.9 289.4,451.9 291.0,451.6 292.0,451.1 292.7,450.3 293.0,449.8 293.7,448.3 294.4,446.1 295.0,442.9 295.7,438.9 297.7,424.3 298.4,420.4 299.0,417.9 299.4,417.3 299.7,417.3 300.1,417.7 300.4,418.7 301.1,421.8 303.4,438.5 304.4,444.3 305.1,447.1 305.4,448.1 306.1,449.7 306.4,450.3 307.1,451.0 307.7,451.5 308.7,451.8 310.7,451.9 317.4,451.9"/>
<polyline fill="none" stroke="#be335d" stroke-width="0.7" stroke-linejoin="round" points="172.6,391.8 188.9,391.8 189.9,391.6 190.6,391.4 191.3,390.9 191.6,390.5 192.3,389.3 192.6,388.5 193.3,386.1 193.6,384.5 194.6,378.0 197.0,358.6 197.6,355.2 198.0,354.3 198.3,354.1 198.6,354.5 199.0,355.6 199.6,359.3 202.0,378.8 203.0,385.0 203.6,387.8 204.3,389.6 204.6,390.2 205.3,391.0 206.3,391.5 207.6,391.8 209.6,391.8 267.7,391.8 269.0,391.7 270.0,391.5 271.0,391.1 273.0,390.2 274.0,390.0 275.0,390.2 277.7,391.4 279.4,391.7 295.4,391.8 297.0,391.7 298.0,391.6 299.0,391.2 299.7,390.6 300.1,390.1 300.7,388.9 301.4,387.0 302.1,384.3 302.7,380.9 305.1,366.6 305.7,363.9 306.1,363.2 306.4,362.8 306.7,362.9 307.1,363.5 307.7,365.8 308.4,369.3 310.4,381.8 311.1,385.0 312.1,388.4 312.4,389.2 313.1,390.4 313.4,390.7 314.1,391.3 314.7,391.5 315.7,391.6 316.7,391.4 317.4,391.0"/>
<polyline fill="none" stroke="#be335d" stroke-width="0.7" stroke-linejoin="round" points="172.6,451.9 182.3,451.9 184.3,451.7 185.3,451.4 185.9,450.9 186.6,450.0 186.9,449.3 187.6,447.4 187.9,446.1 188.9,440.5 189.9,432.3 191.6,416.0 192.3,410.7 193.0,407.2 193.3,406.3 193.6,406.1 194.0,406.6 194.3,407.7 195.0,411.7 195.6,417.4 197.3,433.7 198.0,439.1 198.6,443.5 199.3,446.7 199.6,447.9 200.3,449.6 200.6,450.2 201.3,451.0 202.3,451.6 203.3,451.8 205.3,451.9 227.3,451.9 229.7,451.8 230.7,451.7 231.7,451.2 232.3,450.8 234.3,449.1 235.0,448.7 235.3,448.7 235.7,448.7 236.3,449.0 238.3,450.8 239.0,451.2 240.0,451.6 241.0,451.8 244.0,451.9 272.4,451.8 273.4,451.7 274.0,451.4 275.0,450.7 276.0,449.2 277.7,446.2 278.4,445.5 278.7,445.4 279.0,445.4 279.7,446.0 282.0,450.0 282.7,450.8 283.7,451.5 284.7,451.8 286.7,451.9 290.4,451.9 292.0,451.6 293.0,451.0 293.7,450.3 294.0,449.7 294.7,448.1 295.4,445.8 296.0,442.6 296.7,438.5 299.0,421.7 299.7,418.5 300.1,417.5 300.4,417.1 300.7,417.1 301.1,417.6 301.7,420.1 302.4,424.0 304.1,436.4 305.1,442.8 306.1,447.2 306.4,448.2 307.1,449.8 307.4,450.3 308.1,451.1 308.7,451.5 309.4,451.7 311.4,451.9 317.4,451.9"/>
<polyline fill="none" stroke="#ce314e" stroke-width="0.7" stroke-linejoin="round" points="172.6,391.8 189.6,391.8 190.6,391.6 191.3,391.4 192.0,390.9 192.3,390.6 193.0,389.4 193.6,387.6 194.6,382.9 195.6,375.6 197.6,358.6 198.3,354.9 198.6,353.9 199.0,353.6 199.3,353.9 199.6,354.8 200.3,358.4 202.6,378.2 203.6,384.6 204.3,387.5 205.0,389.4 205.3,390.0 206.0,390.9 206.3,391.2 207.0,391.5 208.3,391.8 210.3,391.8 267.7,391.8 269.0,391.7 270.0,391.5 271.0,391.1 273.0,390.2 274.0,390.0 275.0,390.2 277.7,391.4 278.7,391.7 279.7,391.8 296.4,391.8 298.0,391.7 299.0,391.5 300.1,391.0 300.7,390.3 301.4,389.2 302.1,387.5 302.7,385.0 303.4,381.7 305.4,369.3 306.1,365.9 306.7,363.6 307.1,363.1 307.4,363.0 307.7,363.4 308.1,364.2 308.7,366.9 311.4,382.8 312.1,385.9 312.7,388.1 313.1,388.9 313.7,390.2 314.1,390.6 314.7,391.2 315.4,391.4 316.1,391.5 316.7,391.4 317.4,391.0"/>
<polyline fill="none" stroke="#ce314e" stroke-width="0.7" stroke-linejoin="round" points="172.6,451.9 182.9,451.9 184.9,451.8 185.9,451.5 186.6,451.1 187.3,450.3 187.6,449.8 188.3,448.1 188.6,447.0 189.6,442.0 190.6,434.4 193.0,412.3 193.6,408.0 194.0,406.7 194.3,406.1 194.6,406.1 195.0,406.8 195.6,410.0 196.3,415.1 198.3,434.5 199.0,439.8 199.6,444.0 200.3,447.0 200.6,448.2 201.3,449.8 201.6,450.3 202.3,451.1 203.3,451.6 204.3,451.8 206.3,451.9 227.3,451.9 229.7,451.8 230.7,451.7 231.7,451.2 232.3,450.8 234.3,449.1 235.0,448.7 235.3,448.7 235.7,448.7 236.3,449.0 238.3,450.8 239.0,451.2 240.0,451.6 241.0,451.8 244.0,451.9 272.4,451.8 273.4,451.7 274.0,451.4 275.0,450.7 276.0,449.2 277.7,446.2 278.4,445.5 278.7,445.4 279.0,445.4 279.7,446.0 282.0,450.0 282.7,450.8 283.7,451.5 284.7,451.8 286.7,451.9 291.4,451.9 292.4,451.7 293.0,451.6 294.0,451.0 294.7,450.2 295.0,449.6 295.7,448.0 296.4,445.6 297.0,442.3 297.7,438.1 300.1,421.2 300.7,418.1 301.1,417.2 301.4,416.8 301.7,416.9 302.1,417.5 302.7,420.1 303.4,424.2 305.7,441.1 306.7,446.1 307.1,447.3 307.7,449.2 308.1,449.8 308.7,450.8 309.4,451.3 310.1,451.6 311.1,451.8 312.1,451.9 317.4,451.9"/>
<polyline fill="none" stroke="#de303e" stroke-width="0.7" stroke-linejoin="round" points="172.6,391.8 190.6,391.7 191.6,391.5 192.3,391.2 193.0,390.6 193.3,390.2 194.0,388.7 194.3,387.7 195.3,383.1 196.3,376.0 198.3,358.6 199.0,354.7 199.3,353.6 199.6,353.1 200.0,353.3 200.3,354.1 201.0,357.6 201.6,362.7 203.3,377.5 204.0,382.2 204.6,385.8 205.3,388.3 206.0,389.9 206.6,390.8 207.0,391.1 207.6,391.5 209.0,391.7 211.0,391.8 267.7,391.8 269.0,391.7 270.0,391.5 271.0,391.1 273.0,390.2 274.0,390.0 275.0,390.2 277.7,391.4 278.7,391.7 279.7,391.8 297.0,391.8 298.7,391.7 299.7,391.6 300.7,391.1 301.4,390.5 301.7,390.1 302.4,388.8 303.1,386.9 303.7,384.2 304.4,380.7 306.7,366.7 307.4,364.2 307.7,363.5 308.1,363.2 308.4,363.4 308.7,364.0 309.4,366.4 310.1,369.9 312.1,382.2 312.7,385.3 313.4,387.7 314.1,389.4 314.4,390.0 315.1,390.8 315.7,391.2 316.4,391.3 317.1,391.2 317.4,390.9"/>
<polyline fill="none" stroke="#de303e" stroke-width="0.7" stroke-linejoin="round" points="172.6,451.9 183.6,451.9 185.9,451.8 186.9,451.5 187.6,451.0 188.3,450.2 188.6,449.6 189.3,447.8 189.6,446.6 190.6,441.4 191.6,433.5 193.3,417.2 194.0,411.5 194.6,407.5 195.0,406.4 195.3,405.9 195.6,406.1 196.0,407.0 196.6,410.5 197.3,415.9 199.3,435.3 200.0,440.5 200.6,444.5 201.3,447.4 202.0,449.3 202.3,450.0 203.0,450.9 204.0,451.5 205.0,451.8 207.0,451.9 227.3,451.9 229.7,451.8 230.7,451.7 231.7,451.2 232.3,450.8 234.3,449.1 235.0,448.7 235.3,448.7 235.7,448.7 236.3,449.0 238.3,450.8 239.0,451.2 240.0,451.6 241.0,451.8 244.0,451.9 272.4,451.8 273.4,451.7 274.0,451.4 275.0,450.7 276.0,449.2 277.7,446.2 278.4,445.5 278.7,445.4 279.0,445.4 279.7,446.0 282.0,450.0 282.7,450.8 283.7,451.5 285.0,451.8 287.0,451.9 292.0,451.9 293.0,451.8 294.0,451.6 295.0,450.9 295.7,450.1 296.0,449.5 296.7,447.8 297.4,445.3 298.0,441.9 298.7,437.7 300.4,425.1 301.1,420.7 301.7,417.7 302.1,416.8 302.4,416.5 302.7,416.7 303.1,417.4 303.7,420.1 304.4,424.3 306.1,436.9 306.7,441.3 307.7,446.3 308.1,447.5 308.7,449.3 309.1,449.9 309.7,450.8 310.4,451.3 311.1,451.6 312.7,451.9 317.4,451.9"/>
<text x="205.00" y="362.20" font-size="11.5" text-anchor="start" font-weight="normal" font-style="normal" fill="#1c1c1c" font-family="Liberation Sans, Arial, sans-serif" stroke="#1c1c1c" stroke-width="0.28">tb1</text>
<text x="283.30" y="358.80" font-size="11.5" text-anchor="start" font-weight="normal" font-style="normal" fill="#1c1c1c" font-family="Liberation Sans, Arial, sans-serif" stroke="#1c1c1c" stroke-width="0.28">tb2</text>
<polyline fill="none" stroke="#7a1a50" stroke-width="0.9" stroke-linejoin="round" points="228.5,451.9 230.1,451.8 231.3,451.4 232.3,450.8 234.2,449.1 234.9,448.8 235.2,448.7 235.8,448.8 236.5,449.1 238.4,450.8 239.4,451.4 240.6,451.8 242.2,451.9"/>
<polyline fill="none" stroke="#7a1a50" stroke-width="0.9" stroke-linejoin="round" points="271.9,451.9 273.5,451.7 274.1,451.4 274.8,450.9 275.7,449.7 277.3,446.8 278.0,445.9 278.6,445.4 278.9,445.4 279.2,445.6 279.9,446.2 281.8,449.6 282.8,450.9 283.7,451.5 285.0,451.8"/>
<text x="201.00" y="418.50" font-size="11.5" text-anchor="start" font-weight="normal" font-style="normal" fill="#1c1c1c" font-family="Liberation Sans, Arial, sans-serif" stroke="#1c1c1c" stroke-width="0.28">c1</text>
<text x="291.40" y="416.00" font-size="11.5" text-anchor="start" font-weight="normal" font-style="normal" fill="#1c1c1c" font-family="Liberation Sans, Arial, sans-serif" stroke="#1c1c1c" stroke-width="0.28">c2</text>
<text x="166.80" y="400.30" font-size="8.5" text-anchor="middle" font-weight="normal" font-style="normal" fill="#1c1c1c" font-family="Liberation Sans, Arial, sans-serif" transform="rotate(-90 166.80 400.30)" stroke="#1c1c1c" stroke-width="0.28">Norm. Absorbance</text>
<text x="244.00" y="480.70" font-size="8.5" text-anchor="middle" font-weight="normal" font-style="normal" fill="#1c1c1c" font-family="Liberation Sans, Arial, sans-serif" stroke="#1c1c1c" stroke-width="0.28">Wavenumber / cm<tspan dy="-3.2" font-size="5.2">-1</tspan></text>
<rect x="380.60" y="343.10" width="55.60" height="49.70" fill="none" stroke="#6a6a6a" stroke-width="0.95"/>
<line x1="379.10" y1="392.80" x2="380.60" y2="392.80" stroke="#6a6a6a" stroke-width="0.9"/>
<text x="376.80" y="395.81" font-size="8.4" text-anchor="end" font-weight="normal" font-style="normal" fill="#1c1c1c" font-family="Liberation Sans, Arial, sans-serif" stroke="#1c1c1c" stroke-width="0.28">1085</text>
<line x1="379.10" y1="380.38" x2="380.60" y2="380.38" stroke="#6a6a6a" stroke-width="0.9"/>
<text x="376.80" y="383.38" font-size="8.4" text-anchor="end" font-weight="normal" font-style="normal" fill="#1c1c1c" font-family="Liberation Sans, Arial, sans-serif" stroke="#1c1c1c" stroke-width="0.28">1090</text>
<line x1="379.10" y1="367.95" x2="380.60" y2="367.95" stroke="#6a6a6a" stroke-width="0.9"/>
<text x="376.80" y="370.96" font-size="8.4" text-anchor="end" font-weight="normal" font-style="normal" fill="#1c1c1c" font-family="Liberation Sans, Arial, sans-serif" stroke="#1c1c1c" stroke-width="0.28">1095</text>
<line x1="379.10" y1="355.53" x2="380.60" y2="355.53" stroke="#6a6a6a" stroke-width="0.9"/>
<text x="376.80" y="358.53" font-size="8.4" text-anchor="end" font-weight="normal" font-style="normal" fill="#1c1c1c" font-family="Liberation Sans, Arial, sans-serif" stroke="#1c1c1c" stroke-width="0.28">1100</text>
<line x1="379.10" y1="343.10" x2="380.60" y2="343.10" stroke="#6a6a6a" stroke-width="0.9"/>
<text x="376.80" y="346.11" font-size="8.4" text-anchor="end" font-weight="normal" font-style="normal" fill="#1c1c1c" font-family="Liberation Sans, Arial, sans-serif" stroke="#1c1c1c" stroke-width="0.28">1105</text>
<line x1="379.70" y1="386.59" x2="380.60" y2="386.59" stroke="#6a6a6a" stroke-width="0.9"/>
<line x1="379.70" y1="374.16" x2="380.60" y2="374.16" stroke="#6a6a6a" stroke-width="0.9"/>
<line x1="379.70" y1="361.74" x2="380.60" y2="361.74" stroke="#6a6a6a" stroke-width="0.9"/>
<line x1="379.70" y1="349.31" x2="380.60" y2="349.31" stroke="#6a6a6a" stroke-width="0.9"/>
<line x1="388.94" y1="392.80" x2="388.94" y2="394.30" stroke="#6a6a6a" stroke-width="0.9"/>
<text x="388.04" y="401.20" font-size="8.4" text-anchor="middle" font-weight="normal" font-style="normal" fill="#1c1c1c" font-family="Liberation Sans, Arial, sans-serif" stroke="#1c1c1c" stroke-width="0.28">-30</text>
<line x1="402.84" y1="392.80" x2="402.84" y2="394.30" stroke="#6a6a6a" stroke-width="0.9"/>
<text x="401.94" y="401.20" font-size="8.4" text-anchor="middle" font-weight="normal" font-style="normal" fill="#1c1c1c" font-family="Liberation Sans, Arial, sans-serif" stroke="#1c1c1c" stroke-width="0.28">-20</text>
<line x1="416.74" y1="392.80" x2="416.74" y2="394.30" stroke="#6a6a6a" stroke-width="0.9"/>
<text x="415.84" y="401.20" font-size="8.4" text-anchor="middle" font-weight="normal" font-style="normal" fill="#1c1c1c" font-family="Liberation Sans, Arial, sans-serif" stroke="#1c1c1c" stroke-width="0.28">-10</text>
<line x1="430.64" y1="392.80" x2="430.64" y2="394.30" stroke="#6a6a6a" stroke-width="0.9"/>
<text x="430.64" y="401.20" font-size="8.4" text-anchor="middle" font-weight="normal" font-style="normal" fill="#1c1c1c" font-family="Liberation Sans, Arial, sans-serif" stroke="#1c1c1c" stroke-width="0.28">0</text>
<line x1="395.89" y1="392.80" x2="395.89" y2="393.70" stroke="#6a6a6a" stroke-width="0.9"/>
<line x1="409.79" y1="392.80" x2="409.79" y2="393.70" stroke="#6a6a6a" stroke-width="0.9"/>
<line x1="423.69" y1="392.80" x2="423.69" y2="393.70" stroke="#6a6a6a" stroke-width="0.9"/>
<line x1="387.55" y1="377.89" x2="430.64" y2="354.28" stroke="#505050" stroke-width="0.75"/>
<circle cx="387.55" cy="377.89" r="2.8" fill="#b0141f" stroke="#600a12" stroke-width="0.6"/>
<circle cx="394.50" cy="374.08" r="2.8" fill="#9c1428" stroke="#560a16" stroke-width="0.6"/>
<circle cx="401.45" cy="370.27" r="2.8" fill="#701232" stroke="#3e0a1c" stroke-width="0.6"/>
<circle cx="409.79" cy="365.71" r="2.8" fill="#501244" stroke="#2c0a28" stroke-width="0.6"/>
<circle cx="416.74" cy="361.90" r="2.8" fill="#3a1256" stroke="#200a32" stroke-width="0.6"/>
<circle cx="423.69" cy="358.09" r="2.8" fill="#24106c" stroke="#140a40" stroke-width="0.6"/>
<circle cx="430.64" cy="354.28" r="2.8" fill="#1c18b8" stroke="#0e0c6c" stroke-width="0.6"/>
<text x="385.00" y="354.50" font-size="10.3" text-anchor="start" font-weight="normal" font-style="normal" fill="#1c1c1c" font-family="Liberation Sans, Arial, sans-serif" stroke="#1c1c1c" stroke-width="0.28">tb1</text>
<text x="406.60" y="381.40" font-size="8.4" font-weight="bold" font-style="normal" fill="#1a1a1a" stroke="#1a1a1a" stroke-width="0.3" font-family="Liberation Serif, serif" text-anchor="start" textLength="13.60" lengthAdjust="spacingAndGlyphs"><tspan fill="#888" stroke="none" font-weight="normal">|</tspan>Δ<tspan font-style="italic">μ</tspan><tspan fill="#888" stroke="none" font-weight="normal">|</tspan></text>
<path d="M412.80 375.00H416.36" stroke="#444" stroke-width="0.55" fill="none"/>
<path d="M417.20 375.00L415.80 374.10L415.80 375.90Z" fill="#444"/>
<text x="420.90" y="382.40" font-size="5.9" font-weight="bold" font-style="italic" fill="#1a1a1a" stroke="#1a1a1a" stroke-width="0.25" font-family="Liberation Serif, serif" text-anchor="start" textLength="12.00" lengthAdjust="spacingAndGlyphs">DFT</text>
<text x="406.80" y="389.80" font-size="8.4" font-weight="bold" font-style="normal" fill="#1a1a1a" stroke="#1a1a1a" stroke-width="0.3" font-family="Liberation Serif, serif" text-anchor="start" textLength="24.90" lengthAdjust="spacingAndGlyphs"><tspan fill="#777" stroke="#777">=</tspan> 0. 26</text>
<rect x="459.80" y="343.10" width="56.80" height="50.30" fill="none" stroke="#6a6a6a" stroke-width="0.95"/>
<line x1="458.30" y1="393.40" x2="459.80" y2="393.40" stroke="#6a6a6a" stroke-width="0.9"/>
<text x="456.50" y="396.41" font-size="8.4" text-anchor="end" font-weight="normal" font-style="normal" fill="#1c1c1c" font-family="Liberation Sans, Arial, sans-serif" stroke="#1c1c1c" stroke-width="0.28">930</text>
<line x1="458.30" y1="380.82" x2="459.80" y2="380.82" stroke="#6a6a6a" stroke-width="0.9"/>
<text x="456.50" y="383.83" font-size="8.4" text-anchor="end" font-weight="normal" font-style="normal" fill="#1c1c1c" font-family="Liberation Sans, Arial, sans-serif" stroke="#1c1c1c" stroke-width="0.28">935</text>
<line x1="458.30" y1="368.25" x2="459.80" y2="368.25" stroke="#6a6a6a" stroke-width="0.9"/>
<text x="456.50" y="371.26" font-size="8.4" text-anchor="end" font-weight="normal" font-style="normal" fill="#1c1c1c" font-family="Liberation Sans, Arial, sans-serif" stroke="#1c1c1c" stroke-width="0.28">940</text>
<line x1="458.30" y1="355.68" x2="459.80" y2="355.68" stroke="#6a6a6a" stroke-width="0.9"/>
<text x="456.50" y="358.68" font-size="8.4" text-anchor="end" font-weight="normal" font-style="normal" fill="#1c1c1c" font-family="Liberation Sans, Arial, sans-serif" stroke="#1c1c1c" stroke-width="0.28">945</text>
<line x1="458.30" y1="343.10" x2="459.80" y2="343.10" stroke="#6a6a6a" stroke-width="0.9"/>
<text x="456.50" y="346.11" font-size="8.4" text-anchor="end" font-weight="normal" font-style="normal" fill="#1c1c1c" font-family="Liberation Sans, Arial, sans-serif" stroke="#1c1c1c" stroke-width="0.28">950</text>
<line x1="458.90" y1="387.11" x2="459.80" y2="387.11" stroke="#6a6a6a" stroke-width="0.9"/>
<line x1="458.90" y1="374.54" x2="459.80" y2="374.54" stroke="#6a6a6a" stroke-width="0.9"/>
<line x1="458.90" y1="361.96" x2="459.80" y2="361.96" stroke="#6a6a6a" stroke-width="0.9"/>
<line x1="458.90" y1="349.39" x2="459.80" y2="349.39" stroke="#6a6a6a" stroke-width="0.9"/>
<line x1="467.08" y1="393.40" x2="467.08" y2="394.90" stroke="#6a6a6a" stroke-width="0.9"/>
<text x="466.18" y="401.20" font-size="8.4" text-anchor="middle" font-weight="normal" font-style="normal" fill="#1c1c1c" font-family="Liberation Sans, Arial, sans-serif" stroke="#1c1c1c" stroke-width="0.28">-30</text>
<line x1="481.65" y1="393.40" x2="481.65" y2="394.90" stroke="#6a6a6a" stroke-width="0.9"/>
<text x="480.75" y="401.20" font-size="8.4" text-anchor="middle" font-weight="normal" font-style="normal" fill="#1c1c1c" font-family="Liberation Sans, Arial, sans-serif" stroke="#1c1c1c" stroke-width="0.28">-20</text>
<line x1="496.21" y1="393.40" x2="496.21" y2="394.90" stroke="#6a6a6a" stroke-width="0.9"/>
<text x="495.31" y="401.20" font-size="8.4" text-anchor="middle" font-weight="normal" font-style="normal" fill="#1c1c1c" font-family="Liberation Sans, Arial, sans-serif" stroke="#1c1c1c" stroke-width="0.28">-10</text>
<line x1="510.77" y1="393.40" x2="510.77" y2="394.90" stroke="#6a6a6a" stroke-width="0.9"/>
<text x="510.77" y="401.20" font-size="8.4" text-anchor="middle" font-weight="normal" font-style="normal" fill="#1c1c1c" font-family="Liberation Sans, Arial, sans-serif" stroke="#1c1c1c" stroke-width="0.28">0</text>
<line x1="474.36" y1="393.40" x2="474.36" y2="394.30" stroke="#6a6a6a" stroke-width="0.9"/>
<line x1="488.93" y1="393.40" x2="488.93" y2="394.30" stroke="#6a6a6a" stroke-width="0.9"/>
<line x1="503.49" y1="393.40" x2="503.49" y2="394.30" stroke="#6a6a6a" stroke-width="0.9"/>
<line x1="465.63" y1="388.37" x2="510.77" y2="354.92" stroke="#505050" stroke-width="0.75"/>
<circle cx="465.63" cy="388.37" r="2.8" fill="#b0141f" stroke="#600a12" stroke-width="0.6"/>
<circle cx="472.91" cy="382.97" r="2.8" fill="#9c1428" stroke="#560a16" stroke-width="0.6"/>
<circle cx="480.19" cy="377.58" r="2.8" fill="#701232" stroke="#3e0a1c" stroke-width="0.6"/>
<circle cx="488.93" cy="371.11" r="2.8" fill="#501244" stroke="#2c0a28" stroke-width="0.6"/>
<circle cx="496.21" cy="365.71" r="2.8" fill="#3a1256" stroke="#200a32" stroke-width="0.6"/>
<circle cx="503.49" cy="360.32" r="2.8" fill="#24106c" stroke="#140a40" stroke-width="0.6"/>
<circle cx="510.77" cy="354.92" r="2.8" fill="#1c18b8" stroke="#0e0c6c" stroke-width="0.6"/>
<text x="464.20" y="354.50" font-size="10.3" text-anchor="start" font-weight="normal" font-style="normal" fill="#1c1c1c" font-family="Liberation Sans, Arial, sans-serif" stroke="#1c1c1c" stroke-width="0.28">tb2</text>
<text x="487.00" y="382.00" font-size="8.4" font-weight="bold" font-style="normal" fill="#1a1a1a" stroke="#1a1a1a" stroke-width="0.3" font-family="Liberation Serif, serif" text-anchor="start" textLength="13.60" lengthAdjust="spacingAndGlyphs"><tspan fill="#888" stroke="none" font-weight="normal">|</tspan>Δ<tspan font-style="italic">μ</tspan><tspan fill="#888" stroke="none" font-weight="normal">|</tspan></text>
<path d="M493.20 375.60H496.76" stroke="#444" stroke-width="0.55" fill="none"/>
<path d="M497.60 375.60L496.20 374.70L496.20 376.50Z" fill="#444"/>
<text x="501.30" y="383.00" font-size="5.9" font-weight="bold" font-style="italic" fill="#1a1a1a" stroke="#1a1a1a" stroke-width="0.25" font-family="Liberation Serif, serif" text-anchor="start" textLength="12.00" lengthAdjust="spacingAndGlyphs">DFT</text>
<text x="487.20" y="390.40" font-size="8.4" font-weight="bold" font-style="normal" fill="#1a1a1a" stroke="#1a1a1a" stroke-width="0.3" font-family="Liberation Serif, serif" text-anchor="start" textLength="24.90" lengthAdjust="spacingAndGlyphs"><tspan fill="#777" stroke="#777">=</tspan> 0. 41</text>
<rect x="380.60" y="408.70" width="55.90" height="49.10" fill="none" stroke="#6a6a6a" stroke-width="0.95"/>
<line x1="379.10" y1="457.80" x2="380.60" y2="457.80" stroke="#6a6a6a" stroke-width="0.9"/>
<text x="377.30" y="460.81" font-size="8.4" text-anchor="end" font-weight="normal" font-style="normal" fill="#1c1c1c" font-family="Liberation Sans, Arial, sans-serif" stroke="#1c1c1c" stroke-width="0.28">1080</text>
<line x1="379.10" y1="445.52" x2="380.60" y2="445.52" stroke="#6a6a6a" stroke-width="0.9"/>
<text x="377.30" y="448.53" font-size="8.4" text-anchor="end" font-weight="normal" font-style="normal" fill="#1c1c1c" font-family="Liberation Sans, Arial, sans-serif" stroke="#1c1c1c" stroke-width="0.28">1090</text>
<line x1="379.10" y1="433.25" x2="380.60" y2="433.25" stroke="#6a6a6a" stroke-width="0.9"/>
<text x="377.30" y="436.26" font-size="8.4" text-anchor="end" font-weight="normal" font-style="normal" fill="#1c1c1c" font-family="Liberation Sans, Arial, sans-serif" stroke="#1c1c1c" stroke-width="0.28">1100</text>
<line x1="379.10" y1="420.98" x2="380.60" y2="420.98" stroke="#6a6a6a" stroke-width="0.9"/>
<text x="377.30" y="423.98" font-size="8.4" text-anchor="end" font-weight="normal" font-style="normal" fill="#1c1c1c" font-family="Liberation Sans, Arial, sans-serif" stroke="#1c1c1c" stroke-width="0.28">1110</text>
<line x1="379.10" y1="408.70" x2="380.60" y2="408.70" stroke="#6a6a6a" stroke-width="0.9"/>
<text x="377.30" y="411.71" font-size="8.4" text-anchor="end" font-weight="normal" font-style="normal" fill="#1c1c1c" font-family="Liberation Sans, Arial, sans-serif" stroke="#1c1c1c" stroke-width="0.28">1120</text>
<line x1="379.70" y1="451.66" x2="380.60" y2="451.66" stroke="#6a6a6a" stroke-width="0.9"/>
<line x1="379.70" y1="439.39" x2="380.60" y2="439.39" stroke="#6a6a6a" stroke-width="0.9"/>
<line x1="379.70" y1="427.11" x2="380.60" y2="427.11" stroke="#6a6a6a" stroke-width="0.9"/>
<line x1="379.70" y1="414.84" x2="380.60" y2="414.84" stroke="#6a6a6a" stroke-width="0.9"/>
<line x1="388.99" y1="457.80" x2="388.99" y2="459.30" stroke="#6a6a6a" stroke-width="0.9"/>
<text x="388.09" y="468.20" font-size="8.4" text-anchor="middle" font-weight="normal" font-style="normal" fill="#1c1c1c" font-family="Liberation Sans, Arial, sans-serif" stroke="#1c1c1c" stroke-width="0.28">-30</text>
<line x1="402.96" y1="457.80" x2="402.96" y2="459.30" stroke="#6a6a6a" stroke-width="0.9"/>
<text x="402.06" y="468.20" font-size="8.4" text-anchor="middle" font-weight="normal" font-style="normal" fill="#1c1c1c" font-family="Liberation Sans, Arial, sans-serif" stroke="#1c1c1c" stroke-width="0.28">-20</text>
<line x1="416.94" y1="457.80" x2="416.94" y2="459.30" stroke="#6a6a6a" stroke-width="0.9"/>
<text x="416.04" y="468.20" font-size="8.4" text-anchor="middle" font-weight="normal" font-style="normal" fill="#1c1c1c" font-family="Liberation Sans, Arial, sans-serif" stroke="#1c1c1c" stroke-width="0.28">-10</text>
<line x1="430.91" y1="457.80" x2="430.91" y2="459.30" stroke="#6a6a6a" stroke-width="0.9"/>
<text x="430.91" y="468.20" font-size="8.4" text-anchor="middle" font-weight="normal" font-style="normal" fill="#1c1c1c" font-family="Liberation Sans, Arial, sans-serif" stroke="#1c1c1c" stroke-width="0.28">0</text>
<line x1="395.97" y1="457.80" x2="395.97" y2="458.70" stroke="#6a6a6a" stroke-width="0.9"/>
<line x1="409.95" y1="457.80" x2="409.95" y2="458.70" stroke="#6a6a6a" stroke-width="0.9"/>
<line x1="423.92" y1="457.80" x2="423.92" y2="458.70" stroke="#6a6a6a" stroke-width="0.9"/>
<line x1="387.59" y1="449.82" x2="430.91" y2="420.73" stroke="#505050" stroke-width="0.75"/>
<circle cx="387.59" cy="449.82" r="2.8" fill="#b0141f" stroke="#600a12" stroke-width="0.6"/>
<circle cx="394.58" cy="445.13" r="2.8" fill="#9c1428" stroke="#560a16" stroke-width="0.6"/>
<circle cx="401.56" cy="440.44" r="2.8" fill="#701232" stroke="#3e0a1c" stroke-width="0.6"/>
<circle cx="409.95" cy="434.81" r="2.8" fill="#501244" stroke="#2c0a28" stroke-width="0.6"/>
<circle cx="416.94" cy="430.11" r="2.8" fill="#3a1256" stroke="#200a32" stroke-width="0.6"/>
<circle cx="423.92" cy="425.42" r="2.8" fill="#24106c" stroke="#140a40" stroke-width="0.6"/>
<circle cx="430.91" cy="420.73" r="2.8" fill="#1c18b8" stroke="#0e0c6c" stroke-width="0.6"/>
<text x="385.00" y="420.10" font-size="10.3" text-anchor="start" font-weight="normal" font-style="normal" fill="#1c1c1c" font-family="Liberation Sans, Arial, sans-serif" stroke="#1c1c1c" stroke-width="0.28">c1</text>
<text x="406.90" y="446.40" font-size="8.4" font-weight="bold" font-style="normal" fill="#1a1a1a" stroke="#1a1a1a" stroke-width="0.3" font-family="Liberation Serif, serif" text-anchor="start" textLength="13.60" lengthAdjust="spacingAndGlyphs"><tspan fill="#888" stroke="none" font-weight="normal">|</tspan>Δ<tspan font-style="italic">μ</tspan><tspan fill="#888" stroke="none" font-weight="normal">|</tspan></text>
<path d="M413.10 440.00H416.66" stroke="#444" stroke-width="0.55" fill="none"/>
<path d="M417.50 440.00L416.10 439.10L416.10 440.90Z" fill="#444"/>
<text x="421.20" y="447.40" font-size="5.9" font-weight="bold" font-style="italic" fill="#1a1a1a" stroke="#1a1a1a" stroke-width="0.25" font-family="Liberation Serif, serif" text-anchor="start" textLength="12.00" lengthAdjust="spacingAndGlyphs">DFT</text>
<text x="407.10" y="454.80" font-size="8.4" font-weight="bold" font-style="normal" fill="#1a1a1a" stroke="#1a1a1a" stroke-width="0.3" font-family="Liberation Serif, serif" text-anchor="start" textLength="24.90" lengthAdjust="spacingAndGlyphs"><tspan fill="#777" stroke="#777">=</tspan> 0. 75</text>
<rect x="460.50" y="407.30" width="57.00" height="51.50" fill="none" stroke="#6a6a6a" stroke-width="0.95"/>
<line x1="459.00" y1="458.80" x2="460.50" y2="458.80" stroke="#6a6a6a" stroke-width="0.9"/>
<text x="456.50" y="461.81" font-size="8.4" text-anchor="end" font-weight="normal" font-style="normal" fill="#1c1c1c" font-family="Liberation Sans, Arial, sans-serif" stroke="#1c1c1c" stroke-width="0.28">940</text>
<line x1="459.00" y1="445.93" x2="460.50" y2="445.93" stroke="#6a6a6a" stroke-width="0.9"/>
<text x="456.50" y="448.93" font-size="8.4" text-anchor="end" font-weight="normal" font-style="normal" fill="#1c1c1c" font-family="Liberation Sans, Arial, sans-serif" stroke="#1c1c1c" stroke-width="0.28">945</text>
<line x1="459.00" y1="433.05" x2="460.50" y2="433.05" stroke="#6a6a6a" stroke-width="0.9"/>
<text x="456.50" y="436.06" font-size="8.4" text-anchor="end" font-weight="normal" font-style="normal" fill="#1c1c1c" font-family="Liberation Sans, Arial, sans-serif" stroke="#1c1c1c" stroke-width="0.28">950</text>
<line x1="459.00" y1="420.18" x2="460.50" y2="420.18" stroke="#6a6a6a" stroke-width="0.9"/>
<text x="456.50" y="423.18" font-size="8.4" text-anchor="end" font-weight="normal" font-style="normal" fill="#1c1c1c" font-family="Liberation Sans, Arial, sans-serif" stroke="#1c1c1c" stroke-width="0.28">955</text>
<line x1="459.00" y1="407.30" x2="460.50" y2="407.30" stroke="#6a6a6a" stroke-width="0.9"/>
<text x="456.50" y="410.31" font-size="8.4" text-anchor="end" font-weight="normal" font-style="normal" fill="#1c1c1c" font-family="Liberation Sans, Arial, sans-serif" stroke="#1c1c1c" stroke-width="0.28">960</text>
<line x1="459.60" y1="452.36" x2="460.50" y2="452.36" stroke="#6a6a6a" stroke-width="0.9"/>
<line x1="459.60" y1="439.49" x2="460.50" y2="439.49" stroke="#6a6a6a" stroke-width="0.9"/>
<line x1="459.60" y1="426.61" x2="460.50" y2="426.61" stroke="#6a6a6a" stroke-width="0.9"/>
<line x1="459.60" y1="413.74" x2="460.50" y2="413.74" stroke="#6a6a6a" stroke-width="0.9"/>
<line x1="467.81" y1="458.80" x2="467.81" y2="460.30" stroke="#6a6a6a" stroke-width="0.9"/>
<text x="466.91" y="468.20" font-size="8.4" text-anchor="middle" font-weight="normal" font-style="normal" fill="#1c1c1c" font-family="Liberation Sans, Arial, sans-serif" stroke="#1c1c1c" stroke-width="0.28">-30</text>
<line x1="482.42" y1="458.80" x2="482.42" y2="460.30" stroke="#6a6a6a" stroke-width="0.9"/>
<text x="481.52" y="468.20" font-size="8.4" text-anchor="middle" font-weight="normal" font-style="normal" fill="#1c1c1c" font-family="Liberation Sans, Arial, sans-serif" stroke="#1c1c1c" stroke-width="0.28">-20</text>
<line x1="497.04" y1="458.80" x2="497.04" y2="460.30" stroke="#6a6a6a" stroke-width="0.9"/>
<text x="496.14" y="468.20" font-size="8.4" text-anchor="middle" font-weight="normal" font-style="normal" fill="#1c1c1c" font-family="Liberation Sans, Arial, sans-serif" stroke="#1c1c1c" stroke-width="0.28">-10</text>
<line x1="511.65" y1="458.80" x2="511.65" y2="460.30" stroke="#6a6a6a" stroke-width="0.9"/>
<text x="511.65" y="468.20" font-size="8.4" text-anchor="middle" font-weight="normal" font-style="normal" fill="#1c1c1c" font-family="Liberation Sans, Arial, sans-serif" stroke="#1c1c1c" stroke-width="0.28">0</text>
<line x1="475.12" y1="458.80" x2="475.12" y2="459.70" stroke="#6a6a6a" stroke-width="0.9"/>
<line x1="489.73" y1="458.80" x2="489.73" y2="459.70" stroke="#6a6a6a" stroke-width="0.9"/>
<line x1="504.35" y1="458.80" x2="504.35" y2="459.70" stroke="#6a6a6a" stroke-width="0.9"/>
<line x1="466.35" y1="455.45" x2="511.65" y2="417.60" stroke="#505050" stroke-width="0.75"/>
<circle cx="466.35" cy="455.45" r="2.8" fill="#b0141f" stroke="#600a12" stroke-width="0.6"/>
<circle cx="473.65" cy="449.35" r="2.8" fill="#9c1428" stroke="#560a16" stroke-width="0.6"/>
<circle cx="480.96" cy="443.24" r="2.8" fill="#701232" stroke="#3e0a1c" stroke-width="0.6"/>
<circle cx="489.73" cy="435.92" r="2.8" fill="#501244" stroke="#2c0a28" stroke-width="0.6"/>
<circle cx="497.04" cy="429.81" r="2.8" fill="#3a1256" stroke="#200a32" stroke-width="0.6"/>
<circle cx="504.35" cy="423.71" r="2.8" fill="#24106c" stroke="#140a40" stroke-width="0.6"/>
<circle cx="511.65" cy="417.60" r="2.8" fill="#1c18b8" stroke="#0e0c6c" stroke-width="0.6"/>
<text x="464.90" y="418.70" font-size="10.3" text-anchor="start" font-weight="normal" font-style="normal" fill="#1c1c1c" font-family="Liberation Sans, Arial, sans-serif" stroke="#1c1c1c" stroke-width="0.28">c2</text>
<text x="487.90" y="447.40" font-size="8.4" font-weight="bold" font-style="normal" fill="#1a1a1a" stroke="#1a1a1a" stroke-width="0.3" font-family="Liberation Serif, serif" text-anchor="start" textLength="13.60" lengthAdjust="spacingAndGlyphs"><tspan fill="#888" stroke="none" font-weight="normal">|</tspan>Δ<tspan font-style="italic">μ</tspan><tspan fill="#888" stroke="none" font-weight="normal">|</tspan></text>
<path d="M494.10 441.00H497.66" stroke="#444" stroke-width="0.55" fill="none"/>
<path d="M498.50 441.00L497.10 440.10L497.10 441.90Z" fill="#444"/>
<text x="502.20" y="448.40" font-size="5.9" font-weight="bold" font-style="italic" fill="#1a1a1a" stroke="#1a1a1a" stroke-width="0.25" font-family="Liberation Serif, serif" text-anchor="start" textLength="12.00" lengthAdjust="spacingAndGlyphs">DFT</text>
<text x="488.10" y="455.80" font-size="8.4" font-weight="bold" font-style="normal" fill="#1a1a1a" stroke="#1a1a1a" stroke-width="0.3" font-family="Liberation Serif, serif" text-anchor="start" textLength="24.90" lengthAdjust="spacingAndGlyphs"><tspan fill="#777" stroke="#777">=</tspan> 0. 42</text>
<text x="354.50" y="405.70" font-size="8.5" text-anchor="middle" font-weight="normal" font-style="normal" fill="#1c1c1c" font-family="Liberation Sans, Arial, sans-serif" transform="rotate(-90 354.50 405.70)" stroke="#1c1c1c" stroke-width="0.28">Wavenumber / cm<tspan dy="-3.2" font-size="5.2">-1</tspan></text>
<text x="440.60" y="479.60" font-size="8.5" text-anchor="middle" font-weight="normal" font-style="normal" fill="#1c1c1c" font-family="Liberation Sans, Arial, sans-serif" stroke="#1c1c1c" stroke-width="0.28">Electric Field (DFT) / MV·cm<tspan dy="-3.2" font-size="5.2">-1</tspan></text>
<text x="1.50" y="509.60" font-size="10.8" text-anchor="start" font-weight="bold" font-style="normal" fill="#111" font-family="Liberation Sans, Arial, sans-serif">d.1</text>
<text x="148.20" y="509.80" font-size="10.8" text-anchor="start" font-weight="bold" font-style="normal" fill="#111" font-family="Liberation Sans, Arial, sans-serif">d.2</text>
<text x="331.20" y="509.80" font-size="10.8" text-anchor="start" font-weight="bold" font-style="normal" fill="#111" font-family="Liberation Sans, Arial, sans-serif">d.3</text>
<rect x="172.80" y="506.80" width="145.80" height="116.70" fill="none" stroke="#6a6a6a" stroke-width="0.95"/>
<line x1="172.80" y1="623.50" x2="172.80" y2="625.30" stroke="#6a6a6a" stroke-width="0.9"/>
<text x="172.80" y="633.20" font-size="8.4" text-anchor="middle" font-weight="normal" font-style="normal" fill="#1c1c1c" font-family="Liberation Sans, Arial, sans-serif" stroke="#1c1c1c" stroke-width="0.28">1280</text>
<line x1="209.14" y1="623.50" x2="209.14" y2="625.30" stroke="#6a6a6a" stroke-width="0.9"/>
<text x="209.14" y="633.20" font-size="8.4" text-anchor="middle" font-weight="normal" font-style="normal" fill="#1c1c1c" font-family="Liberation Sans, Arial, sans-serif" stroke="#1c1c1c" stroke-width="0.28">1240</text>
<line x1="245.47" y1="623.50" x2="245.47" y2="625.30" stroke="#6a6a6a" stroke-width="0.9"/>
<text x="245.47" y="633.20" font-size="8.4" text-anchor="middle" font-weight="normal" font-style="normal" fill="#1c1c1c" font-family="Liberation Sans, Arial, sans-serif" stroke="#1c1c1c" stroke-width="0.28">1200</text>
<line x1="281.81" y1="623.50" x2="281.81" y2="625.30" stroke="#6a6a6a" stroke-width="0.9"/>
<text x="281.81" y="633.20" font-size="8.4" text-anchor="middle" font-weight="normal" font-style="normal" fill="#1c1c1c" font-family="Liberation Sans, Arial, sans-serif" stroke="#1c1c1c" stroke-width="0.28">1160</text>
<line x1="318.15" y1="623.50" x2="318.15" y2="625.30" stroke="#6a6a6a" stroke-width="0.9"/>
<text x="318.15" y="633.20" font-size="8.4" text-anchor="middle" font-weight="normal" font-style="normal" fill="#1c1c1c" font-family="Liberation Sans, Arial, sans-serif" stroke="#1c1c1c" stroke-width="0.28">1120</text>
<line x1="190.97" y1="623.50" x2="190.97" y2="624.58" stroke="#6a6a6a" stroke-width="0.9"/>
<line x1="227.30" y1="623.50" x2="227.30" y2="624.58" stroke="#6a6a6a" stroke-width="0.9"/>
<line x1="263.64" y1="623.50" x2="263.64" y2="624.58" stroke="#6a6a6a" stroke-width="0.9"/>
<line x1="299.98" y1="623.50" x2="299.98" y2="624.58" stroke="#6a6a6a" stroke-width="0.9"/>
<polyline fill="none" stroke="#3a3ad7" stroke-width="0.7" stroke-linejoin="round" points="172.8,548.2 175.8,556.7 176.8,558.8 177.5,559.8 178.1,560.5 178.8,561.0 179.8,561.5 180.8,561.6 182.1,561.7 183.1,561.5 184.1,561.2 184.8,560.7 185.5,560.0 186.1,558.8 186.8,557.2 187.8,553.5 188.5,550.1 189.1,546.0 191.8,527.3 192.5,524.1 192.8,522.9 193.2,522.2 193.5,521.8 193.8,521.9 194.2,522.4 194.5,523.2 195.2,526.0 195.8,530.0 198.2,546.3 199.2,551.6 199.8,554.0 200.2,554.8 200.5,555.4 200.8,555.8 201.2,556.0 201.5,555.9 201.8,555.7 202.5,554.9 204.2,551.7 204.8,550.6 205.5,549.9 205.8,549.8 206.2,549.8 206.8,550.3 207.5,551.4 209.8,556.9 210.5,558.3 211.2,559.4 212.2,560.6 212.8,561.1 213.5,561.4 214.8,561.7 217.5,561.8 234.9,561.8 237.2,561.7 238.5,561.5 239.9,561.1 240.9,560.6 241.9,559.6 242.5,558.8 243.2,557.7 244.2,555.8 246.5,550.1 247.5,548.0 248.5,546.6 249.2,546.1 249.5,546.1 249.9,546.2 250.5,546.7 251.5,548.2 254.9,556.0 256.2,558.5 256.9,559.4 257.5,560.1 258.2,560.7 258.9,561.0 259.5,561.3 260.5,561.6 263.2,561.8 279.2,561.8 280.9,561.7 282.2,561.6 283.2,561.3 283.9,560.8 284.9,559.7 285.9,557.7 286.6,555.6 287.2,552.9 287.9,549.5 290.9,530.7 291.6,527.7 291.9,526.7 292.2,526.0 292.6,525.6 292.9,525.7 293.2,526.1 293.6,526.8 294.2,529.4 294.9,532.9 296.9,546.0 297.9,551.6 298.6,554.6 299.2,556.9 299.9,558.6 300.6,559.8 301.3,560.6 301.9,561.1 302.9,561.5 303.9,561.7 306.6,561.8 318.6,561.8"/>
<polyline fill="none" stroke="#3a3ad7" stroke-width="0.7" stroke-linejoin="round" points="172.8,616.1 183.8,616.1 186.1,616.0 187.1,615.8 188.1,615.5 188.8,615.0 189.5,614.2 190.1,613.1 190.8,611.4 191.8,607.7 193.2,600.5 195.2,586.8 195.8,582.8 196.5,579.9 196.8,578.9 197.2,578.3 197.5,578.1 197.8,578.3 198.2,578.8 198.8,581.0 199.8,586.3 201.8,599.0 202.8,603.5 203.5,605.2 203.8,605.7 204.2,605.9 204.5,605.9 205.2,605.4 206.5,603.6 207.2,602.9 207.5,602.8 207.8,602.8 208.2,603.0 208.5,603.4 209.2,604.6 211.5,611.0 212.5,613.2 213.2,614.3 213.8,615.0 214.5,615.5 215.2,615.8 216.5,616.0 218.5,616.1 252.9,616.1 256.2,616.0 257.2,615.9 258.2,615.7 259.2,615.2 259.9,614.6 260.9,613.3 261.5,612.1 262.2,610.5 262.9,608.5 265.2,600.3 266.2,597.2 266.9,595.9 267.2,595.4 267.6,595.2 267.9,595.1 268.2,595.2 268.6,595.6 268.9,596.1 269.6,597.6 270.2,599.6 272.9,609.0 273.9,611.6 274.9,613.5 275.6,614.4 276.2,615.0 276.9,615.4 277.6,615.7 278.6,615.9 279.6,616.0 280.6,615.9 281.6,615.8 282.6,615.3 283.6,614.5 284.6,613.2 285.2,611.8 285.9,610.1 286.6,608.0 289.2,597.5 289.9,595.2 290.6,593.6 290.9,593.0 291.2,592.6 291.6,592.5 291.9,592.6 292.2,592.9 292.6,593.4 293.2,595.0 294.2,598.4 296.2,606.5 297.6,610.8 298.6,613.0 299.2,614.0 299.9,614.8 300.6,615.3 301.3,615.6 302.3,615.9 303.3,616.0 305.9,616.1 318.6,616.1"/>
<polyline fill="none" stroke="#4e38c4" stroke-width="0.7" stroke-linejoin="round" points="172.8,548.2 175.8,556.7 176.8,558.8 177.5,559.8 178.1,560.5 178.8,561.0 179.8,561.5 181.1,561.7 182.5,561.7 183.8,561.6 184.8,561.3 185.5,560.9 186.1,560.2 186.8,559.2 187.5,557.6 188.1,555.5 188.8,552.6 189.8,547.0 192.2,530.2 192.8,526.1 193.5,523.0 193.8,522.1 194.2,521.5 194.5,521.3 194.8,521.5 195.2,522.2 195.8,524.7 196.8,530.6 199.2,546.7 200.2,551.4 200.8,553.4 201.2,554.0 201.5,554.3 201.8,554.5 202.2,554.5 202.8,554.0 204.5,551.5 205.2,550.8 205.8,550.5 206.2,550.5 206.5,550.7 207.2,551.5 207.8,552.7 209.8,557.2 210.8,559.0 211.8,560.3 212.5,560.9 213.2,561.3 214.5,561.7 216.2,561.8 234.2,561.8 237.9,561.6 238.9,561.5 239.9,561.1 240.9,560.6 241.5,560.0 242.2,559.2 242.9,558.3 244.2,555.8 246.5,550.1 247.5,548.0 248.5,546.6 249.2,546.1 249.5,546.1 249.9,546.2 250.5,546.7 251.5,548.2 254.9,556.0 256.2,558.5 256.9,559.4 257.5,560.1 258.2,560.7 258.9,561.0 259.5,561.3 260.5,561.6 263.2,561.8 280.6,561.8 282.2,561.8 283.6,561.6 284.6,561.3 285.2,560.9 286.2,559.9 287.2,558.0 287.9,556.1 288.6,553.6 289.2,550.5 291.6,536.7 292.6,531.6 293.2,529.3 293.6,528.6 293.9,528.3 294.2,528.3 294.6,528.6 294.9,529.3 295.2,530.3 295.9,533.1 298.6,548.6 299.6,553.3 300.6,556.7 301.3,558.3 301.9,559.4 302.6,560.1 303.6,560.7 304.6,561.0 305.9,561.2 310.9,561.7 318.6,561.8"/>
<polyline fill="none" stroke="#4e38c4" stroke-width="0.7" stroke-linejoin="round" points="172.8,616.1 184.8,616.1 187.1,616.0 188.1,615.8 189.1,615.4 189.8,614.9 190.5,614.1 191.2,612.9 191.8,611.2 192.8,607.4 194.2,599.9 196.2,586.0 196.8,582.0 197.5,579.1 197.8,578.1 198.2,577.5 198.5,577.3 198.8,577.5 199.2,578.1 199.8,580.3 200.5,583.7 202.8,597.8 203.5,600.7 204.2,602.6 204.5,603.2 204.8,603.5 205.2,603.7 205.8,603.7 207.2,603.3 207.8,603.5 208.2,603.7 208.5,604.2 209.2,605.4 211.5,611.4 212.5,613.4 213.2,614.4 213.8,615.1 214.5,615.5 215.2,615.8 216.5,616.0 218.5,616.1 253.2,616.1 256.5,616.0 258.2,615.7 259.2,615.2 259.9,614.6 260.9,613.3 261.5,612.1 262.2,610.5 262.9,608.5 265.2,600.3 266.2,597.2 266.9,595.9 267.2,595.4 267.6,595.2 267.9,595.1 268.2,595.2 268.6,595.6 268.9,596.1 269.6,597.6 270.6,600.8 272.2,606.8 273.2,609.9 274.2,612.3 275.2,614.0 275.9,614.7 276.6,615.2 277.9,615.8 279.2,616.0 280.6,616.0 281.9,616.0 282.9,615.8 283.9,615.4 284.9,614.6 285.9,613.2 286.6,612.0 287.2,610.3 287.9,608.3 290.2,599.6 291.2,596.3 291.9,594.8 292.2,594.3 292.6,594.0 292.9,593.9 293.2,594.0 293.6,594.4 293.9,594.9 294.6,596.4 295.6,599.7 297.6,607.1 298.9,611.0 299.9,613.0 300.6,613.9 301.3,614.5 301.9,615.0 302.9,615.4 303.9,615.6 305.6,615.9 309.9,616.1 318.6,616.1"/>
<polyline fill="none" stroke="#6337b0" stroke-width="0.7" stroke-linejoin="round" points="172.8,548.2 175.8,556.7 176.8,558.8 177.5,559.8 178.1,560.5 178.8,561.0 179.8,561.5 181.1,561.7 182.8,561.8 184.1,561.7 185.1,561.5 186.1,561.0 186.8,560.4 187.5,559.5 188.1,558.1 188.8,556.1 189.5,553.4 190.1,550.0 190.8,545.8 192.8,531.1 193.8,524.8 194.5,522.1 194.8,521.2 195.2,520.8 195.5,520.8 195.8,521.3 196.2,522.1 196.8,524.9 197.5,528.8 199.8,544.9 200.8,549.7 201.5,551.7 201.8,552.4 202.2,552.8 202.5,553.0 202.8,553.0 203.5,552.7 205.2,551.2 205.8,551.1 206.5,551.4 206.8,551.7 207.5,552.6 209.8,557.5 210.8,559.2 211.5,560.1 212.2,560.7 212.8,561.2 213.5,561.4 214.8,561.7 216.5,561.8 234.9,561.8 237.9,561.6 238.9,561.5 239.9,561.1 240.9,560.6 241.5,560.0 242.2,559.2 242.9,558.3 244.2,555.8 246.5,550.1 247.5,548.0 248.5,546.6 249.2,546.1 249.5,546.1 249.9,546.2 250.5,546.7 251.5,548.2 254.9,556.0 256.2,558.5 256.9,559.4 257.5,560.1 258.2,560.7 259.2,561.2 260.2,561.5 261.2,561.7 264.6,561.8 282.9,561.8 284.6,561.7 285.9,561.4 286.9,560.8 287.9,559.6 288.6,558.4 289.2,556.7 289.9,554.4 290.9,549.9 292.9,538.9 293.9,534.0 294.6,531.9 294.9,531.2 295.2,530.9 295.6,530.8 295.9,531.1 296.2,531.7 296.6,532.5 297.2,535.0 299.9,549.0 300.9,553.3 301.9,556.3 302.6,557.8 303.3,558.8 304.3,559.8 305.3,560.3 306.6,560.8 308.6,561.3 310.3,561.6 312.3,561.7 318.6,561.8"/>
<polyline fill="none" stroke="#6337b0" stroke-width="0.7" stroke-linejoin="round" points="172.8,616.1 185.5,616.1 188.1,616.0 189.1,615.8 190.1,615.4 190.8,614.9 191.5,614.1 192.2,612.8 192.8,611.0 193.8,607.1 194.8,601.5 197.2,585.1 197.8,581.1 198.5,578.2 198.8,577.2 199.2,576.7 199.5,576.5 199.8,576.7 200.2,577.3 200.8,579.6 201.5,582.9 203.5,594.6 204.2,597.6 204.8,599.8 205.2,600.6 205.8,601.7 207.5,603.3 208.5,604.6 209.5,606.8 211.5,611.7 212.5,613.6 213.5,614.9 214.2,615.4 214.8,615.7 216.2,616.0 218.2,616.1 252.5,616.1 256.2,616.0 257.2,615.9 258.2,615.7 259.2,615.2 259.9,614.6 260.9,613.3 261.5,612.1 262.2,610.5 262.9,608.5 265.2,600.3 266.2,597.2 266.9,595.9 267.2,595.4 267.6,595.2 267.9,595.1 268.2,595.2 268.6,595.6 268.9,596.1 269.6,597.6 270.6,600.8 272.6,607.9 273.9,611.6 274.6,613.0 275.6,614.4 276.2,615.0 277.2,615.6 278.2,615.9 279.6,616.0 281.6,616.1 283.2,616.0 284.2,615.8 285.2,615.4 285.9,614.9 286.6,614.3 287.2,613.3 287.9,612.1 288.9,609.6 289.9,606.4 291.6,600.5 292.6,597.4 293.2,596.1 293.6,595.6 293.9,595.4 294.2,595.3 294.6,595.4 294.9,595.8 295.2,596.2 295.9,597.7 296.6,599.6 298.9,607.5 299.9,610.3 300.6,611.7 301.3,612.8 301.9,613.7 302.6,614.3 303.6,614.9 304.6,615.3 307.3,615.8 310.9,616.1 318.6,616.1"/>
<polyline fill="none" stroke="#78359d" stroke-width="0.7" stroke-linejoin="round" points="172.8,548.2 175.1,555.0 176.1,557.5 177.1,559.3 177.8,560.2 178.5,560.8 179.5,561.3 180.5,561.6 182.1,561.8 184.5,561.7 185.5,561.6 186.5,561.3 187.1,560.9 187.8,560.2 188.5,559.2 189.1,557.6 189.8,555.5 190.5,552.6 191.8,544.6 193.8,529.7 194.5,525.4 195.2,522.2 195.5,521.1 195.8,520.5 196.2,520.3 196.5,520.5 196.8,521.1 197.5,523.5 198.5,529.3 200.5,542.9 201.5,547.8 202.2,549.9 202.8,551.2 203.2,551.5 203.5,551.6 204.2,551.7 205.5,551.5 206.2,551.7 206.5,551.9 207.5,553.2 209.8,557.8 210.8,559.4 211.5,560.2 212.2,560.8 212.8,561.2 213.5,561.5 214.8,561.7 216.5,561.8 235.2,561.8 238.2,561.6 239.9,561.1 240.9,560.6 241.5,560.0 242.2,559.2 242.9,558.3 244.2,555.8 246.5,550.1 247.5,548.0 248.5,546.6 249.2,546.1 249.5,546.1 249.9,546.2 250.5,546.7 251.5,548.2 254.9,556.0 256.2,558.5 256.9,559.4 257.5,560.1 258.2,560.7 259.2,561.2 260.2,561.5 261.2,561.7 264.6,561.8 283.9,561.8 285.9,561.7 287.2,561.4 288.2,560.9 289.2,559.8 290.2,558.0 290.9,556.2 291.6,553.9 292.2,551.1 294.2,540.9 295.2,536.4 295.9,534.4 296.2,533.7 296.6,533.3 296.9,533.2 297.2,533.4 297.6,533.9 297.9,534.6 298.6,536.7 301.3,549.1 302.3,553.0 303.3,555.9 303.9,557.3 304.6,558.3 305.6,559.4 306.6,560.1 307.9,560.8 309.6,561.3 310.9,561.6 312.6,561.7 318.6,561.8"/>
<polyline fill="none" stroke="#78359d" stroke-width="0.7" stroke-linejoin="round" points="172.8,616.1 186.5,616.1 189.1,616.0 190.1,615.8 191.2,615.4 191.8,614.8 192.5,614.0 193.2,612.7 193.8,610.8 194.8,606.7 195.8,601.0 198.2,584.3 198.8,580.2 199.5,577.3 199.8,576.3 200.2,575.8 200.5,575.6 200.8,575.8 201.2,576.4 201.8,578.6 202.5,581.8 204.5,592.8 205.2,595.8 206.2,599.2 208.8,605.4 210.8,610.5 211.8,612.7 212.5,613.8 213.2,614.7 213.8,615.2 214.8,615.8 216.2,616.0 218.2,616.1 252.9,616.1 256.2,616.0 257.2,615.9 258.2,615.7 259.2,615.2 259.9,614.6 260.9,613.3 261.5,612.1 262.2,610.5 262.9,608.5 265.2,600.3 266.2,597.2 266.9,595.9 267.2,595.4 267.6,595.2 267.9,595.1 268.2,595.2 268.6,595.6 268.9,596.1 269.6,597.6 270.6,600.8 272.6,607.9 273.9,611.6 274.6,613.0 275.6,614.4 276.2,615.0 277.2,615.6 278.2,615.9 279.6,616.0 282.2,616.1 284.2,616.0 285.2,615.9 286.2,615.5 286.9,615.2 287.6,614.7 288.2,613.9 288.9,612.9 289.9,610.8 290.9,607.9 293.2,600.3 293.9,598.5 294.6,597.3 294.9,596.9 295.2,596.7 295.6,596.6 295.9,596.7 296.2,597.0 296.6,597.5 297.2,598.8 297.9,600.6 300.2,607.8 301.6,611.0 302.6,612.7 303.3,613.6 303.9,614.2 304.9,614.9 305.9,615.3 306.9,615.6 308.3,615.8 311.6,616.1 318.6,616.1"/>
<polyline fill="none" stroke="#8c348a" stroke-width="0.7" stroke-linejoin="round" points="172.8,548.2 175.1,555.0 176.1,557.5 177.1,559.3 177.8,560.2 178.5,560.8 179.5,561.3 180.8,561.7 182.5,561.8 184.8,561.8 186.1,561.6 187.1,561.4 187.8,561.0 188.5,560.4 189.1,559.5 189.8,558.1 190.5,556.1 191.2,553.4 191.8,549.9 192.5,545.7 194.5,530.6 195.5,524.1 196.2,521.2 196.5,520.3 196.8,519.8 197.2,519.8 197.5,520.1 197.8,520.9 198.5,523.6 199.2,527.4 201.5,542.6 202.2,545.8 202.8,548.1 203.2,549.0 203.8,550.1 204.5,550.8 206.2,552.0 207.2,553.2 209.8,558.1 210.8,559.6 211.8,560.6 212.5,561.1 213.2,561.4 214.5,561.7 216.5,561.8 234.9,561.8 237.9,561.6 238.9,561.5 239.9,561.1 240.9,560.6 241.5,560.0 242.2,559.2 242.9,558.3 244.2,555.8 246.5,550.1 247.5,548.0 248.5,546.6 249.2,546.1 249.5,546.1 249.9,546.2 250.5,546.7 251.5,548.2 254.9,556.0 256.2,558.5 256.9,559.4 257.5,560.1 258.2,560.7 259.2,561.2 260.2,561.5 261.2,561.7 264.2,561.8 285.2,561.8 287.2,561.7 288.6,561.5 289.6,561.0 290.6,560.1 291.6,558.4 292.2,556.8 292.9,554.7 293.6,552.2 295.9,541.3 296.6,538.6 297.2,536.6 297.6,536.0 297.9,535.5 298.2,535.4 298.6,535.5 298.9,535.8 299.6,537.2 300.6,540.6 302.6,549.1 303.6,552.8 304.3,554.8 304.9,556.4 305.6,557.7 306.3,558.7 306.9,559.4 307.9,560.3 308.9,560.8 310.3,561.3 311.6,561.6 313.3,561.7 318.6,561.8"/>
<polyline fill="none" stroke="#8c348a" stroke-width="0.7" stroke-linejoin="round" points="172.8,616.1 187.1,616.1 189.8,616.0 190.8,615.9 191.8,615.5 192.5,615.1 193.2,614.4 193.8,613.2 194.5,611.6 195.2,609.4 195.8,606.4 196.8,600.5 198.8,585.8 199.8,579.3 200.5,576.3 200.8,575.3 201.2,574.7 201.5,574.5 201.8,574.7 202.2,575.2 202.8,577.2 203.5,580.3 205.5,591.3 206.5,596.0 207.8,601.3 209.5,606.9 210.8,610.7 211.8,612.9 212.5,614.0 213.2,614.8 213.8,615.3 214.5,615.7 215.5,615.9 216.5,616.0 221.5,616.1 254.2,616.1 256.5,616.0 258.2,615.7 259.2,615.2 259.9,614.6 260.9,613.3 261.5,612.1 262.2,610.5 262.9,608.5 265.2,600.3 266.2,597.2 266.9,595.9 267.2,595.4 267.6,595.2 267.9,595.1 268.2,595.2 268.6,595.6 268.9,596.1 269.6,597.6 270.6,600.8 272.6,607.9 273.9,611.6 274.6,613.0 275.6,614.4 276.2,615.0 277.2,615.6 278.2,615.9 279.6,616.0 282.6,616.1 285.2,616.0 286.2,615.9 287.2,615.7 288.2,615.2 288.9,614.7 289.6,614.0 290.2,613.0 291.2,611.0 292.2,608.3 294.2,602.1 295.2,599.5 295.9,598.4 296.2,598.0 296.6,597.8 296.9,597.7 297.2,597.8 297.6,598.1 297.9,598.5 298.6,599.7 299.6,602.3 301.6,608.0 302.9,611.1 303.9,612.8 304.6,613.7 305.3,614.3 305.9,614.8 306.9,615.3 307.9,615.6 309.3,615.9 312.3,616.1 318.6,616.1"/>
<polyline fill="none" stroke="#a03276" stroke-width="0.7" stroke-linejoin="round" points="172.8,548.2 175.1,555.0 176.1,557.5 177.1,559.3 177.8,560.2 178.5,560.8 179.5,561.3 180.8,561.7 182.8,561.8 185.8,561.8 187.1,561.6 188.1,561.3 188.8,560.9 189.5,560.2 190.1,559.2 190.8,557.6 191.5,555.5 192.2,552.5 193.5,544.4 195.5,529.1 196.2,524.7 196.8,521.3 197.2,520.2 197.5,519.5 197.8,519.1 198.2,519.2 198.5,519.8 199.2,522.0 199.8,525.4 202.2,540.4 202.8,543.8 203.8,547.4 204.8,549.8 207.2,553.5 209.2,557.2 210.2,558.9 210.8,559.8 211.5,560.5 212.2,561.0 213.2,561.4 214.5,561.7 216.5,561.8 234.9,561.8 237.9,561.6 238.9,561.5 239.9,561.1 240.9,560.6 241.5,560.0 242.2,559.2 242.9,558.3 244.2,555.8 246.5,550.1 247.5,548.0 248.5,546.6 249.2,546.1 249.5,546.1 249.9,546.2 250.5,546.7 251.5,548.2 254.9,556.0 256.2,558.5 256.9,559.4 257.5,560.1 258.2,560.7 259.2,561.2 260.2,561.5 261.2,561.7 264.2,561.8 286.6,561.8 288.6,561.7 289.9,561.5 290.9,561.1 291.9,560.3 292.9,558.8 293.6,557.3 294.2,555.5 294.9,553.1 297.2,543.1 298.2,539.5 298.9,537.9 299.2,537.4 299.6,537.2 299.9,537.2 300.2,537.4 300.6,537.8 300.9,538.5 301.6,540.3 304.3,550.7 305.6,555.0 306.6,557.3 307.6,559.0 308.3,559.8 309.3,560.6 310.3,561.1 311.3,561.4 313.6,561.7 318.6,561.8"/>
<polyline fill="none" stroke="#a03276" stroke-width="0.7" stroke-linejoin="round" points="172.8,616.1 188.1,616.1 190.8,616.0 191.8,615.9 192.8,615.5 193.5,615.0 194.2,614.3 194.8,613.1 195.5,611.4 196.2,609.1 196.8,606.0 197.8,600.0 199.8,584.9 200.8,578.3 201.5,575.1 201.8,574.1 202.2,573.5 202.5,573.2 202.8,573.3 203.2,573.8 203.5,574.6 204.2,577.1 205.2,582.3 207.8,597.9 209.2,604.4 210.2,608.3 211.2,611.3 212.2,613.5 213.2,614.8 213.8,615.3 214.5,615.7 215.8,616.0 217.8,616.1 251.5,616.1 256.2,616.0 257.2,615.9 258.2,615.7 259.2,615.2 259.9,614.6 260.9,613.3 261.5,612.1 262.2,610.5 262.9,608.5 265.2,600.3 266.2,597.2 266.9,595.9 267.2,595.4 267.6,595.2 267.9,595.1 268.2,595.2 268.6,595.6 268.9,596.1 269.6,597.6 270.6,600.8 272.6,607.9 273.9,611.6 274.6,613.0 275.6,614.4 276.2,615.0 277.2,615.6 278.2,615.9 279.9,616.1 286.6,616.0 287.6,615.9 288.6,615.7 289.6,615.3 290.2,614.8 290.9,614.1 291.6,613.1 292.6,611.2 293.6,608.7 295.6,602.8 296.6,600.4 297.2,599.3 297.6,598.9 297.9,598.7 298.2,598.6 298.6,598.7 298.9,599.0 299.2,599.4 299.9,600.5 300.9,602.9 302.9,608.4 304.3,611.5 305.3,613.1 305.9,614.0 306.6,614.6 307.9,615.4 308.9,615.7 309.9,615.9 312.6,616.1 318.6,616.1"/>
<polyline fill="none" stroke="#b53063" stroke-width="0.7" stroke-linejoin="round" points="172.8,548.2 175.1,555.0 176.1,557.5 177.1,559.3 177.8,560.2 178.5,560.8 179.5,561.3 180.8,561.7 182.8,561.8 186.1,561.8 187.5,561.7 188.5,561.5 189.5,561.0 190.1,560.4 190.8,559.5 191.5,558.1 192.2,556.1 192.8,553.3 193.5,549.8 194.2,545.5 196.2,530.1 197.2,523.3 197.8,520.2 198.2,519.2 198.5,518.6 198.8,518.5 199.2,518.7 199.5,519.4 200.2,521.8 200.8,525.3 203.2,540.0 204.2,544.9 205.2,548.4 206.8,552.7 208.5,556.2 209.5,558.0 210.5,559.5 211.2,560.3 211.8,560.8 212.8,561.3 214.2,561.7 216.2,561.8 234.5,561.8 237.9,561.6 238.9,561.5 239.9,561.1 240.9,560.6 241.5,560.0 242.2,559.2 242.9,558.3 244.2,555.8 246.5,550.1 247.5,548.0 248.5,546.6 249.2,546.1 249.5,546.1 249.9,546.2 250.5,546.7 251.5,548.2 254.9,556.0 256.2,558.5 256.9,559.4 257.5,560.1 258.2,560.7 259.2,561.2 260.2,561.5 261.2,561.7 264.2,561.8 287.9,561.8 289.9,561.7 291.2,561.5 292.2,561.2 293.2,560.4 294.2,559.1 294.9,557.8 295.6,556.0 296.2,553.9 298.6,544.5 299.6,541.0 300.2,539.4 300.6,538.9 300.9,538.7 301.3,538.6 301.6,538.7 301.9,539.1 302.6,540.5 303.6,543.6 305.6,551.3 306.6,554.7 307.6,557.3 308.3,558.5 308.9,559.5 309.6,560.2 310.3,560.8 310.9,561.1 311.9,561.5 314.3,561.7 318.6,561.8"/>
<polyline fill="none" stroke="#b53063" stroke-width="0.7" stroke-linejoin="round" points="172.8,616.1 189.1,616.1 191.8,616.0 192.8,615.9 193.8,615.5 194.5,615.0 195.2,614.2 195.8,613.0 196.5,611.2 197.2,608.8 197.8,605.6 198.8,599.4 200.8,583.9 201.8,577.1 202.5,573.8 202.8,572.7 203.2,572.0 203.5,571.6 203.8,571.7 204.2,572.1 204.5,573.0 204.8,574.1 205.5,577.2 206.5,583.5 208.8,599.5 209.8,605.1 210.5,608.1 211.2,610.5 212.2,613.1 213.2,614.7 213.8,615.3 214.5,615.6 215.5,615.9 216.5,616.0 220.5,616.1 254.2,616.1 256.5,616.0 258.2,615.7 259.2,615.2 259.9,614.6 260.9,613.3 261.5,612.1 262.2,610.5 262.9,608.5 265.2,600.3 266.2,597.2 266.9,595.9 267.2,595.4 267.6,595.2 267.9,595.1 268.2,595.2 268.6,595.6 268.9,596.1 269.6,597.6 270.6,600.8 272.6,607.9 273.9,611.6 274.6,613.0 275.6,614.4 276.2,615.0 277.2,615.6 278.2,615.9 279.9,616.1 287.2,616.1 289.6,615.8 290.6,615.4 291.2,615.1 291.9,614.5 292.6,613.7 293.2,612.7 293.9,611.4 294.9,609.0 296.9,603.3 297.9,601.0 298.6,600.0 298.9,599.6 299.2,599.4 299.6,599.4 299.9,599.5 300.2,599.8 300.6,600.1 301.3,601.3 302.3,603.7 304.3,609.1 305.3,611.4 306.3,613.1 306.9,614.0 307.6,614.7 308.3,615.1 308.9,615.5 310.6,615.9 312.9,616.1 318.6,616.1"/>
<polyline fill="none" stroke="#ca2f4f" stroke-width="0.7" stroke-linejoin="round" points="172.8,548.2 175.1,555.0 176.1,557.5 176.8,558.8 177.5,559.8 178.1,560.5 178.8,561.0 179.8,561.5 181.5,561.7 184.8,561.8 187.8,561.7 188.8,561.6 189.8,561.3 190.5,560.9 191.2,560.2 191.8,559.2 192.5,557.6 193.2,555.4 193.8,552.5 194.5,548.8 195.2,544.3 197.2,528.6 198.2,522.0 198.8,519.1 199.2,518.2 199.5,517.7 199.8,517.7 200.2,518.1 200.5,518.9 201.2,521.5 201.8,525.1 204.5,541.9 205.5,546.7 206.5,550.6 207.8,554.5 208.8,556.9 209.5,558.2 210.2,559.2 211.2,560.4 211.8,560.9 212.8,561.4 214.2,561.7 216.2,561.8 234.5,561.8 237.9,561.6 238.9,561.5 239.9,561.1 240.9,560.6 241.5,560.0 242.2,559.2 242.9,558.3 244.2,555.8 246.5,550.1 247.5,548.0 248.5,546.6 249.2,546.1 249.5,546.1 249.9,546.2 250.5,546.7 251.5,548.2 254.9,556.0 256.2,558.5 256.9,559.4 257.9,560.4 258.5,560.9 259.5,561.3 261.5,561.7 264.6,561.8 289.2,561.8 291.2,561.7 292.6,561.5 293.6,561.2 294.6,560.5 295.6,559.2 296.2,558.0 296.9,556.3 297.6,554.3 299.9,545.5 300.9,542.2 301.6,540.8 301.9,540.3 302.3,540.1 302.6,540.0 302.9,540.2 303.3,540.6 303.9,542.0 304.9,545.1 306.6,551.4 307.6,554.7 308.6,557.4 309.3,558.7 309.9,559.7 310.6,560.4 311.3,560.9 312.6,561.5 314.6,561.7 318.6,561.8"/>
<polyline fill="none" stroke="#ca2f4f" stroke-width="0.7" stroke-linejoin="round" points="172.8,616.1 192.5,616.0 193.8,615.8 194.8,615.4 195.5,614.9 196.2,614.1 196.8,612.9 197.5,611.0 198.2,608.5 198.8,605.2 199.8,598.8 201.8,582.8 202.8,575.7 203.5,572.3 203.8,571.1 204.2,570.4 204.5,570.0 204.8,570.1 205.2,570.7 205.5,571.6 206.2,574.5 207.2,581.1 209.5,599.2 210.5,605.4 211.2,608.7 211.8,611.2 212.8,613.6 213.2,614.2 213.8,615.0 214.8,615.7 215.8,615.9 216.8,616.0 221.5,616.1 254.2,616.1 256.5,616.0 258.2,615.7 259.2,615.2 259.9,614.6 260.9,613.3 261.5,612.1 262.2,610.5 262.9,608.5 265.2,600.3 266.2,597.2 266.9,595.9 267.2,595.4 267.6,595.2 267.9,595.1 268.2,595.2 268.6,595.6 268.9,596.1 269.6,597.6 270.6,600.8 272.6,607.9 273.9,611.6 274.6,613.0 275.6,614.4 276.2,615.0 277.2,615.6 278.2,615.9 279.9,616.1 288.6,616.1 290.9,615.8 291.9,615.4 292.6,615.0 293.2,614.5 293.9,613.7 294.9,612.1 295.9,609.9 297.9,604.5 298.9,602.1 299.6,601.0 299.9,600.6 300.2,600.3 300.6,600.2 300.9,600.2 301.3,600.4 301.6,600.7 302.3,601.6 303.3,603.8 305.3,609.2 306.3,611.5 307.3,613.2 307.9,614.1 308.6,614.8 309.3,615.2 309.9,615.6 311.6,616.0 313.6,616.1 318.6,616.1"/>
<polyline fill="none" stroke="#de2d3c" stroke-width="0.7" stroke-linejoin="round" points="172.8,548.2 175.1,555.0 176.1,557.5 176.8,558.8 177.5,559.8 178.1,560.5 178.8,561.0 179.8,561.5 181.5,561.7 188.1,561.8 189.5,561.6 190.5,561.4 191.2,561.0 191.8,560.4 192.5,559.5 192.8,558.8 193.5,557.1 194.2,554.8 194.8,551.6 195.8,545.4 198.2,527.0 198.8,522.4 199.5,519.0 199.8,517.9 200.2,517.1 200.5,516.8 200.8,516.9 201.2,517.4 201.5,518.3 202.2,521.1 202.8,524.9 205.5,542.7 206.5,548.1 207.5,552.4 208.5,555.6 209.2,557.3 209.8,558.6 210.5,559.7 211.2,560.4 211.8,560.9 212.5,561.3 213.8,561.6 215.8,561.8 234.2,561.8 237.9,561.6 238.9,561.5 239.9,561.1 240.9,560.6 241.5,560.0 242.2,559.2 242.9,558.3 244.2,555.8 246.5,550.1 247.5,548.0 248.5,546.6 249.2,546.1 249.5,546.1 249.9,546.2 250.5,546.7 251.5,548.2 254.9,556.0 256.2,558.5 256.9,559.4 257.9,560.4 258.5,560.9 259.5,561.3 261.5,561.7 264.6,561.8 289.9,561.8 292.2,561.7 293.6,561.6 294.6,561.2 295.6,560.6 296.6,559.5 297.2,558.5 297.9,557.0 298.9,554.3 301.3,546.2 301.9,544.2 302.6,542.7 302.9,542.2 303.3,541.9 303.6,541.8 303.9,541.9 304.3,542.2 304.6,542.6 305.3,544.1 305.9,546.0 308.6,555.1 309.6,557.7 310.6,559.5 311.3,560.3 311.9,560.8 312.6,561.2 313.3,561.5 315.3,561.7 318.6,561.8"/>
<polyline fill="none" stroke="#de2d3c" stroke-width="0.7" stroke-linejoin="round" points="172.8,616.1 193.5,616.0 194.8,615.8 195.8,615.4 196.5,614.9 197.2,614.0 197.8,612.7 198.5,610.8 199.5,606.6 200.2,602.8 200.8,598.1 202.8,581.5 203.8,574.2 204.5,570.8 204.8,569.6 205.2,568.9 205.5,568.7 205.8,569.0 206.2,569.7 206.5,570.8 207.2,574.3 208.2,581.7 210.2,598.6 211.2,605.3 211.8,608.7 212.5,611.3 212.8,612.3 213.5,613.8 213.8,614.3 214.5,615.1 215.5,615.7 216.8,616.0 218.8,616.1 251.9,616.1 256.2,616.0 257.2,615.9 258.2,615.7 259.2,615.2 259.9,614.6 260.9,613.3 261.5,612.1 262.2,610.5 262.9,608.5 265.2,600.3 266.2,597.2 266.9,595.9 267.2,595.4 267.6,595.2 267.9,595.1 268.2,595.2 268.6,595.6 268.9,596.1 269.6,597.6 270.6,600.8 272.6,607.9 273.9,611.6 274.6,613.0 275.6,614.4 276.2,615.0 277.2,615.6 278.2,615.9 279.9,616.1 289.2,616.1 290.9,616.0 291.9,615.8 292.9,615.5 293.6,615.2 294.2,614.7 294.9,614.0 295.6,613.0 296.2,611.9 297.2,609.7 299.2,604.6 300.2,602.5 300.9,601.6 301.3,601.3 301.6,601.1 301.9,601.1 302.6,601.5 302.9,601.9 303.6,603.0 304.6,605.2 306.3,609.5 307.3,611.7 308.3,613.4 309.3,614.6 309.9,615.1 310.6,615.5 311.3,615.7 312.3,615.9 314.3,616.1 318.6,616.1"/>
<polyline fill="none" stroke="#6a1a5c" stroke-width="1.0" stroke-linejoin="round" points="234.6,561.8 237.5,561.7 239.2,561.4 240.5,560.8 241.2,560.3 241.8,559.7 242.8,558.4 243.8,556.6 246.8,549.6 247.7,547.6 248.4,546.7 248.7,546.4 249.4,546.1 249.7,546.1 250.4,546.5 251.4,547.9 252.4,550.0 254.3,554.8 255.3,557.0 256.3,558.7 257.3,559.9 258.0,560.5 258.6,560.9 259.9,561.4 261.6,561.7 264.5,561.8"/>
<polyline fill="none" stroke="#6a1a5c" stroke-width="1.0" stroke-linejoin="round" points="253.6,616.1 256.6,616.0 258.2,615.7 258.9,615.4 259.5,614.9 260.2,614.3 260.9,613.4 261.8,611.4 262.8,608.8 265.4,599.6 266.1,597.6 266.7,596.1 267.1,595.6 267.4,595.3 267.7,595.1 268.1,595.1 268.4,595.4 268.7,595.8 269.4,597.1 270.3,600.0 273.0,609.2 274.0,611.8 274.9,613.6 275.9,614.8 276.6,615.3 277.2,615.6 278.9,616.0 281.8,616.1"/>
<text x="210.00" y="525.80" font-size="11.5" text-anchor="start" font-weight="normal" font-style="normal" fill="#1c1c1c" font-family="Liberation Sans, Arial, sans-serif" stroke="#1c1c1c" stroke-width="0.28">t1</text>
<text x="298.30" y="531.00" font-size="11.5" text-anchor="start" font-weight="normal" font-style="normal" fill="#1c1c1c" font-family="Liberation Sans, Arial, sans-serif" stroke="#1c1c1c" stroke-width="0.28">t2</text>
<text x="213.50" y="586.30" font-size="11.5" text-anchor="start" font-weight="normal" font-style="normal" fill="#1c1c1c" font-family="Liberation Sans, Arial, sans-serif" stroke="#1c1c1c" stroke-width="0.28">g1</text>
<text x="295.00" y="590.70" font-size="11.5" text-anchor="start" font-weight="normal" font-style="normal" fill="#1c1c1c" font-family="Liberation Sans, Arial, sans-serif" stroke="#1c1c1c" stroke-width="0.28">g2</text>
<text x="166.50" y="565.00" font-size="8.5" text-anchor="middle" font-weight="normal" font-style="normal" fill="#1c1c1c" font-family="Liberation Sans, Arial, sans-serif" transform="rotate(-90 166.50 565.00)" stroke="#1c1c1c" stroke-width="0.28">Norm. Absorbance</text>
<text x="244.60" y="644.60" font-size="8.5" text-anchor="middle" font-weight="normal" font-style="normal" fill="#1c1c1c" font-family="Liberation Sans, Arial, sans-serif" stroke="#1c1c1c" stroke-width="0.28">Wavenumber / cm<tspan dy="-3.2" font-size="5.2">-1</tspan></text>
<rect x="378.70" y="508.70" width="58.30" height="48.60" fill="none" stroke="#6a6a6a" stroke-width="0.95"/>
<line x1="377.20" y1="557.30" x2="378.70" y2="557.30" stroke="#6a6a6a" stroke-width="0.9"/>
<text x="375.80" y="560.31" font-size="8.4" text-anchor="end" font-weight="normal" font-style="normal" fill="#1c1c1c" font-family="Liberation Sans, Arial, sans-serif" stroke="#1c1c1c" stroke-width="0.28">1245</text>
<line x1="377.20" y1="541.10" x2="378.70" y2="541.10" stroke="#6a6a6a" stroke-width="0.9"/>
<text x="375.80" y="544.11" font-size="8.4" text-anchor="end" font-weight="normal" font-style="normal" fill="#1c1c1c" font-family="Liberation Sans, Arial, sans-serif" stroke="#1c1c1c" stroke-width="0.28">1250</text>
<line x1="377.20" y1="524.90" x2="378.70" y2="524.90" stroke="#6a6a6a" stroke-width="0.9"/>
<text x="375.80" y="527.91" font-size="8.4" text-anchor="end" font-weight="normal" font-style="normal" fill="#1c1c1c" font-family="Liberation Sans, Arial, sans-serif" stroke="#1c1c1c" stroke-width="0.28">1255</text>
<line x1="377.20" y1="508.70" x2="378.70" y2="508.70" stroke="#6a6a6a" stroke-width="0.9"/>
<text x="375.80" y="511.71" font-size="8.4" text-anchor="end" font-weight="normal" font-style="normal" fill="#1c1c1c" font-family="Liberation Sans, Arial, sans-serif" stroke="#1c1c1c" stroke-width="0.28">1260</text>
<line x1="377.80" y1="549.20" x2="378.70" y2="549.20" stroke="#6a6a6a" stroke-width="0.9"/>
<line x1="377.80" y1="533.00" x2="378.70" y2="533.00" stroke="#6a6a6a" stroke-width="0.9"/>
<line x1="377.80" y1="516.80" x2="378.70" y2="516.80" stroke="#6a6a6a" stroke-width="0.9"/>
<line x1="386.47" y1="557.30" x2="386.47" y2="558.80" stroke="#6a6a6a" stroke-width="0.9"/>
<text x="385.57" y="566.90" font-size="8.4" text-anchor="middle" font-weight="normal" font-style="normal" fill="#1c1c1c" font-family="Liberation Sans, Arial, sans-serif" stroke="#1c1c1c" stroke-width="0.28">-30</text>
<line x1="402.02" y1="557.30" x2="402.02" y2="558.80" stroke="#6a6a6a" stroke-width="0.9"/>
<text x="401.12" y="566.90" font-size="8.4" text-anchor="middle" font-weight="normal" font-style="normal" fill="#1c1c1c" font-family="Liberation Sans, Arial, sans-serif" stroke="#1c1c1c" stroke-width="0.28">-20</text>
<line x1="417.57" y1="557.30" x2="417.57" y2="558.80" stroke="#6a6a6a" stroke-width="0.9"/>
<text x="416.67" y="566.90" font-size="8.4" text-anchor="middle" font-weight="normal" font-style="normal" fill="#1c1c1c" font-family="Liberation Sans, Arial, sans-serif" stroke="#1c1c1c" stroke-width="0.28">-10</text>
<line x1="433.11" y1="557.30" x2="433.11" y2="558.80" stroke="#6a6a6a" stroke-width="0.9"/>
<text x="433.11" y="566.90" font-size="8.4" text-anchor="middle" font-weight="normal" font-style="normal" fill="#1c1c1c" font-family="Liberation Sans, Arial, sans-serif" stroke="#1c1c1c" stroke-width="0.28">0</text>
<line x1="394.25" y1="557.30" x2="394.25" y2="558.20" stroke="#6a6a6a" stroke-width="0.9"/>
<line x1="409.79" y1="557.30" x2="409.79" y2="558.20" stroke="#6a6a6a" stroke-width="0.9"/>
<line x1="425.34" y1="557.30" x2="425.34" y2="558.20" stroke="#6a6a6a" stroke-width="0.9"/>
<line x1="384.92" y1="545.64" x2="433.11" y2="520.69" stroke="#505050" stroke-width="0.75"/>
<circle cx="384.92" cy="541.10" r="2.8" fill="#b0141f" stroke="#600a12" stroke-width="0.6"/>
<circle cx="392.69" cy="538.18" r="2.8" fill="#9c1428" stroke="#560a16" stroke-width="0.6"/>
<circle cx="400.47" cy="534.62" r="2.8" fill="#701232" stroke="#3e0a1c" stroke-width="0.6"/>
<circle cx="409.79" cy="531.38" r="2.8" fill="#501244" stroke="#2c0a28" stroke-width="0.6"/>
<circle cx="417.57" cy="527.17" r="2.8" fill="#3a1256" stroke="#200a32" stroke-width="0.6"/>
<circle cx="425.34" cy="524.58" r="2.8" fill="#24106c" stroke="#140a40" stroke-width="0.6"/>
<circle cx="433.11" cy="520.69" r="2.8" fill="#1c18b8" stroke="#0e0c6c" stroke-width="0.6"/>
<text x="383.10" y="520.10" font-size="10.3" text-anchor="start" font-weight="normal" font-style="normal" fill="#1c1c1c" font-family="Liberation Sans, Arial, sans-serif" stroke="#1c1c1c" stroke-width="0.28">t1</text>
<text x="407.40" y="545.90" font-size="8.4" font-weight="bold" font-style="normal" fill="#1a1a1a" stroke="#1a1a1a" stroke-width="0.3" font-family="Liberation Serif, serif" text-anchor="start" textLength="13.60" lengthAdjust="spacingAndGlyphs"><tspan fill="#888" stroke="none" font-weight="normal">|</tspan>Δ<tspan font-style="italic">μ</tspan><tspan fill="#888" stroke="none" font-weight="normal">|</tspan></text>
<path d="M413.60 539.50H417.16" stroke="#444" stroke-width="0.55" fill="none"/>
<path d="M418.00 539.50L416.60 538.60L416.60 540.40Z" fill="#444"/>
<text x="421.70" y="546.90" font-size="5.9" font-weight="bold" font-style="italic" fill="#1a1a1a" stroke="#1a1a1a" stroke-width="0.25" font-family="Liberation Serif, serif" text-anchor="start" textLength="12.00" lengthAdjust="spacingAndGlyphs">DFT</text>
<text x="407.60" y="554.30" font-size="8.4" font-weight="bold" font-style="normal" fill="#1a1a1a" stroke="#1a1a1a" stroke-width="0.3" font-family="Liberation Serif, serif" text-anchor="start" textLength="24.90" lengthAdjust="spacingAndGlyphs"><tspan fill="#777" stroke="#777">=</tspan> 0. 21</text>
<rect x="458.80" y="507.30" width="57.80" height="50.80" fill="none" stroke="#6a6a6a" stroke-width="0.95"/>
<line x1="457.30" y1="558.10" x2="458.80" y2="558.10" stroke="#6a6a6a" stroke-width="0.9"/>
<text x="456.50" y="561.11" font-size="8.4" text-anchor="end" font-weight="normal" font-style="normal" fill="#1c1c1c" font-family="Liberation Sans, Arial, sans-serif" stroke="#1c1c1c" stroke-width="0.28">1135</text>
<line x1="457.30" y1="541.17" x2="458.80" y2="541.17" stroke="#6a6a6a" stroke-width="0.9"/>
<text x="456.50" y="544.17" font-size="8.4" text-anchor="end" font-weight="normal" font-style="normal" fill="#1c1c1c" font-family="Liberation Sans, Arial, sans-serif" stroke="#1c1c1c" stroke-width="0.28">1140</text>
<line x1="457.30" y1="524.23" x2="458.80" y2="524.23" stroke="#6a6a6a" stroke-width="0.9"/>
<text x="456.50" y="527.24" font-size="8.4" text-anchor="end" font-weight="normal" font-style="normal" fill="#1c1c1c" font-family="Liberation Sans, Arial, sans-serif" stroke="#1c1c1c" stroke-width="0.28">1145</text>
<line x1="457.30" y1="507.30" x2="458.80" y2="507.30" stroke="#6a6a6a" stroke-width="0.9"/>
<text x="456.50" y="510.31" font-size="8.4" text-anchor="end" font-weight="normal" font-style="normal" fill="#1c1c1c" font-family="Liberation Sans, Arial, sans-serif" stroke="#1c1c1c" stroke-width="0.28">1150</text>
<line x1="457.90" y1="549.63" x2="458.80" y2="549.63" stroke="#6a6a6a" stroke-width="0.9"/>
<line x1="457.90" y1="532.70" x2="458.80" y2="532.70" stroke="#6a6a6a" stroke-width="0.9"/>
<line x1="457.90" y1="515.77" x2="458.80" y2="515.77" stroke="#6a6a6a" stroke-width="0.9"/>
<line x1="466.51" y1="558.10" x2="466.51" y2="559.60" stroke="#6a6a6a" stroke-width="0.9"/>
<text x="465.61" y="566.90" font-size="8.4" text-anchor="middle" font-weight="normal" font-style="normal" fill="#1c1c1c" font-family="Liberation Sans, Arial, sans-serif" stroke="#1c1c1c" stroke-width="0.28">-30</text>
<line x1="481.92" y1="558.10" x2="481.92" y2="559.60" stroke="#6a6a6a" stroke-width="0.9"/>
<text x="481.02" y="566.90" font-size="8.4" text-anchor="middle" font-weight="normal" font-style="normal" fill="#1c1c1c" font-family="Liberation Sans, Arial, sans-serif" stroke="#1c1c1c" stroke-width="0.28">-20</text>
<line x1="497.33" y1="558.10" x2="497.33" y2="559.60" stroke="#6a6a6a" stroke-width="0.9"/>
<text x="496.43" y="566.90" font-size="8.4" text-anchor="middle" font-weight="normal" font-style="normal" fill="#1c1c1c" font-family="Liberation Sans, Arial, sans-serif" stroke="#1c1c1c" stroke-width="0.28">-10</text>
<line x1="512.75" y1="558.10" x2="512.75" y2="559.60" stroke="#6a6a6a" stroke-width="0.9"/>
<text x="512.75" y="566.90" font-size="8.4" text-anchor="middle" font-weight="normal" font-style="normal" fill="#1c1c1c" font-family="Liberation Sans, Arial, sans-serif" stroke="#1c1c1c" stroke-width="0.28">0</text>
<line x1="474.21" y1="558.10" x2="474.21" y2="559.00" stroke="#6a6a6a" stroke-width="0.9"/>
<line x1="489.63" y1="558.10" x2="489.63" y2="559.00" stroke="#6a6a6a" stroke-width="0.9"/>
<line x1="505.04" y1="558.10" x2="505.04" y2="559.00" stroke="#6a6a6a" stroke-width="0.9"/>
<line x1="464.97" y1="551.33" x2="512.75" y2="512.72" stroke="#505050" stroke-width="0.75"/>
<circle cx="464.97" cy="551.33" r="2.8" fill="#b0141f" stroke="#600a12" stroke-width="0.6"/>
<circle cx="472.67" cy="545.10" r="2.8" fill="#9c1428" stroke="#560a16" stroke-width="0.6"/>
<circle cx="480.38" cy="538.87" r="2.8" fill="#701232" stroke="#3e0a1c" stroke-width="0.6"/>
<circle cx="489.63" cy="531.40" r="2.8" fill="#501244" stroke="#2c0a28" stroke-width="0.6"/>
<circle cx="497.33" cy="525.17" r="2.8" fill="#3a1256" stroke="#200a32" stroke-width="0.6"/>
<circle cx="505.04" cy="518.95" r="2.8" fill="#24106c" stroke="#140a40" stroke-width="0.6"/>
<circle cx="512.75" cy="512.72" r="2.8" fill="#1c18b8" stroke="#0e0c6c" stroke-width="0.6"/>
<text x="463.20" y="518.70" font-size="10.3" text-anchor="start" font-weight="normal" font-style="normal" fill="#1c1c1c" font-family="Liberation Sans, Arial, sans-serif" stroke="#1c1c1c" stroke-width="0.28">t2</text>
<text x="487.00" y="546.70" font-size="8.4" font-weight="bold" font-style="normal" fill="#1a1a1a" stroke="#1a1a1a" stroke-width="0.3" font-family="Liberation Serif, serif" text-anchor="start" textLength="13.60" lengthAdjust="spacingAndGlyphs"><tspan fill="#888" stroke="none" font-weight="normal">|</tspan>Δ<tspan font-style="italic">μ</tspan><tspan fill="#888" stroke="none" font-weight="normal">|</tspan></text>
<path d="M493.20 540.30H496.76" stroke="#444" stroke-width="0.55" fill="none"/>
<path d="M497.60 540.30L496.20 539.40L496.20 541.20Z" fill="#444"/>
<text x="501.30" y="547.70" font-size="5.9" font-weight="bold" font-style="italic" fill="#1a1a1a" stroke="#1a1a1a" stroke-width="0.25" font-family="Liberation Serif, serif" text-anchor="start" textLength="12.00" lengthAdjust="spacingAndGlyphs">DFT</text>
<text x="487.20" y="555.10" font-size="8.4" font-weight="bold" font-style="normal" fill="#1a1a1a" stroke="#1a1a1a" stroke-width="0.3" font-family="Liberation Serif, serif" text-anchor="start" textLength="24.90" lengthAdjust="spacingAndGlyphs"><tspan fill="#777" stroke="#777">=</tspan> 0. 49</text>
<rect x="378.70" y="573.10" width="58.30" height="49.40" fill="none" stroke="#6a6a6a" stroke-width="0.95"/>
<line x1="377.20" y1="622.50" x2="378.70" y2="622.50" stroke="#6a6a6a" stroke-width="0.9"/>
<text x="375.80" y="625.51" font-size="8.4" text-anchor="end" font-weight="normal" font-style="normal" fill="#1c1c1c" font-family="Liberation Sans, Arial, sans-serif" stroke="#1c1c1c" stroke-width="0.28">1240</text>
<line x1="377.20" y1="606.03" x2="378.70" y2="606.03" stroke="#6a6a6a" stroke-width="0.9"/>
<text x="375.80" y="609.04" font-size="8.4" text-anchor="end" font-weight="normal" font-style="normal" fill="#1c1c1c" font-family="Liberation Sans, Arial, sans-serif" stroke="#1c1c1c" stroke-width="0.28">1245</text>
<line x1="377.20" y1="589.57" x2="378.70" y2="589.57" stroke="#6a6a6a" stroke-width="0.9"/>
<text x="375.80" y="592.57" font-size="8.4" text-anchor="end" font-weight="normal" font-style="normal" fill="#1c1c1c" font-family="Liberation Sans, Arial, sans-serif" stroke="#1c1c1c" stroke-width="0.28">1250</text>
<line x1="377.20" y1="573.10" x2="378.70" y2="573.10" stroke="#6a6a6a" stroke-width="0.9"/>
<text x="375.80" y="576.11" font-size="8.4" text-anchor="end" font-weight="normal" font-style="normal" fill="#1c1c1c" font-family="Liberation Sans, Arial, sans-serif" stroke="#1c1c1c" stroke-width="0.28">1255</text>
<line x1="377.80" y1="614.27" x2="378.70" y2="614.27" stroke="#6a6a6a" stroke-width="0.9"/>
<line x1="377.80" y1="597.80" x2="378.70" y2="597.80" stroke="#6a6a6a" stroke-width="0.9"/>
<line x1="377.80" y1="581.33" x2="378.70" y2="581.33" stroke="#6a6a6a" stroke-width="0.9"/>
<line x1="386.47" y1="622.50" x2="386.47" y2="624.00" stroke="#6a6a6a" stroke-width="0.9"/>
<text x="385.57" y="631.40" font-size="8.4" text-anchor="middle" font-weight="normal" font-style="normal" fill="#1c1c1c" font-family="Liberation Sans, Arial, sans-serif" stroke="#1c1c1c" stroke-width="0.28">-30</text>
<line x1="402.02" y1="622.50" x2="402.02" y2="624.00" stroke="#6a6a6a" stroke-width="0.9"/>
<text x="401.12" y="631.40" font-size="8.4" text-anchor="middle" font-weight="normal" font-style="normal" fill="#1c1c1c" font-family="Liberation Sans, Arial, sans-serif" stroke="#1c1c1c" stroke-width="0.28">-20</text>
<line x1="417.57" y1="622.50" x2="417.57" y2="624.00" stroke="#6a6a6a" stroke-width="0.9"/>
<text x="416.67" y="631.40" font-size="8.4" text-anchor="middle" font-weight="normal" font-style="normal" fill="#1c1c1c" font-family="Liberation Sans, Arial, sans-serif" stroke="#1c1c1c" stroke-width="0.28">-10</text>
<line x1="433.11" y1="622.50" x2="433.11" y2="624.00" stroke="#6a6a6a" stroke-width="0.9"/>
<text x="433.11" y="631.40" font-size="8.4" text-anchor="middle" font-weight="normal" font-style="normal" fill="#1c1c1c" font-family="Liberation Sans, Arial, sans-serif" stroke="#1c1c1c" stroke-width="0.28">0</text>
<line x1="394.25" y1="622.50" x2="394.25" y2="623.40" stroke="#6a6a6a" stroke-width="0.9"/>
<line x1="409.79" y1="622.50" x2="409.79" y2="623.40" stroke="#6a6a6a" stroke-width="0.9"/>
<line x1="425.34" y1="622.50" x2="425.34" y2="623.40" stroke="#6a6a6a" stroke-width="0.9"/>
<line x1="384.92" y1="606.03" x2="433.11" y2="578.70" stroke="#505050" stroke-width="0.75"/>
<circle cx="384.92" cy="606.03" r="2.8" fill="#b0141f" stroke="#600a12" stroke-width="0.6"/>
<circle cx="392.69" cy="601.62" r="2.8" fill="#9c1428" stroke="#560a16" stroke-width="0.6"/>
<circle cx="400.47" cy="597.22" r="2.8" fill="#701232" stroke="#3e0a1c" stroke-width="0.6"/>
<circle cx="409.79" cy="591.93" r="2.8" fill="#501244" stroke="#2c0a28" stroke-width="0.6"/>
<circle cx="417.57" cy="587.52" r="2.8" fill="#3a1256" stroke="#200a32" stroke-width="0.6"/>
<circle cx="425.34" cy="583.11" r="2.8" fill="#24106c" stroke="#140a40" stroke-width="0.6"/>
<circle cx="433.11" cy="578.70" r="2.8" fill="#1c18b8" stroke="#0e0c6c" stroke-width="0.6"/>
<text x="383.10" y="584.50" font-size="10.3" text-anchor="start" font-weight="normal" font-style="normal" fill="#1c1c1c" font-family="Liberation Sans, Arial, sans-serif" stroke="#1c1c1c" stroke-width="0.28">g1</text>
<text x="407.40" y="611.10" font-size="8.4" font-weight="bold" font-style="normal" fill="#1a1a1a" stroke="#1a1a1a" stroke-width="0.3" font-family="Liberation Serif, serif" text-anchor="start" textLength="13.60" lengthAdjust="spacingAndGlyphs"><tspan fill="#888" stroke="none" font-weight="normal">|</tspan>Δ<tspan font-style="italic">μ</tspan><tspan fill="#888" stroke="none" font-weight="normal">|</tspan></text>
<path d="M413.60 604.70H417.16" stroke="#444" stroke-width="0.55" fill="none"/>
<path d="M418.00 604.70L416.60 603.80L416.60 605.60Z" fill="#444"/>
<text x="421.70" y="612.10" font-size="5.9" font-weight="bold" font-style="italic" fill="#1a1a1a" stroke="#1a1a1a" stroke-width="0.25" font-family="Liberation Serif, serif" text-anchor="start" textLength="12.00" lengthAdjust="spacingAndGlyphs">DFT</text>
<text x="407.60" y="619.50" font-size="8.4" font-weight="bold" font-style="normal" fill="#1a1a1a" stroke="#1a1a1a" stroke-width="0.3" font-family="Liberation Serif, serif" text-anchor="start" textLength="24.90" lengthAdjust="spacingAndGlyphs"><tspan fill="#777" stroke="#777">=</tspan> 0. 33</text>
<rect x="458.80" y="572.70" width="57.80" height="49.20" fill="none" stroke="#6a6a6a" stroke-width="0.95"/>
<line x1="457.30" y1="617.77" x2="458.80" y2="617.77" stroke="#6a6a6a" stroke-width="0.9"/>
<text x="456.50" y="620.78" font-size="8.4" text-anchor="end" font-weight="normal" font-style="normal" fill="#1c1c1c" font-family="Liberation Sans, Arial, sans-serif" stroke="#1c1c1c" stroke-width="0.28">1140</text>
<line x1="457.30" y1="598.99" x2="458.80" y2="598.99" stroke="#6a6a6a" stroke-width="0.9"/>
<text x="456.50" y="602.00" font-size="8.4" text-anchor="end" font-weight="normal" font-style="normal" fill="#1c1c1c" font-family="Liberation Sans, Arial, sans-serif" stroke="#1c1c1c" stroke-width="0.28">1145</text>
<line x1="457.30" y1="580.21" x2="458.80" y2="580.21" stroke="#6a6a6a" stroke-width="0.9"/>
<text x="456.50" y="583.22" font-size="8.4" text-anchor="end" font-weight="normal" font-style="normal" fill="#1c1c1c" font-family="Liberation Sans, Arial, sans-serif" stroke="#1c1c1c" stroke-width="0.28">1150</text>
<line x1="457.90" y1="608.38" x2="458.80" y2="608.38" stroke="#6a6a6a" stroke-width="0.9"/>
<line x1="457.90" y1="589.60" x2="458.80" y2="589.60" stroke="#6a6a6a" stroke-width="0.9"/>
<line x1="466.51" y1="621.90" x2="466.51" y2="623.40" stroke="#6a6a6a" stroke-width="0.9"/>
<text x="465.61" y="631.40" font-size="8.4" text-anchor="middle" font-weight="normal" font-style="normal" fill="#1c1c1c" font-family="Liberation Sans, Arial, sans-serif" stroke="#1c1c1c" stroke-width="0.28">-30</text>
<line x1="481.92" y1="621.90" x2="481.92" y2="623.40" stroke="#6a6a6a" stroke-width="0.9"/>
<text x="481.02" y="631.40" font-size="8.4" text-anchor="middle" font-weight="normal" font-style="normal" fill="#1c1c1c" font-family="Liberation Sans, Arial, sans-serif" stroke="#1c1c1c" stroke-width="0.28">-20</text>
<line x1="497.33" y1="621.90" x2="497.33" y2="623.40" stroke="#6a6a6a" stroke-width="0.9"/>
<text x="496.43" y="631.40" font-size="8.4" text-anchor="middle" font-weight="normal" font-style="normal" fill="#1c1c1c" font-family="Liberation Sans, Arial, sans-serif" stroke="#1c1c1c" stroke-width="0.28">-10</text>
<line x1="512.75" y1="621.90" x2="512.75" y2="623.40" stroke="#6a6a6a" stroke-width="0.9"/>
<text x="512.75" y="631.40" font-size="8.4" text-anchor="middle" font-weight="normal" font-style="normal" fill="#1c1c1c" font-family="Liberation Sans, Arial, sans-serif" stroke="#1c1c1c" stroke-width="0.28">0</text>
<line x1="474.21" y1="621.90" x2="474.21" y2="622.80" stroke="#6a6a6a" stroke-width="0.9"/>
<line x1="489.63" y1="621.90" x2="489.63" y2="622.80" stroke="#6a6a6a" stroke-width="0.9"/>
<line x1="505.04" y1="621.90" x2="505.04" y2="622.80" stroke="#6a6a6a" stroke-width="0.9"/>
<line x1="464.97" y1="615.14" x2="512.75" y2="583.22" stroke="#505050" stroke-width="0.75"/>
<circle cx="464.97" cy="615.14" r="2.8" fill="#b0141f" stroke="#600a12" stroke-width="0.6"/>
<circle cx="472.67" cy="609.99" r="2.8" fill="#9c1428" stroke="#560a16" stroke-width="0.6"/>
<circle cx="480.38" cy="604.84" r="2.8" fill="#701232" stroke="#3e0a1c" stroke-width="0.6"/>
<circle cx="489.63" cy="598.66" r="2.8" fill="#501244" stroke="#2c0a28" stroke-width="0.6"/>
<circle cx="497.33" cy="593.51" r="2.8" fill="#3a1256" stroke="#200a32" stroke-width="0.6"/>
<circle cx="505.04" cy="588.37" r="2.8" fill="#24106c" stroke="#140a40" stroke-width="0.6"/>
<circle cx="512.75" cy="583.22" r="2.8" fill="#1c18b8" stroke="#0e0c6c" stroke-width="0.6"/>
<text x="463.20" y="584.10" font-size="10.3" text-anchor="start" font-weight="normal" font-style="normal" fill="#1c1c1c" font-family="Liberation Sans, Arial, sans-serif" stroke="#1c1c1c" stroke-width="0.28">g2</text>
<text x="487.00" y="610.50" font-size="8.4" font-weight="bold" font-style="normal" fill="#1a1a1a" stroke="#1a1a1a" stroke-width="0.3" font-family="Liberation Serif, serif" text-anchor="start" textLength="13.60" lengthAdjust="spacingAndGlyphs"><tspan fill="#888" stroke="none" font-weight="normal">|</tspan>Δ<tspan font-style="italic">μ</tspan><tspan fill="#888" stroke="none" font-weight="normal">|</tspan></text>
<path d="M493.20 604.10H496.76" stroke="#444" stroke-width="0.55" fill="none"/>
<path d="M497.60 604.10L496.20 603.20L496.20 605.00Z" fill="#444"/>
<text x="501.30" y="611.50" font-size="5.9" font-weight="bold" font-style="italic" fill="#1a1a1a" stroke="#1a1a1a" stroke-width="0.25" font-family="Liberation Serif, serif" text-anchor="start" textLength="12.00" lengthAdjust="spacingAndGlyphs">DFT</text>
<text x="487.20" y="618.90" font-size="8.4" font-weight="bold" font-style="normal" fill="#1a1a1a" stroke="#1a1a1a" stroke-width="0.3" font-family="Liberation Serif, serif" text-anchor="start" textLength="24.90" lengthAdjust="spacingAndGlyphs"><tspan fill="#777" stroke="#777">=</tspan> 0. 29</text>
<text x="354.00" y="569.20" font-size="8.5" text-anchor="middle" font-weight="normal" font-style="normal" fill="#1c1c1c" font-family="Liberation Sans, Arial, sans-serif" transform="rotate(-90 354.00 569.20)" stroke="#1c1c1c" stroke-width="0.28">Wavenumber / cm<tspan dy="-3.2" font-size="5.2">-1</tspan></text>
<text x="438.60" y="643.60" font-size="8.5" text-anchor="middle" font-weight="normal" font-style="normal" fill="#1c1c1c" font-family="Liberation Sans, Arial, sans-serif" stroke="#1c1c1c" stroke-width="0.28">Electric Field (DFT) / MV·cm<tspan dy="-3.2" font-size="5.2">-1</tspan></text>
</svg></body></html>
